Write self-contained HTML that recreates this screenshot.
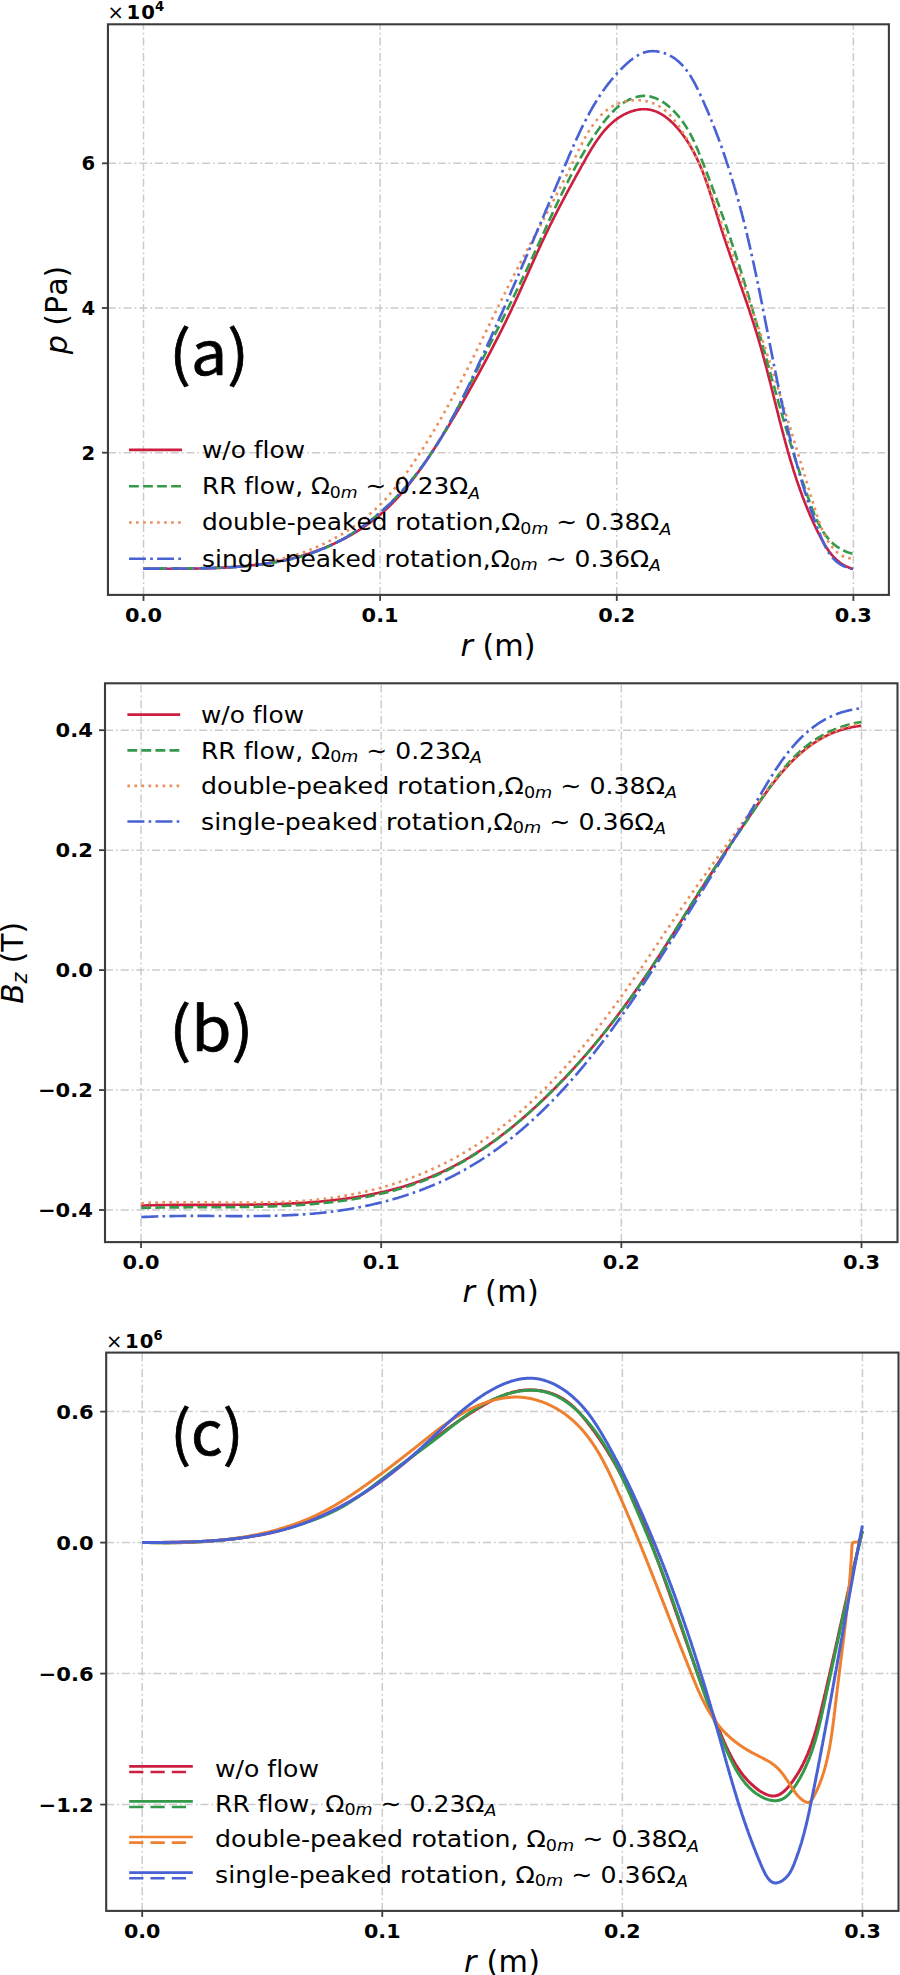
<!DOCTYPE html>
<html><head><meta charset="utf-8"><title>Figure</title>
<style>html,body{margin:0;padding:0;background:#fff;width:900px;height:1975px;overflow:hidden}svg{display:block}</style>
</head><body>
<svg width="900" height="1975" viewBox="0 0 900 1975" font-family="'DejaVu Sans', 'Liberation Sans', sans-serif" fill="#000" style="font-variant-ligatures:none;font-kerning:none">
<rect width="900" height="1975" fill="#fff"/>
<defs>
<clipPath id="clip0"><rect x="107.95" y="24.3" width="780.9499999999999" height="570.6"/></clipPath>
<clipPath id="clip1"><rect x="105.0" y="683.3" width="792.5" height="558.8"/></clipPath>
<clipPath id="clip2"><rect x="106.2" y="1352.6" width="792.3" height="558.3000000000002"/></clipPath>
</defs>
<line x1="143.50" y1="594.90" x2="143.50" y2="24.30" stroke="#cbcbcb" stroke-width="1.5" stroke-dasharray="8 3 1.7 3"/>
<line x1="380.13" y1="594.90" x2="380.13" y2="24.30" stroke="#cbcbcb" stroke-width="1.5" stroke-dasharray="8 3 1.7 3"/>
<line x1="616.76" y1="594.90" x2="616.76" y2="24.30" stroke="#cbcbcb" stroke-width="1.5" stroke-dasharray="8 3 1.7 3"/>
<line x1="853.39" y1="594.90" x2="853.39" y2="24.30" stroke="#cbcbcb" stroke-width="1.5" stroke-dasharray="8 3 1.7 3"/>
<line x1="107.95" y1="163.30" x2="888.90" y2="163.30" stroke="#cbcbcb" stroke-width="1.5" stroke-dasharray="8 3 1.7 3"/>
<line x1="107.95" y1="308.00" x2="888.90" y2="308.00" stroke="#cbcbcb" stroke-width="1.5" stroke-dasharray="8 3 1.7 3"/>
<line x1="107.95" y1="452.70" x2="888.90" y2="452.70" stroke="#cbcbcb" stroke-width="1.5" stroke-dasharray="8 3 1.7 3"/>
<g clip-path="url(#clip0)">
<polyline points="143.1,568.7 144.1,568.7 145.1,568.7 146.1,568.7 147.1,568.7 148.1,568.7 149.1,568.7 150.1,568.7 151.1,568.7 152.1,568.7 153.1,568.7 154.1,568.7 155.1,568.7 156.1,568.7 157.1,568.7 158.1,568.7 159.1,568.7 160.1,568.7 161.1,568.7 162.1,568.7 163.1,568.7 164.1,568.7 165.1,568.7 166.1,568.7 167.1,568.7 168.1,568.7 169.1,568.7 170.1,568.7 171.1,568.7 172.1,568.7 173.1,568.7 174.1,568.7 175.1,568.7 176.1,568.7 177.1,568.7 178.1,568.7 179.1,568.7 180.1,568.7 181.1,568.7 182.1,568.7 183.1,568.7 184.1,568.7 185.1,568.7 186.1,568.7 187.1,568.7 188.1,568.7 189.1,568.6 190.1,568.6 191.1,568.6 192.1,568.6 193.1,568.6 194.1,568.6 195.1,568.6 196.1,568.6 197.1,568.5 198.1,568.5 199.1,568.5 200.1,568.5 201.2,568.5 202.2,568.4 203.2,568.4 204.2,568.4 205.2,568.4 206.2,568.3 207.2,568.3 208.2,568.3 209.2,568.3 210.2,568.2 211.2,568.2 212.2,568.2 213.2,568.1 214.2,568.1 215.2,568.1 216.2,568.0 217.2,568.0 218.2,567.9 219.2,567.9 220.2,567.8 221.2,567.8 222.2,567.7 223.2,567.7 224.2,567.6 225.2,567.6 226.2,567.5 227.2,567.5 228.2,567.4 229.2,567.3 230.2,567.3 231.2,567.2 232.2,567.1 233.2,567.1 234.2,567.0 235.1,566.9 236.1,566.9 237.1,566.8 238.1,566.7 239.1,566.6 240.1,566.5 241.1,566.4 242.1,566.4 243.1,566.3 244.1,566.2 245.1,566.1 246.1,566.0 247.1,565.9 248.1,565.8 249.1,565.7 250.0,565.6 251.0,565.5 252.0,565.3 253.0,565.2 254.0,565.1 255.0,565.0 256.0,564.9 257.0,564.7 257.9,564.6 258.9,564.5 259.9,564.4 260.9,564.2 261.9,564.1 262.9,563.9 263.9,563.8 264.8,563.7 265.8,563.5 266.8,563.3 267.8,563.2 268.8,563.0 269.7,562.9 270.7,562.7 271.7,562.5 272.7,562.4 273.7,562.2 274.6,562.0 275.6,561.8 276.6,561.7 277.6,561.5 278.5,561.3 279.5,561.1 280.5,560.9 281.4,560.7 282.4,560.5 283.4,560.3 284.4,560.1 285.3,559.9 286.3,559.6 287.3,559.4 288.2,559.2 289.2,559.0 290.2,558.7 291.1,558.5 292.1,558.3 293.1,558.0 294.0,557.8 295.0,557.5 295.9,557.3 296.9,557.0 297.9,556.8 298.8,556.5 299.8,556.2 300.7,556.0 301.7,555.7 302.7,555.4 303.6,555.1 304.6,554.8 305.5,554.6 306.5,554.3 307.4,554.0 308.4,553.7 309.3,553.4 310.3,553.0 311.2,552.7 312.2,552.4 313.1,552.1 314.1,551.8 315.0,551.4 315.9,551.1 316.9,550.7 317.8,550.4 318.8,550.1 319.7,549.7 320.6,549.3 321.6,549.0 322.5,548.6 323.5,548.2 324.4,547.9 325.3,547.5 326.3,547.1 327.2,546.7 328.1,546.3 329.0,545.9 330.0,545.5 330.9,545.1 331.8,544.7 332.7,544.3 333.7,543.9 334.6,543.4 335.5,543.0 336.4,542.6 337.3,542.1 338.2,541.7 339.1,541.3 340.1,540.8 341.0,540.4 341.9,539.9 342.8,539.4 343.7,539.0 344.6,538.5 345.5,538.0 346.4,537.5 347.2,537.1 348.1,536.6 349.0,536.1 349.9,535.6 350.8,535.1 351.7,534.6 352.5,534.1 353.4,533.6 354.3,533.0 355.1,532.5 356.0,532.0 356.9,531.5 357.7,530.9 358.6,530.4 359.4,529.9 360.3,529.3 361.1,528.8 362.0,528.2 362.8,527.7 363.7,527.1 364.5,526.5 365.3,526.0 366.2,525.4 367.0,524.8 367.8,524.2 368.6,523.6 369.4,523.0 370.2,522.5 371.0,521.9 371.9,521.3 372.7,520.6 373.4,520.0 374.2,519.4 375.0,518.8 375.8,518.2 376.6,517.6 377.4,516.9 378.1,516.3 378.9,515.7 379.7,515.0 380.4,514.4 381.2,513.7 381.9,513.1 382.7,512.4 383.4,511.8 384.2,511.1 384.9,510.4 385.6,509.8 386.4,509.1 387.1,508.4 387.8,507.7 388.5,507.0 389.2,506.3 389.9,505.6 390.6,505.0 391.3,504.3 392.0,503.6 392.7,502.8 393.4,502.1 394.1,501.4 394.8,500.7 395.5,500.0 396.2,499.3 396.8,498.5 397.5,497.8 398.2,497.1 398.8,496.4 399.5,495.6 400.1,494.9 400.8,494.1 401.5,493.4 402.1,492.6 402.7,491.9 403.4,491.1 404.0,490.4 404.7,489.6 405.3,488.9 405.9,488.1 406.6,487.3 407.2,486.6 407.8,485.8 408.4,485.0 409.0,484.3 409.7,483.5 410.3,482.7 410.9,481.9 411.5,481.1 412.1,480.4 412.7,479.6 413.3,478.8 413.9,478.0 414.5,477.2 415.1,476.4 415.7,475.6 416.3,474.8 416.9,474.0 417.5,473.2 418.0,472.4 418.6,471.6 419.2,470.8 419.8,470.0 420.4,469.2 420.9,468.3 421.5,467.5 422.1,466.7 422.7,465.9 423.2,465.1 423.8,464.3 424.4,463.4 424.9,462.6 425.5,461.8 426.1,461.0 426.6,460.1 427.2,459.3 427.7,458.5 428.3,457.6 428.8,456.8 429.4,456.0 430.0,455.2 430.5,454.3 431.1,453.5 431.6,452.6 432.2,451.8 432.7,451.0 433.3,450.1 433.8,449.3 434.4,448.5 434.9,447.6 435.4,446.8 436.0,445.9 436.5,445.1 437.1,444.3 437.6,443.4 438.2,442.6 438.7,441.7 439.2,440.9 439.8,440.0 440.3,439.2 440.8,438.3 441.4,437.5 441.9,436.6 442.4,435.8 443.0,434.9 443.5,434.1 444.0,433.2 444.6,432.4 445.1,431.5 445.6,430.7 446.2,429.8 446.7,429.0 447.2,428.1 447.7,427.3 448.3,426.4 448.8,425.6 449.3,424.7 449.8,423.8 450.3,423.0 450.9,422.1 451.4,421.3 451.9,420.4 452.4,419.5 452.9,418.7 453.5,417.8 454.0,417.0 454.5,416.1 455.0,415.2 455.5,414.4 456.0,413.5 456.5,412.6 457.0,411.8 457.5,410.9 458.1,410.1 458.6,409.2 459.1,408.3 459.6,407.5 460.1,406.6 460.6,405.7 461.1,404.9 461.6,404.0 462.1,403.1 462.6,402.3 463.1,401.4 463.6,400.5 464.1,399.6 464.6,398.8 465.1,397.9 465.6,397.0 466.1,396.2 466.6,395.3 467.1,394.4 467.6,393.6 468.1,392.7 468.6,391.8 469.0,390.9 469.5,390.1 470.0,389.2 470.5,388.3 471.0,387.5 471.5,386.6 472.0,385.7 472.5,384.8 473.0,384.0 473.4,383.1 473.9,382.2 474.4,381.3 474.9,380.5 475.4,379.6 475.9,378.7 476.3,377.9 476.8,377.0 477.3,376.1 477.8,375.2 478.3,374.4 478.7,373.5 479.2,372.6 479.7,371.7 480.2,370.9 480.6,370.0 481.1,369.1 481.6,368.2 482.1,367.4 482.5,366.5 483.0,365.6 483.5,364.7 483.9,363.9 484.4,363.0 484.9,362.1 485.4,361.3 485.8,360.4 486.3,359.5 486.8,358.6 487.2,357.8 487.7,356.9 488.2,356.0 488.6,355.1 489.1,354.3 489.5,353.4 490.0,352.5 490.5,351.6 490.9,350.7 491.4,349.9 491.8,349.0 492.3,348.1 492.8,347.2 493.2,346.4 493.7,345.5 494.1,344.6 494.6,343.7 495.0,342.8 495.5,342.0 495.9,341.1 496.4,340.2 496.8,339.3 497.3,338.4 497.7,337.6 498.2,336.7 498.6,335.8 499.1,334.9 499.5,334.0 500.0,333.1 500.4,332.2 500.9,331.4 501.3,330.5 501.8,329.6 502.2,328.7 502.7,327.8 503.1,326.9 503.5,326.0 504.0,325.1 504.4,324.2 504.9,323.3 505.3,322.5 505.7,321.6 506.2,320.7 506.6,319.8 507.0,318.9 507.5,318.0 507.9,317.1 508.3,316.2 508.8,315.3 509.2,314.4 509.6,313.5 510.1,312.6 510.5,311.7 510.9,310.8 511.4,309.8 511.8,308.9 512.2,308.0 512.6,307.1 513.1,306.2 513.5,305.3 513.9,304.4 514.3,303.5 514.8,302.6 515.2,301.6 515.6,300.7 516.0,299.8 516.4,298.9 516.9,298.0 517.3,297.1 517.7,296.1 518.1,295.2 518.5,294.3 519.0,293.4 519.4,292.5 519.8,291.5 520.2,290.6 520.6,289.7 521.0,288.8 521.5,287.9 521.9,286.9 522.3,286.0 522.7,285.1 523.1,284.2 523.5,283.2 523.9,282.3 524.4,281.4 524.8,280.5 525.2,279.5 525.6,278.6 526.0,277.7 526.4,276.8 526.8,275.8 527.2,274.9 527.7,274.0 528.1,273.1 528.5,272.1 528.9,271.2 529.3,270.3 529.7,269.4 530.1,268.4 530.5,267.5 531.0,266.6 531.4,265.7 531.8,264.8 532.2,263.8 532.6,262.9 533.0,262.0 533.4,261.1 533.8,260.2 534.3,259.2 534.7,258.3 535.1,257.4 535.5,256.5 535.9,255.6 536.3,254.7 536.7,253.7 537.1,252.8 537.6,251.9 538.0,251.0 538.4,250.1 538.8,249.2 539.2,248.3 539.6,247.4 540.1,246.5 540.5,245.6 540.9,244.7 541.3,243.7 541.7,242.8 542.2,241.9 542.6,241.0 543.0,240.1 543.4,239.3 543.8,238.4 544.3,237.5 544.7,236.6 545.1,235.7 545.5,234.8 546.0,233.9 546.4,233.0 546.8,232.1 547.2,231.2 547.7,230.4 548.1,229.5 548.5,228.6 548.9,227.7 549.4,226.8 549.8,226.0 550.2,225.1 550.7,224.2 551.1,223.3 551.5,222.5 552.0,221.6 552.4,220.7 552.8,219.9 553.3,219.0 553.7,218.1 554.2,217.2 554.6,216.4 555.0,215.5 555.5,214.6 555.9,213.8 556.4,212.9 556.8,212.0 557.3,211.2 557.7,210.3 558.1,209.5 558.6,208.6 559.0,207.7 559.5,206.9 559.9,206.0 560.4,205.1 560.8,204.3 561.3,203.4 561.7,202.6 562.2,201.7 562.7,200.8 563.1,200.0 563.6,199.1 564.0,198.2 564.5,197.4 565.0,196.5 565.4,195.7 565.9,194.8 566.3,193.9 566.8,193.1 567.3,192.2 567.7,191.3 568.2,190.5 568.7,189.6 569.1,188.7 569.6,187.9 570.1,187.0 570.6,186.1 571.0,185.3 571.5,184.4 572.0,183.5 572.5,182.7 572.9,181.8 573.4,180.9 573.9,180.0 574.4,179.2 574.9,178.3 575.3,177.4 575.8,176.5 576.3,175.6 576.8,174.8 577.3,173.9 577.8,173.0 578.3,172.1 578.8,171.2 579.3,170.3 579.8,169.4 580.3,168.6 580.7,167.7 581.2,166.8 581.7,165.9 582.2,165.0 582.8,164.1 583.3,163.2 583.8,162.3 584.3,161.4 584.8,160.5 585.3,159.6 585.8,158.6 586.3,157.7 586.8,156.8 587.3,155.9 587.9,155.0 588.4,154.1 588.9,153.2 589.4,152.3 590.0,151.4 590.5,150.5 591.1,149.6 591.6,148.7 592.1,147.8 592.7,146.9 593.3,146.0 593.8,145.2 594.4,144.3 594.9,143.4 595.5,142.5 596.1,141.7 596.7,140.8 597.3,140.0 597.9,139.1 598.5,138.3 599.1,137.4 599.7,136.6 600.3,135.8 600.9,135.0 601.6,134.1 602.2,133.3 602.8,132.5 603.5,131.8 604.1,131.0 604.8,130.2 605.5,129.4 606.1,128.7 606.8,128.0 607.5,127.2 608.2,126.5 608.9,125.8 609.7,125.1 610.4,124.4 611.1,123.7 611.9,123.0 612.6,122.4 613.4,121.7 614.1,121.1 614.9,120.5 615.7,119.9 616.5,119.3 617.3,118.7 618.1,118.1 618.9,117.6 619.8,117.0 620.6,116.5 621.5,116.0 622.3,115.5 623.2,115.0 624.0,114.5 624.9,114.1 625.8,113.7 626.7,113.3 627.6,112.9 628.5,112.5 629.4,112.1 630.3,111.8 631.2,111.5 632.1,111.2 633.0,110.9 633.9,110.6 634.8,110.4 635.7,110.2 636.6,110.0 637.6,109.8 638.5,109.6 639.4,109.5 640.3,109.4 641.2,109.3 642.1,109.2 643.0,109.2 644.0,109.2 644.9,109.2 645.8,109.2 646.7,109.3 647.6,109.4 648.5,109.5 649.3,109.6 650.2,109.8 651.1,110.0 652.0,110.2 652.9,110.4 653.7,110.7 654.6,111.0 655.4,111.3 656.3,111.6 657.1,112.0 658.0,112.4 658.8,112.8 659.6,113.2 660.5,113.6 661.3,114.1 662.1,114.6 662.9,115.1 663.7,115.6 664.5,116.2 665.3,116.7 666.0,117.3 666.8,117.9 667.6,118.5 668.3,119.1 669.1,119.7 669.8,120.4 670.6,121.0 671.3,121.7 672.1,122.4 672.8,123.1 673.5,123.8 674.2,124.5 674.9,125.3 675.6,126.0 676.3,126.8 677.0,127.5 677.6,128.3 678.3,129.1 679.0,129.8 679.6,130.6 680.2,131.4 680.9,132.2 681.5,133.0 682.1,133.8 682.7,134.6 683.3,135.5 683.9,136.3 684.5,137.1 685.1,137.9 685.7,138.8 686.2,139.6 686.8,140.4 687.4,141.3 687.9,142.1 688.4,143.0 689.0,143.8 689.5,144.7 690.0,145.6 690.5,146.4 691.0,147.3 691.5,148.2 692.0,149.0 692.5,149.9 693.0,150.8 693.5,151.7 694.0,152.6 694.4,153.5 694.9,154.4 695.3,155.3 695.8,156.2 696.2,157.1 696.7,158.0 697.1,158.9 697.5,159.8 698.0,160.7 698.4,161.6 698.8,162.5 699.2,163.5 699.6,164.4 700.0,165.3 700.4,166.2 700.8,167.2 701.2,168.1 701.6,169.0 702.0,170.0 702.3,170.9 702.7,171.8 703.1,172.8 703.4,173.7 703.8,174.7 704.2,175.6 704.5,176.6 704.9,177.5 705.2,178.5 705.6,179.4 705.9,180.4 706.2,181.3 706.6,182.3 706.9,183.3 707.3,184.2 707.6,185.2 707.9,186.1 708.2,187.1 708.6,188.1 708.9,189.0 709.2,190.0 709.5,191.0 709.8,191.9 710.1,192.9 710.4,193.9 710.8,194.9 711.1,195.8 711.4,196.8 711.7,197.8 712.0,198.7 712.3,199.7 712.6,200.7 712.9,201.7 713.2,202.6 713.5,203.6 713.8,204.6 714.1,205.6 714.4,206.5 714.7,207.5 715.0,208.5 715.3,209.4 715.6,210.4 715.9,211.4 716.2,212.4 716.5,213.3 716.8,214.3 717.1,215.3 717.4,216.3 717.7,217.2 718.0,218.2 718.3,219.2 718.6,220.1 718.9,221.1 719.2,222.1 719.5,223.0 719.8,224.0 720.1,225.0 720.4,225.9 720.7,226.9 721.0,227.8 721.3,228.8 721.6,229.8 721.9,230.7 722.3,231.7 722.6,232.6 722.9,233.6 723.2,234.5 723.5,235.5 723.8,236.5 724.1,237.4 724.5,238.4 724.8,239.3 725.1,240.3 725.4,241.2 725.7,242.2 726.0,243.1 726.4,244.1 726.7,245.0 727.0,246.0 727.3,246.9 727.7,247.9 728.0,248.8 728.3,249.8 728.6,250.7 728.9,251.6 729.3,252.6 729.6,253.5 729.9,254.5 730.2,255.4 730.6,256.4 730.9,257.3 731.2,258.2 731.6,259.2 731.9,260.1 732.2,261.1 732.5,262.0 732.9,263.0 733.2,263.9 733.5,264.8 733.8,265.8 734.2,266.7 734.5,267.6 734.8,268.6 735.2,269.5 735.5,270.5 735.8,271.4 736.1,272.3 736.5,273.3 736.8,274.2 737.1,275.1 737.5,276.1 737.8,277.0 738.1,278.0 738.4,278.9 738.8,279.8 739.1,280.8 739.4,281.7 739.8,282.6 740.1,283.6 740.4,284.5 740.7,285.4 741.1,286.4 741.4,287.3 741.7,288.2 742.0,289.2 742.4,290.1 742.7,291.1 743.0,292.0 743.3,292.9 743.7,293.9 744.0,294.8 744.3,295.7 744.6,296.7 745.0,297.6 745.3,298.5 745.6,299.5 745.9,300.4 746.2,301.3 746.6,302.3 746.9,303.2 747.2,304.2 747.5,305.1 747.8,306.0 748.1,307.0 748.5,307.9 748.8,308.8 749.1,309.8 749.4,310.7 749.7,311.7 750.0,312.6 750.3,313.5 750.6,314.5 751.0,315.4 751.3,316.3 751.6,317.3 751.9,318.2 752.2,319.2 752.5,320.1 752.8,321.1 753.1,322.0 753.4,322.9 753.7,323.9 754.0,324.8 754.3,325.8 754.6,326.7 754.9,327.7 755.2,328.6 755.5,329.5 755.8,330.5 756.1,331.4 756.4,332.4 756.7,333.3 757.0,334.3 757.2,335.2 757.5,336.2 757.8,337.1 758.1,338.1 758.4,339.0 758.7,340.0 758.9,340.9 759.2,341.9 759.5,342.8 759.8,343.8 760.1,344.7 760.3,345.7 760.6,346.7 760.9,347.6 761.2,348.6 761.4,349.5 761.7,350.5 762.0,351.4 762.2,352.4 762.5,353.4 762.8,354.3 763.0,355.3 763.3,356.2 763.5,357.2 763.8,358.2 764.1,359.1 764.3,360.1 764.6,361.1 764.8,362.0 765.1,363.0 765.4,363.9 765.6,364.9 765.9,365.9 766.1,366.8 766.4,367.8 766.6,368.8 766.9,369.7 767.1,370.7 767.4,371.7 767.6,372.6 767.9,373.6 768.1,374.6 768.4,375.5 768.6,376.5 768.9,377.5 769.1,378.4 769.4,379.4 769.6,380.4 769.9,381.4 770.1,382.3 770.4,383.3 770.6,384.3 770.9,385.2 771.1,386.2 771.3,387.2 771.6,388.2 771.8,389.1 772.1,390.1 772.3,391.1 772.6,392.0 772.8,393.0 773.0,394.0 773.3,395.0 773.5,395.9 773.8,396.9 774.0,397.9 774.3,398.9 774.5,399.8 774.7,400.8 775.0,401.8 775.2,402.7 775.5,403.7 775.7,404.7 776.0,405.7 776.2,406.6 776.4,407.6 776.7,408.6 776.9,409.6 777.2,410.5 777.4,411.5 777.7,412.5 777.9,413.5 778.2,414.4 778.4,415.4 778.6,416.4 778.9,417.4 779.1,418.3 779.4,419.3 779.6,420.3 779.9,421.2 780.1,422.2 780.4,423.2 780.6,424.2 780.9,425.1 781.1,426.1 781.4,427.1 781.6,428.1 781.9,429.0 782.1,430.0 782.4,431.0 782.7,431.9 782.9,432.9 783.2,433.9 783.4,434.9 783.7,435.8 783.9,436.8 784.2,437.8 784.5,438.7 784.7,439.7 785.0,440.7 785.2,441.6 785.5,442.6 785.8,443.6 786.0,444.5 786.3,445.5 786.6,446.5 786.8,447.4 787.1,448.4 787.4,449.4 787.6,450.3 787.9,451.3 788.2,452.3 788.5,453.2 788.7,454.2 789.0,455.2 789.3,456.1 789.6,457.1 789.9,458.1 790.1,459.0 790.4,460.0 790.7,460.9 791.0,461.9 791.3,462.9 791.6,463.8 791.9,464.8 792.2,465.7 792.5,466.7 792.8,467.7 793.0,468.6 793.3,469.6 793.6,470.5 793.9,471.5 794.2,472.4 794.6,473.4 794.9,474.3 795.2,475.3 795.5,476.3 795.8,477.2 796.1,478.2 796.4,479.1 796.7,480.1 797.0,481.0 797.4,482.0 797.7,482.9 798.0,483.9 798.3,484.8 798.7,485.7 799.0,486.7 799.3,487.6 799.7,488.6 800.0,489.5 800.3,490.5 800.7,491.4 801.0,492.3 801.4,493.3 801.7,494.2 802.0,495.2 802.4,496.1 802.7,497.0 803.1,498.0 803.5,498.9 803.8,499.8 804.2,500.8 804.5,501.7 804.9,502.6 805.3,503.6 805.6,504.5 806.0,505.4 806.4,506.4 806.8,507.3 807.1,508.2 807.5,509.1 807.9,510.1 808.3,511.0 808.7,511.9 809.1,512.8 809.5,513.8 809.8,514.7 810.2,515.6 810.6,516.5 811.0,517.4 811.5,518.4 811.9,519.3 812.3,520.2 812.7,521.1 813.1,522.0 813.5,522.9 813.9,523.8 814.4,524.7 814.8,525.7 815.2,526.6 815.7,527.5 816.1,528.4 816.5,529.3 817.0,530.2 817.4,531.1 817.9,532.0 818.3,532.9 818.8,533.8 819.2,534.7 819.7,535.6 820.2,536.5 820.6,537.4 821.1,538.3 821.6,539.1 822.0,540.0 822.5,540.9 823.0,541.8 823.5,542.6 824.0,543.5 824.5,544.4 825.0,545.2 825.6,546.1 826.1,546.9 826.6,547.7 827.2,548.6 827.7,549.4 828.3,550.2 828.8,551.0 829.4,551.8 830.0,552.5 830.6,553.3 831.2,554.1 831.8,554.8 832.4,555.5 833.1,556.3 833.7,557.0 834.4,557.7 835.0,558.3 835.7,559.0 836.4,559.7 837.1,560.3 837.8,560.9 838.6,561.5 839.3,562.1 840.1,562.7 840.9,563.3 841.6,563.8 842.4,564.3 843.3,564.8 844.1,565.3 844.9,565.8 845.8,566.2 846.7,566.6 847.6,567.0 848.5,567.4 849.4,567.8 850.4,568.1 851.3,568.4 852.3,568.7 853.3,569.0" fill="none" stroke="#cc1f40" stroke-width="2.65" stroke-linejoin="round" stroke-linecap="butt"/>
<polyline points="143.1,568.7 144.1,568.7 145.0,568.7 146.0,568.6 146.9,568.6 147.9,568.6 148.9,568.6 149.8,568.6 150.8,568.6 151.8,568.5 152.7,568.5 153.7,568.5 154.7,568.5 155.6,568.5 156.6,568.5 157.6,568.5 158.6,568.5 159.6,568.5 160.5,568.5 161.5,568.4 162.5,568.4 163.5,568.4 164.5,568.4 165.4,568.4 166.4,568.4 167.4,568.4 168.4,568.4 169.4,568.4 170.4,568.4 171.4,568.4 172.4,568.4 173.4,568.4 174.4,568.4 175.4,568.4 176.4,568.4 177.4,568.4 178.4,568.4 179.4,568.4 180.4,568.3 181.4,568.3 182.4,568.3 183.4,568.3 184.4,568.3 185.4,568.3 186.4,568.3 187.4,568.3 188.4,568.3 189.4,568.3 190.4,568.3 191.4,568.3 192.4,568.3 193.4,568.3 194.4,568.2 195.5,568.2 196.5,568.2 197.5,568.2 198.5,568.2 199.5,568.2 200.5,568.2 201.5,568.1 202.5,568.1 203.6,568.1 204.6,568.1 205.6,568.1 206.6,568.1 207.6,568.0 208.6,568.0 209.7,568.0 210.7,568.0 211.7,567.9 212.7,567.9 213.7,567.9 214.7,567.8 215.8,567.8 216.8,567.8 217.8,567.7 218.8,567.7 219.8,567.7 220.8,567.6 221.9,567.6 222.9,567.5 223.9,567.5 224.9,567.5 225.9,567.4 226.9,567.4 228.0,567.3 229.0,567.3 230.0,567.2 231.0,567.1 232.0,567.1 233.0,567.0 234.1,567.0 235.1,566.9 236.1,566.8 237.1,566.8 238.1,566.7 239.1,566.6 240.2,566.6 241.2,566.5 242.2,566.4 243.2,566.3 244.2,566.2 245.2,566.1 246.2,566.1 247.2,566.0 248.3,565.9 249.3,565.8 250.3,565.7 251.3,565.6 252.3,565.5 253.3,565.4 254.3,565.3 255.3,565.2 256.3,565.0 257.3,564.9 258.3,564.8 259.3,564.7 260.3,564.6 261.3,564.4 262.3,564.3 263.3,564.2 264.3,564.0 265.3,563.9 266.3,563.8 267.3,563.6 268.3,563.5 269.3,563.3 270.3,563.2 271.3,563.0 272.3,562.8 273.3,562.7 274.3,562.5 275.3,562.3 276.3,562.2 277.2,562.0 278.2,561.8 279.2,561.6 280.2,561.4 281.2,561.3 282.2,561.1 283.1,560.9 284.1,560.7 285.1,560.5 286.1,560.2 287.0,560.0 288.0,559.8 289.0,559.6 290.0,559.4 290.9,559.1 291.9,558.9 292.9,558.7 293.8,558.4 294.8,558.2 295.8,557.9 296.7,557.7 297.7,557.4 298.6,557.2 299.6,556.9 300.5,556.6 301.5,556.4 302.4,556.1 303.4,555.8 304.3,555.5 305.3,555.2 306.2,554.9 307.2,554.6 308.1,554.3 309.0,554.0 310.0,553.7 310.9,553.4 311.8,553.1 312.8,552.8 313.7,552.4 314.6,552.1 315.6,551.8 316.5,551.4 317.4,551.1 318.3,550.7 319.2,550.3 320.2,550.0 321.1,549.6 322.0,549.2 322.9,548.9 323.8,548.5 324.7,548.1 325.6,547.7 326.5,547.3 327.4,546.9 328.3,546.5 329.2,546.1 330.1,545.7 331.0,545.2 331.9,544.8 332.7,544.4 333.6,543.9 334.5,543.5 335.4,543.1 336.3,542.6 337.1,542.2 338.0,541.7 338.9,541.2 339.7,540.8 340.6,540.3 341.5,539.8 342.3,539.3 343.2,538.9 344.1,538.4 344.9,537.9 345.8,537.4 346.6,536.9 347.5,536.4 348.3,535.9 349.2,535.3 350.0,534.8 350.8,534.3 351.7,533.8 352.5,533.2 353.3,532.7 354.2,532.2 355.0,531.6 355.8,531.1 356.6,530.5 357.5,530.0 358.3,529.4 359.1,528.9 359.9,528.3 360.7,527.7 361.5,527.2 362.3,526.6 363.2,526.0 364.0,525.4 364.8,524.8 365.6,524.2 366.3,523.6 367.1,523.0 367.9,522.4 368.7,521.8 369.5,521.2 370.3,520.6 371.1,520.0 371.9,519.4 372.6,518.7 373.4,518.1 374.2,517.5 374.9,516.9 375.7,516.2 376.5,515.6 377.2,514.9 378.0,514.3 378.8,513.6 379.5,513.0 380.3,512.3 381.0,511.7 381.8,511.0 382.5,510.3 383.3,509.7 384.0,509.0 384.7,508.3 385.5,507.6 386.2,507.0 386.9,506.3 387.7,505.6 388.4,504.9 389.1,504.2 389.8,503.5 390.6,502.8 391.3,502.1 392.0,501.4 392.7,500.7 393.4,500.0 394.1,499.3 394.8,498.6 395.5,497.9 396.2,497.1 396.9,496.4 397.6,495.7 398.3,495.0 399.0,494.2 399.7,493.5 400.3,492.8 401.0,492.0 401.7,491.3 402.4,490.5 403.0,489.8 403.7,489.1 404.4,488.3 405.0,487.6 405.7,486.8 406.4,486.0 407.0,485.3 407.7,484.5 408.3,483.8 409.0,483.0 409.6,482.2 410.3,481.5 410.9,480.7 411.6,479.9 412.2,479.1 412.8,478.4 413.4,477.6 414.1,476.8 414.7,476.0 415.3,475.2 415.9,474.4 416.6,473.7 417.2,472.9 417.8,472.1 418.4,471.3 419.0,470.5 419.6,469.7 420.2,468.9 420.8,468.1 421.4,467.3 422.0,466.5 422.6,465.7 423.2,464.9 423.7,464.1 424.3,463.2 424.9,462.4 425.5,461.6 426.1,460.8 426.6,460.0 427.2,459.2 427.8,458.3 428.3,457.5 428.9,456.7 429.5,455.9 430.0,455.0 430.6,454.2 431.1,453.4 431.7,452.6 432.2,451.7 432.8,450.9 433.3,450.1 433.9,449.2 434.4,448.4 434.9,447.5 435.5,446.7 436.0,445.9 436.5,445.0 437.1,444.2 437.6,443.3 438.1,442.5 438.6,441.6 439.2,440.8 439.7,439.9 440.2,439.1 440.7,438.2 441.2,437.4 441.7,436.5 442.3,435.7 442.8,434.8 443.3,434.0 443.8,433.1 444.3,432.2 444.8,431.4 445.3,430.5 445.8,429.7 446.3,428.8 446.8,427.9 447.3,427.1 447.8,426.2 448.3,425.3 448.8,424.5 449.2,423.6 449.7,422.7 450.2,421.8 450.7,421.0 451.2,420.1 451.7,419.2 452.1,418.4 452.6,417.5 453.1,416.6 453.6,415.7 454.1,414.8 454.5,414.0 455.0,413.1 455.5,412.2 456.0,411.3 456.4,410.4 456.9,409.6 457.4,408.7 457.8,407.8 458.3,406.9 458.8,406.0 459.2,405.1 459.7,404.3 460.2,403.4 460.6,402.5 461.1,401.6 461.5,400.7 462.0,399.8 462.5,398.9 462.9,398.0 463.4,397.2 463.8,396.3 464.3,395.4 464.7,394.5 465.2,393.6 465.7,392.7 466.1,391.8 466.6,390.9 467.0,390.0 467.5,389.1 467.9,388.2 468.4,387.4 468.8,386.5 469.3,385.6 469.7,384.7 470.2,383.8 470.6,382.9 471.1,382.0 471.5,381.1 472.0,380.2 472.4,379.3 472.9,378.4 473.3,377.5 473.8,376.6 474.2,375.7 474.7,374.8 475.1,373.9 475.6,373.0 476.0,372.1 476.5,371.2 476.9,370.3 477.4,369.4 477.8,368.6 478.3,367.7 478.7,366.8 479.2,365.9 479.6,365.0 480.1,364.1 480.5,363.2 481.0,362.3 481.4,361.4 481.9,360.5 482.3,359.6 482.8,358.7 483.2,357.8 483.7,356.9 484.1,356.0 484.6,355.1 485.0,354.2 485.5,353.3 485.9,352.4 486.4,351.5 486.8,350.6 487.3,349.8 487.7,348.9 488.2,348.0 488.6,347.1 489.1,346.2 489.5,345.3 490.0,344.4 490.4,343.5 490.9,342.6 491.3,341.7 491.8,340.8 492.2,339.9 492.7,339.0 493.1,338.1 493.5,337.2 494.0,336.3 494.4,335.4 494.9,334.5 495.3,333.6 495.8,332.7 496.2,331.8 496.7,331.0 497.1,330.1 497.6,329.2 498.0,328.3 498.5,327.4 498.9,326.5 499.4,325.6 499.8,324.7 500.3,323.8 500.7,322.9 501.2,322.0 501.6,321.1 502.1,320.2 502.5,319.3 502.9,318.4 503.4,317.5 503.8,316.6 504.3,315.7 504.7,314.8 505.2,313.9 505.6,313.0 506.1,312.1 506.5,311.2 506.9,310.4 507.4,309.5 507.8,308.6 508.3,307.7 508.7,306.8 509.2,305.9 509.6,305.0 510.0,304.1 510.5,303.2 510.9,302.3 511.4,301.4 511.8,300.5 512.3,299.6 512.7,298.7 513.1,297.8 513.6,296.9 514.0,296.0 514.4,295.1 514.9,294.2 515.3,293.3 515.8,292.4 516.2,291.5 516.6,290.6 517.1,289.7 517.5,288.8 517.9,287.9 518.4,287.0 518.8,286.1 519.2,285.2 519.7,284.3 520.1,283.4 520.5,282.5 521.0,281.6 521.4,280.7 521.8,279.8 522.3,278.9 522.7,278.0 523.1,277.1 523.6,276.2 524.0,275.4 524.4,274.5 524.8,273.6 525.3,272.7 525.7,271.8 526.1,270.9 526.5,270.0 527.0,269.1 527.4,268.2 527.8,267.3 528.2,266.4 528.7,265.5 529.1,264.6 529.5,263.7 529.9,262.8 530.4,261.9 530.8,260.9 531.2,260.0 531.6,259.1 532.0,258.2 532.5,257.3 532.9,256.4 533.3,255.5 533.7,254.6 534.1,253.7 534.5,252.8 534.9,251.9 535.4,251.0 535.8,250.1 536.2,249.2 536.6,248.3 537.0,247.4 537.4,246.5 537.8,245.6 538.2,244.7 538.7,243.8 539.1,242.9 539.5,242.0 539.9,241.1 540.3,240.2 540.7,239.3 541.1,238.4 541.5,237.5 541.9,236.6 542.3,235.7 542.8,234.8 543.2,233.9 543.6,233.0 544.0,232.1 544.4,231.2 544.8,230.3 545.2,229.4 545.6,228.5 546.0,227.6 546.4,226.6 546.8,225.7 547.3,224.8 547.7,223.9 548.1,223.0 548.5,222.1 548.9,221.2 549.3,220.3 549.7,219.4 550.1,218.5 550.5,217.6 551.0,216.7 551.4,215.8 551.8,214.9 552.2,214.0 552.6,213.1 553.0,212.2 553.4,211.3 553.9,210.4 554.3,209.5 554.7,208.6 555.1,207.7 555.5,206.8 556.0,205.9 556.4,205.0 556.8,204.1 557.2,203.2 557.7,202.3 558.1,201.4 558.5,200.5 558.9,199.6 559.4,198.7 559.8,197.8 560.2,196.9 560.6,196.0 561.1,195.1 561.5,194.3 561.9,193.4 562.4,192.5 562.8,191.6 563.3,190.7 563.7,189.8 564.1,188.9 564.6,188.0 565.0,187.1 565.5,186.2 565.9,185.3 566.4,184.4 566.8,183.5 567.3,182.6 567.7,181.8 568.2,180.9 568.6,180.0 569.1,179.1 569.5,178.2 570.0,177.3 570.4,176.4 570.9,175.5 571.4,174.6 571.8,173.8 572.3,172.9 572.8,172.0 573.2,171.1 573.7,170.2 574.2,169.3 574.7,168.5 575.1,167.6 575.6,166.7 576.1,165.8 576.6,164.9 577.1,164.0 577.6,163.2 578.1,162.3 578.6,161.4 579.0,160.5 579.5,159.7 580.0,158.8 580.5,157.9 581.0,157.0 581.6,156.1 582.1,155.3 582.6,154.4 583.1,153.5 583.6,152.7 584.1,151.8 584.6,150.9 585.2,150.0 585.7,149.2 586.2,148.3 586.7,147.4 587.3,146.6 587.8,145.7 588.3,144.8 588.9,144.0 589.4,143.1 590.0,142.2 590.5,141.4 591.1,140.5 591.6,139.6 592.2,138.8 592.7,137.9 593.3,137.1 593.9,136.2 594.4,135.4 595.0,134.5 595.6,133.6 596.1,132.8 596.7,131.9 597.3,131.1 597.9,130.2 598.5,129.4 599.1,128.5 599.7,127.7 600.3,126.8 600.9,126.0 601.5,125.2 602.1,124.3 602.7,123.5 603.3,122.7 603.9,121.9 604.6,121.0 605.2,120.2 605.8,119.4 606.5,118.6 607.1,117.9 607.8,117.1 608.5,116.3 609.1,115.6 609.8,114.8 610.5,114.1 611.2,113.3 611.9,112.6 612.6,111.9 613.3,111.2 614.0,110.5 614.7,109.8 615.4,109.1 616.1,108.4 616.9,107.8 617.6,107.2 618.4,106.5 619.2,105.9 619.9,105.3 620.7,104.7 621.5,104.2 622.3,103.6 623.1,103.1 623.9,102.5 624.7,102.0 625.6,101.5 626.4,101.1 627.3,100.6 628.1,100.2 629.0,99.7 629.9,99.3 630.8,98.9 631.7,98.6 632.6,98.2 633.5,97.9 634.4,97.6 635.4,97.3 636.3,97.0 637.3,96.8 638.2,96.6 639.2,96.4 640.1,96.2 641.1,96.1 642.0,96.0 643.0,95.9 644.0,95.9 644.9,95.9 645.9,96.0 646.8,96.0 647.7,96.1 648.7,96.3 649.6,96.4 650.5,96.6 651.5,96.9 652.4,97.1 653.3,97.4 654.2,97.7 655.1,98.0 656.0,98.4 656.9,98.8 657.8,99.2 658.7,99.6 659.6,100.1 660.4,100.6 661.3,101.1 662.2,101.6 663.0,102.1 663.9,102.7 664.7,103.2 665.5,103.8 666.3,104.4 667.2,105.1 668.0,105.7 668.8,106.4 669.5,107.0 670.3,107.7 671.1,108.4 671.9,109.1 672.6,109.8 673.3,110.6 674.1,111.3 674.8,112.1 675.5,112.8 676.2,113.6 676.9,114.4 677.6,115.1 678.2,115.9 678.9,116.7 679.5,117.5 680.2,118.3 680.8,119.1 681.4,119.9 682.0,120.7 682.6,121.5 683.2,122.4 683.8,123.2 684.3,124.0 684.9,124.8 685.4,125.7 686.0,126.5 686.5,127.4 687.0,128.2 687.5,129.1 688.0,129.9 688.5,130.8 689.0,131.7 689.5,132.5 690.0,133.4 690.5,134.3 690.9,135.1 691.4,136.0 691.8,136.9 692.3,137.8 692.7,138.7 693.1,139.6 693.6,140.4 694.0,141.3 694.4,142.2 694.8,143.1 695.2,144.0 695.6,144.9 696.0,145.8 696.4,146.8 696.8,147.7 697.2,148.6 697.6,149.5 698.0,150.4 698.4,151.3 698.7,152.2 699.1,153.2 699.5,154.1 699.9,155.0 700.2,155.9 700.6,156.8 701.0,157.8 701.3,158.7 701.7,159.6 702.0,160.5 702.4,161.5 702.8,162.4 703.1,163.3 703.5,164.2 703.9,165.2 704.2,166.1 704.6,167.0 704.9,168.0 705.3,168.9 705.7,169.8 706.0,170.8 706.4,171.7 706.7,172.6 707.1,173.6 707.4,174.5 707.8,175.4 708.1,176.4 708.5,177.3 708.9,178.2 709.2,179.2 709.6,180.1 709.9,181.0 710.3,182.0 710.6,182.9 711.0,183.8 711.3,184.8 711.7,185.7 712.0,186.7 712.4,187.6 712.7,188.5 713.1,189.5 713.4,190.4 713.8,191.3 714.1,192.3 714.5,193.2 714.8,194.2 715.1,195.1 715.5,196.1 715.8,197.0 716.2,197.9 716.5,198.9 716.9,199.8 717.2,200.8 717.5,201.7 717.9,202.7 718.2,203.6 718.6,204.5 718.9,205.5 719.2,206.4 719.6,207.4 719.9,208.3 720.3,209.3 720.6,210.2 720.9,211.2 721.3,212.1 721.6,213.1 721.9,214.0 722.3,215.0 722.6,215.9 722.9,216.9 723.3,217.8 723.6,218.7 723.9,219.7 724.3,220.6 724.6,221.6 724.9,222.5 725.3,223.5 725.6,224.4 725.9,225.4 726.2,226.3 726.6,227.3 726.9,228.2 727.2,229.2 727.5,230.2 727.9,231.1 728.2,232.1 728.5,233.0 728.8,234.0 729.2,234.9 729.5,235.9 729.8,236.8 730.1,237.8 730.5,238.7 730.8,239.7 731.1,240.6 731.4,241.6 731.7,242.5 732.0,243.5 732.4,244.4 732.7,245.4 733.0,246.3 733.3,247.3 733.6,248.3 733.9,249.2 734.2,250.2 734.6,251.1 734.9,252.1 735.2,253.0 735.5,254.0 735.8,254.9 736.1,255.9 736.4,256.8 736.7,257.8 737.0,258.8 737.3,259.7 737.7,260.7 738.0,261.6 738.3,262.6 738.6,263.5 738.9,264.5 739.2,265.4 739.5,266.4 739.8,267.4 740.1,268.3 740.4,269.3 740.7,270.2 741.0,271.2 741.3,272.1 741.6,273.1 741.9,274.0 742.2,275.0 742.5,276.0 742.8,276.9 743.1,277.9 743.4,278.8 743.6,279.8 743.9,280.7 744.2,281.7 744.5,282.6 744.8,283.6 745.1,284.6 745.4,285.5 745.7,286.5 746.0,287.4 746.3,288.4 746.5,289.3 746.8,290.3 747.1,291.2 747.4,292.2 747.7,293.1 748.0,294.1 748.3,295.1 748.5,296.0 748.8,297.0 749.1,297.9 749.4,298.9 749.7,299.8 750.0,300.8 750.2,301.7 750.5,302.7 750.8,303.7 751.1,304.6 751.3,305.6 751.6,306.5 751.9,307.5 752.2,308.4 752.5,309.4 752.7,310.3 753.0,311.3 753.3,312.2 753.6,313.2 753.8,314.2 754.1,315.1 754.4,316.1 754.7,317.0 754.9,318.0 755.2,318.9 755.5,319.9 755.7,320.8 756.0,321.8 756.3,322.7 756.6,323.7 756.8,324.7 757.1,325.6 757.4,326.6 757.6,327.5 757.9,328.5 758.2,329.4 758.4,330.4 758.7,331.3 759.0,332.3 759.3,333.2 759.5,334.2 759.8,335.2 760.1,336.1 760.3,337.1 760.6,338.0 760.9,339.0 761.1,339.9 761.4,340.9 761.7,341.8 761.9,342.8 762.2,343.7 762.5,344.7 762.7,345.7 763.0,346.6 763.3,347.6 763.5,348.5 763.8,349.5 764.1,350.4 764.3,351.4 764.6,352.3 764.8,353.3 765.1,354.2 765.4,355.2 765.6,356.2 765.9,357.1 766.2,358.1 766.4,359.0 766.7,360.0 767.0,360.9 767.2,361.9 767.5,362.8 767.8,363.8 768.0,364.8 768.3,365.7 768.6,366.7 768.8,367.6 769.1,368.6 769.3,369.5 769.6,370.5 769.9,371.4 770.1,372.4 770.4,373.4 770.7,374.3 770.9,375.3 771.2,376.2 771.5,377.2 771.7,378.1 772.0,379.1 772.3,380.0 772.5,381.0 772.8,382.0 773.1,382.9 773.3,383.9 773.6,384.8 773.9,385.8 774.1,386.7 774.4,387.7 774.7,388.7 774.9,389.6 775.2,390.6 775.5,391.5 775.7,392.5 776.0,393.4 776.3,394.4 776.5,395.4 776.8,396.3 777.1,397.3 777.4,398.2 777.6,399.2 777.9,400.1 778.2,401.1 778.4,402.1 778.7,403.0 779.0,404.0 779.2,404.9 779.5,405.9 779.8,406.8 780.1,407.8 780.3,408.8 780.6,409.7 780.9,410.7 781.2,411.6 781.4,412.6 781.7,413.6 782.0,414.5 782.3,415.5 782.5,416.4 782.8,417.4 783.1,418.3 783.4,419.3 783.7,420.3 783.9,421.2 784.2,422.2 784.5,423.1 784.8,424.1 785.1,425.1 785.3,426.0 785.6,427.0 785.9,427.9 786.2,428.9 786.5,429.9 786.7,430.8 787.0,431.8 787.3,432.7 787.6,433.7 787.9,434.7 788.2,435.6 788.5,436.6 788.8,437.6 789.0,438.5 789.3,439.5 789.6,440.4 789.9,441.4 790.2,442.4 790.5,443.3 790.8,444.3 791.1,445.2 791.4,446.2 791.7,447.2 792.0,448.1 792.3,449.1 792.6,450.1 792.8,451.0 793.1,452.0 793.4,452.9 793.7,453.9 794.0,454.9 794.3,455.8 794.6,456.8 794.9,457.8 795.2,458.7 795.6,459.7 795.9,460.7 796.2,461.6 796.5,462.6 796.8,463.5 797.1,464.5 797.4,465.5 797.7,466.4 798.0,467.4 798.3,468.4 798.6,469.3 798.9,470.3 799.3,471.3 799.6,472.2 799.9,473.2 800.2,474.2 800.5,475.1 800.8,476.1 801.2,477.1 801.5,478.0 801.8,479.0 802.1,480.0 802.4,480.9 802.8,481.9 803.1,482.9 803.4,483.8 803.7,484.8 804.1,485.8 804.4,486.7 804.7,487.7 805.1,488.7 805.4,489.6 805.7,490.6 806.1,491.6 806.4,492.5 806.7,493.5 807.1,494.5 807.4,495.4 807.7,496.4 808.1,497.4 808.4,498.4 808.8,499.3 809.1,500.3 809.4,501.3 809.8,502.2 810.1,503.2 810.5,504.2 810.8,505.1 811.2,506.1 811.6,507.1 811.9,508.0 812.3,509.0 812.6,509.9 813.0,510.9 813.4,511.9 813.8,512.8 814.1,513.7 814.5,514.7 814.9,515.6 815.3,516.6 815.7,517.5 816.1,518.4 816.5,519.3 817.0,520.2 817.4,521.1 817.8,522.0 818.2,522.9 818.7,523.8 819.1,524.7 819.6,525.6 820.1,526.4 820.5,527.3 821.0,528.2 821.5,529.0 822.0,529.8 822.5,530.7 823.0,531.5 823.5,532.3 824.1,533.1 824.6,533.9 825.2,534.7 825.7,535.4 826.3,536.2 826.9,536.9 827.5,537.7 828.1,538.4 828.7,539.1 829.3,539.8 829.9,540.5 830.6,541.2 831.2,541.8 831.9,542.5 832.6,543.1 833.3,543.8 834.0,544.4 834.7,545.0 835.5,545.5 836.2,546.1 837.0,546.7 837.8,547.2 838.5,547.7 839.3,548.2 840.2,548.7 841.0,549.2 841.9,549.7 842.7,550.1 843.6,550.5 844.5,551.0 845.4,551.3 846.3,551.7 847.3,552.1 848.2,552.4 849.2,552.7 850.2,553.0 851.2,553.3 852.3,553.6 853.3,553.8" fill="none" stroke="#35994a" stroke-width="2.65" stroke-dasharray="9.80 4.24" stroke-linejoin="round" stroke-linecap="butt"/>
<polyline points="143.1,568.7 144.1,568.7 145.1,568.7 146.1,568.7 147.1,568.7 148.1,568.7 149.1,568.7 150.1,568.6 151.1,568.6 152.1,568.6 153.1,568.6 154.1,568.6 155.1,568.6 156.1,568.6 157.1,568.6 158.1,568.6 159.1,568.6 160.1,568.6 161.1,568.6 162.1,568.6 163.1,568.6 164.1,568.6 165.1,568.6 166.1,568.6 167.1,568.6 168.1,568.6 169.1,568.6 170.1,568.6 171.1,568.6 172.2,568.6 173.2,568.6 174.2,568.6 175.2,568.6 176.2,568.6 177.2,568.5 178.2,568.5 179.2,568.5 180.2,568.5 181.2,568.5 182.2,568.5 183.2,568.5 184.2,568.5 185.2,568.5 186.2,568.5 187.2,568.5 188.2,568.4 189.2,568.4 190.2,568.4 191.2,568.4 192.2,568.4 193.2,568.4 194.2,568.4 195.2,568.3 196.2,568.3 197.2,568.3 198.2,568.3 199.2,568.2 200.2,568.2 201.2,568.2 202.2,568.2 203.2,568.1 204.2,568.1 205.2,568.1 206.2,568.1 207.2,568.0 208.2,568.0 209.2,567.9 210.2,567.9 211.2,567.9 212.2,567.8 213.2,567.8 214.2,567.7 215.2,567.7 216.2,567.6 217.2,567.6 218.2,567.5 219.2,567.5 220.2,567.4 221.2,567.4 222.2,567.3 223.1,567.3 224.1,567.2 225.1,567.1 226.1,567.1 227.1,567.0 228.1,566.9 229.1,566.8 230.1,566.8 231.1,566.7 232.1,566.6 233.1,566.5 234.1,566.4 235.1,566.4 236.0,566.3 237.0,566.2 238.0,566.1 239.0,566.0 240.0,565.9 241.0,565.8 242.0,565.7 243.0,565.6 243.9,565.5 244.9,565.3 245.9,565.2 246.9,565.1 247.9,565.0 248.9,564.9 249.8,564.7 250.8,564.6 251.8,564.5 252.8,564.3 253.8,564.2 254.8,564.1 255.7,563.9 256.7,563.8 257.7,563.6 258.7,563.5 259.7,563.3 260.6,563.2 261.6,563.0 262.6,562.8 263.6,562.7 264.5,562.5 265.5,562.3 266.5,562.1 267.4,562.0 268.4,561.8 269.4,561.6 270.4,561.4 271.3,561.2 272.3,561.0 273.3,560.8 274.2,560.6 275.2,560.4 276.2,560.1 277.1,559.9 278.1,559.7 279.1,559.5 280.0,559.2 281.0,559.0 282.0,558.8 282.9,558.5 283.9,558.3 284.8,558.0 285.8,557.8 286.8,557.5 287.7,557.3 288.7,557.0 289.6,556.7 290.6,556.4 291.5,556.2 292.5,555.9 293.5,555.6 294.4,555.3 295.4,555.0 296.3,554.7 297.3,554.4 298.2,554.1 299.2,553.8 300.1,553.4 301.0,553.1 302.0,552.8 302.9,552.5 303.9,552.1 304.8,551.8 305.8,551.4 306.7,551.1 307.6,550.7 308.6,550.4 309.5,550.0 310.5,549.6 311.4,549.3 312.3,548.9 313.3,548.5 314.2,548.1 315.1,547.7 316.0,547.3 317.0,546.9 317.9,546.5 318.8,546.1 319.7,545.7 320.7,545.3 321.6,544.9 322.5,544.4 323.4,544.0 324.3,543.6 325.2,543.1 326.1,542.7 327.1,542.2 328.0,541.8 328.9,541.3 329.8,540.9 330.7,540.4 331.6,539.9 332.5,539.5 333.3,539.0 334.2,538.5 335.1,538.0 336.0,537.5 336.9,537.0 337.8,536.5 338.7,536.0 339.5,535.5 340.4,535.0 341.3,534.5 342.2,534.0 343.0,533.5 343.9,532.9 344.7,532.4 345.6,531.9 346.5,531.3 347.3,530.8 348.2,530.2 349.0,529.7 349.9,529.1 350.7,528.6 351.5,528.0 352.4,527.4 353.2,526.9 354.0,526.3 354.9,525.7 355.7,525.1 356.5,524.6 357.3,524.0 358.1,523.4 359.0,522.8 359.8,522.2 360.6,521.6 361.4,521.0 362.2,520.4 363.0,519.7 363.7,519.1 364.5,518.5 365.3,517.9 366.1,517.2 366.9,516.6 367.6,516.0 368.4,515.3 369.2,514.7 369.9,514.0 370.7,513.4 371.4,512.7 372.2,512.1 372.9,511.4 373.7,510.7 374.4,510.1 375.2,509.4 375.9,508.7 376.6,508.0 377.3,507.3 378.0,506.6 378.8,506.0 379.5,505.3 380.2,504.6 380.9,503.9 381.6,503.2 382.3,502.4 382.9,501.7 383.6,501.0 384.3,500.3 385.0,499.6 385.7,498.8 386.3,498.1 387.0,497.4 387.6,496.7 388.3,495.9 388.9,495.2 389.6,494.4 390.2,493.7 390.9,492.9 391.5,492.2 392.2,491.4 392.8,490.7 393.4,489.9 394.0,489.2 394.7,488.4 395.3,487.6 395.9,486.9 396.5,486.1 397.1,485.3 397.7,484.5 398.3,483.8 398.9,483.0 399.5,482.2 400.1,481.4 400.7,480.6 401.3,479.8 401.9,479.0 402.5,478.3 403.1,477.5 403.7,476.7 404.3,475.9 404.9,475.1 405.4,474.3 406.0,473.5 406.6,472.7 407.2,471.9 407.7,471.1 408.3,470.2 408.9,469.4 409.4,468.6 410.0,467.8 410.6,467.0 411.1,466.2 411.7,465.4 412.3,464.6 412.8,463.7 413.4,462.9 413.9,462.1 414.5,461.3 415.0,460.5 415.6,459.6 416.2,458.8 416.7,458.0 417.3,457.2 417.8,456.3 418.3,455.5 418.9,454.7 419.4,453.8 420.0,453.0 420.5,452.2 421.1,451.3 421.6,450.5 422.1,449.7 422.7,448.8 423.2,448.0 423.7,447.2 424.3,446.3 424.8,445.5 425.3,444.6 425.9,443.8 426.4,442.9 426.9,442.1 427.4,441.3 428.0,440.4 428.5,439.6 429.0,438.7 429.5,437.9 430.0,437.0 430.6,436.1 431.1,435.3 431.6,434.4 432.1,433.6 432.6,432.7 433.1,431.9 433.6,431.0 434.2,430.2 434.7,429.3 435.2,428.4 435.7,427.6 436.2,426.7 436.7,425.8 437.2,425.0 437.7,424.1 438.2,423.3 438.7,422.4 439.2,421.5 439.7,420.7 440.2,419.8 440.7,418.9 441.2,418.0 441.7,417.2 442.2,416.3 442.7,415.4 443.2,414.6 443.6,413.7 444.1,412.8 444.6,411.9 445.1,411.1 445.6,410.2 446.1,409.3 446.6,408.4 447.1,407.5 447.5,406.7 448.0,405.8 448.5,404.9 449.0,404.0 449.5,403.1 450.0,402.3 450.4,401.4 450.9,400.5 451.4,399.6 451.9,398.7 452.3,397.8 452.8,397.0 453.3,396.1 453.8,395.2 454.2,394.3 454.7,393.4 455.2,392.5 455.7,391.6 456.1,390.7 456.6,389.9 457.1,389.0 457.5,388.1 458.0,387.2 458.5,386.3 458.9,385.4 459.4,384.5 459.9,383.6 460.3,382.7 460.8,381.8 461.3,380.9 461.7,380.0 462.2,379.1 462.6,378.2 463.1,377.4 463.6,376.5 464.0,375.6 464.5,374.7 464.9,373.8 465.4,372.9 465.9,372.0 466.3,371.1 466.8,370.2 467.2,369.3 467.7,368.4 468.1,367.5 468.6,366.6 469.0,365.7 469.5,364.8 469.9,363.9 470.4,363.0 470.9,362.1 471.3,361.2 471.8,360.3 472.2,359.4 472.7,358.5 473.1,357.6 473.6,356.7 474.0,355.8 474.5,354.9 474.9,354.0 475.4,353.1 475.8,352.2 476.2,351.3 476.7,350.4 477.1,349.5 477.6,348.6 478.0,347.7 478.5,346.8 478.9,345.9 479.4,345.0 479.8,344.1 480.3,343.2 480.7,342.3 481.2,341.4 481.6,340.4 482.0,339.5 482.5,338.6 482.9,337.7 483.4,336.8 483.8,335.9 484.3,335.0 484.7,334.1 485.1,333.2 485.6,332.3 486.0,331.4 486.5,330.5 486.9,329.6 487.4,328.7 487.8,327.8 488.2,326.9 488.7,326.0 489.1,325.1 489.6,324.2 490.0,323.3 490.4,322.4 490.9,321.5 491.3,320.6 491.8,319.7 492.2,318.8 492.6,317.9 493.1,317.0 493.5,316.1 494.0,315.2 494.4,314.3 494.9,313.4 495.3,312.5 495.7,311.6 496.2,310.7 496.6,309.8 497.1,308.9 497.5,308.0 497.9,307.2 498.4,306.3 498.8,305.4 499.3,304.5 499.7,303.6 500.1,302.7 500.6,301.8 501.0,300.9 501.5,300.0 501.9,299.1 502.4,298.2 502.8,297.3 503.2,296.4 503.7,295.5 504.1,294.7 504.6,293.8 505.0,292.9 505.5,292.0 505.9,291.1 506.3,290.2 506.8,289.3 507.2,288.4 507.7,287.5 508.1,286.7 508.6,285.8 509.0,284.9 509.5,284.0 509.9,283.1 510.4,282.2 510.8,281.4 511.3,280.5 511.7,279.6 512.1,278.7 512.6,277.8 513.0,277.0 513.5,276.1 513.9,275.2 514.4,274.3 514.8,273.4 515.3,272.6 515.7,271.7 516.2,270.8 516.6,269.9 517.1,269.1 517.6,268.2 518.0,267.3 518.5,266.5 518.9,265.6 519.4,264.7 519.8,263.8 520.3,263.0 520.7,262.1 521.2,261.2 521.6,260.4 522.1,259.5 522.6,258.6 523.0,257.8 523.5,256.9 523.9,256.0 524.4,255.2 524.8,254.3 525.3,253.4 525.8,252.6 526.2,251.7 526.7,250.9 527.1,250.0 527.6,249.1 528.1,248.3 528.5,247.4 529.0,246.5 529.4,245.7 529.9,244.8 530.4,243.9 530.8,243.1 531.3,242.2 531.8,241.4 532.2,240.5 532.7,239.6 533.1,238.8 533.6,237.9 534.1,237.0 534.5,236.2 535.0,235.3 535.5,234.5 535.9,233.6 536.4,232.7 536.9,231.9 537.3,231.0 537.8,230.1 538.3,229.3 538.7,228.4 539.2,227.5 539.6,226.7 540.1,225.8 540.6,224.9 541.0,224.1 541.5,223.2 542.0,222.3 542.4,221.5 542.9,220.6 543.4,219.7 543.8,218.9 544.3,218.0 544.8,217.1 545.2,216.2 545.7,215.4 546.2,214.5 546.6,213.6 547.1,212.7 547.6,211.9 548.0,211.0 548.5,210.1 549.0,209.2 549.4,208.4 549.9,207.5 550.4,206.6 550.8,205.7 551.3,204.8 551.8,203.9 552.2,203.1 552.7,202.2 553.2,201.3 553.6,200.4 554.1,199.5 554.6,198.6 555.0,197.7 555.5,196.8 556.0,195.9 556.4,195.1 556.9,194.2 557.3,193.3 557.8,192.4 558.3,191.5 558.7,190.6 559.2,189.7 559.7,188.8 560.1,187.9 560.6,186.9 561.1,186.0 561.5,185.1 562.0,184.2 562.4,183.3 562.9,182.4 563.4,181.5 563.8,180.6 564.3,179.6 564.8,178.7 565.2,177.8 565.7,176.9 566.1,176.0 566.6,175.0 567.1,174.1 567.5,173.2 568.0,172.2 568.4,171.3 568.9,170.4 569.4,169.4 569.8,168.5 570.3,167.6 570.7,166.6 571.2,165.7 571.7,164.7 572.1,163.8 572.6,162.8 573.0,161.9 573.5,160.9 573.9,160.0 574.4,159.0 574.9,158.1 575.3,157.1 575.8,156.1 576.2,155.2 576.7,154.2 577.1,153.3 577.6,152.3 578.1,151.4 578.5,150.4 579.0,149.4 579.5,148.5 579.9,147.5 580.4,146.6 580.9,145.7 581.4,144.7 581.8,143.8 582.3,142.8 582.8,141.9 583.3,141.0 583.8,140.0 584.3,139.1 584.8,138.2 585.3,137.3 585.8,136.4 586.3,135.5 586.8,134.6 587.4,133.7 587.9,132.8 588.4,131.9 588.9,131.1 589.5,130.2 590.0,129.3 590.6,128.5 591.1,127.7 591.7,126.8 592.2,126.0 592.8,125.2 593.4,124.4 594.0,123.6 594.6,122.8 595.2,122.0 595.8,121.2 596.4,120.5 597.0,119.7 597.6,119.0 598.3,118.2 598.9,117.5 599.5,116.8 600.2,116.1 600.9,115.4 601.5,114.7 602.2,114.1 602.9,113.4 603.6,112.8 604.3,112.1 605.0,111.5 605.7,110.9 606.5,110.3 607.2,109.8 608.0,109.2 608.7,108.7 609.5,108.1 610.3,107.6 611.1,107.1 611.9,106.7 612.7,106.2 613.5,105.7 614.3,105.3 615.2,104.9 616.0,104.5 616.9,104.1 617.8,103.7 618.7,103.4 619.6,103.0 620.5,102.7 621.4,102.4 622.3,102.1 623.2,101.9 624.2,101.6 625.1,101.4 626.1,101.2 627.0,101.0 628.0,100.8 629.0,100.7 629.9,100.6 630.9,100.4 631.9,100.3 632.9,100.3 633.9,100.2 634.9,100.2 635.8,100.1 636.8,100.1 637.8,100.2 638.8,100.2 639.8,100.3 640.8,100.3 641.8,100.4 642.8,100.6 643.7,100.7 644.7,100.9 645.7,101.0 646.6,101.2 647.6,101.5 648.6,101.7 649.5,102.0 650.4,102.3 651.4,102.6 652.3,102.9 653.2,103.2 654.1,103.6 655.0,104.0 655.9,104.4 656.8,104.9 657.7,105.3 658.5,105.8 659.4,106.3 660.2,106.8 661.0,107.4 661.8,107.9 662.6,108.5 663.4,109.1 664.2,109.7 665.0,110.3 665.7,111.0 666.5,111.7 667.2,112.3 668.0,113.0 668.7,113.7 669.4,114.5 670.1,115.2 670.8,116.0 671.5,116.7 672.2,117.5 672.8,118.3 673.5,119.1 674.1,119.9 674.8,120.7 675.4,121.5 676.1,122.4 676.7,123.2 677.3,124.0 677.9,124.9 678.5,125.8 679.1,126.6 679.7,127.5 680.3,128.4 680.9,129.3 681.4,130.1 682.0,131.0 682.6,131.9 683.1,132.8 683.7,133.7 684.2,134.6 684.8,135.5 685.3,136.4 685.8,137.2 686.3,138.1 686.9,139.0 687.4,139.9 687.9,140.8 688.4,141.7 688.9,142.6 689.4,143.5 689.9,144.4 690.3,145.3 690.8,146.2 691.3,147.1 691.8,148.0 692.2,148.9 692.7,149.8 693.1,150.7 693.6,151.6 694.1,152.5 694.5,153.4 694.9,154.3 695.4,155.2 695.8,156.1 696.2,157.0 696.7,157.9 697.1,158.8 697.5,159.7 697.9,160.6 698.3,161.5 698.7,162.4 699.2,163.3 699.6,164.2 700.0,165.2 700.4,166.1 700.7,167.0 701.1,167.9 701.5,168.8 701.9,169.7 702.3,170.6 702.7,171.5 703.0,172.4 703.4,173.4 703.8,174.3 704.2,175.2 704.5,176.1 704.9,177.0 705.2,177.9 705.6,178.8 706.0,179.8 706.3,180.7 706.7,181.6 707.0,182.5 707.4,183.4 707.7,184.3 708.1,185.3 708.4,186.2 708.8,187.1 709.1,188.0 709.4,189.0 709.8,189.9 710.1,190.8 710.4,191.7 710.8,192.6 711.1,193.6 711.4,194.5 711.8,195.4 712.1,196.3 712.4,197.3 712.8,198.2 713.1,199.1 713.4,200.0 713.7,201.0 714.1,201.9 714.4,202.8 714.7,203.8 715.0,204.7 715.4,205.6 715.7,206.5 716.0,207.5 716.3,208.4 716.6,209.3 717.0,210.3 717.3,211.2 717.6,212.1 717.9,213.1 718.3,214.0 718.6,214.9 718.9,215.9 719.2,216.8 719.5,217.7 719.9,218.7 720.2,219.6 720.5,220.5 720.8,221.5 721.2,222.4 721.5,223.3 721.8,224.3 722.2,225.2 722.5,226.2 722.8,227.1 723.1,228.0 723.5,229.0 723.8,229.9 724.1,230.9 724.5,231.8 724.8,232.7 725.1,233.7 725.5,234.6 725.8,235.6 726.1,236.5 726.5,237.4 726.8,238.4 727.2,239.3 727.5,240.3 727.8,241.2 728.2,242.2 728.5,243.1 728.8,244.0 729.2,245.0 729.5,245.9 729.9,246.9 730.2,247.8 730.5,248.8 730.9,249.7 731.2,250.7 731.6,251.6 731.9,252.6 732.2,253.5 732.6,254.4 732.9,255.4 733.3,256.3 733.6,257.3 733.9,258.2 734.3,259.2 734.6,260.1 735.0,261.1 735.3,262.0 735.6,263.0 736.0,263.9 736.3,264.9 736.7,265.8 737.0,266.8 737.4,267.7 737.7,268.7 738.0,269.6 738.4,270.6 738.7,271.5 739.1,272.5 739.4,273.4 739.7,274.4 740.1,275.3 740.4,276.3 740.8,277.2 741.1,278.2 741.5,279.1 741.8,280.1 742.1,281.0 742.5,282.0 742.8,282.9 743.2,283.9 743.5,284.8 743.8,285.8 744.2,286.7 744.5,287.7 744.8,288.6 745.2,289.6 745.5,290.5 745.9,291.5 746.2,292.4 746.5,293.4 746.9,294.3 747.2,295.3 747.5,296.2 747.9,297.2 748.2,298.1 748.5,299.0 748.9,300.0 749.2,300.9 749.5,301.9 749.9,302.8 750.2,303.8 750.5,304.7 750.9,305.7 751.2,306.6 751.5,307.6 751.9,308.5 752.2,309.5 752.5,310.4 752.8,311.4 753.2,312.3 753.5,313.3 753.8,314.2 754.2,315.2 754.5,316.1 754.8,317.1 755.1,318.0 755.4,319.0 755.8,319.9 756.1,320.9 756.4,321.8 756.7,322.7 757.1,323.7 757.4,324.6 757.7,325.6 758.0,326.5 758.3,327.5 758.7,328.4 759.0,329.4 759.3,330.3 759.6,331.3 759.9,332.2 760.2,333.2 760.5,334.1 760.9,335.0 761.2,336.0 761.5,336.9 761.8,337.9 762.1,338.8 762.4,339.8 762.7,340.7 763.1,341.7 763.4,342.6 763.7,343.6 764.0,344.5 764.3,345.4 764.6,346.4 764.9,347.3 765.2,348.3 765.5,349.2 765.8,350.2 766.1,351.1 766.5,352.1 766.8,353.0 767.1,353.9 767.4,354.9 767.7,355.8 768.0,356.8 768.3,357.7 768.6,358.7 768.9,359.6 769.2,360.6 769.5,361.5 769.8,362.5 770.1,363.4 770.4,364.3 770.7,365.3 771.0,366.2 771.3,367.2 771.6,368.1 771.9,369.1 772.2,370.0 772.5,371.0 772.8,371.9 773.1,372.8 773.4,373.8 773.7,374.7 774.0,375.7 774.3,376.6 774.6,377.6 774.9,378.5 775.2,379.5 775.5,380.4 775.8,381.4 776.1,382.3 776.4,383.2 776.7,384.2 777.0,385.1 777.3,386.1 777.6,387.0 777.9,388.0 778.2,388.9 778.5,389.9 778.8,390.8 779.1,391.8 779.4,392.7 779.6,393.7 779.9,394.6 780.2,395.6 780.5,396.5 780.8,397.4 781.1,398.4 781.4,399.3 781.7,400.3 782.0,401.2 782.3,402.2 782.6,403.1 782.9,404.1 783.2,405.0 783.5,406.0 783.8,406.9 784.0,407.9 784.3,408.8 784.6,409.8 784.9,410.7 785.2,411.7 785.5,412.6 785.8,413.6 786.1,414.5 786.4,415.5 786.7,416.4 787.0,417.4 787.3,418.3 787.5,419.3 787.8,420.2 788.1,421.2 788.4,422.1 788.7,423.1 789.0,424.0 789.3,425.0 789.6,425.9 789.9,426.9 790.2,427.8 790.5,428.8 790.7,429.7 791.0,430.7 791.3,431.6 791.6,432.6 791.9,433.5 792.2,434.5 792.5,435.5 792.8,436.4 793.1,437.4 793.4,438.3 793.7,439.3 793.9,440.2 794.2,441.2 794.5,442.1 794.8,443.1 795.1,444.0 795.4,445.0 795.7,446.0 796.0,446.9 796.3,447.9 796.6,448.8 796.9,449.8 797.1,450.7 797.4,451.7 797.7,452.7 798.0,453.6 798.3,454.6 798.6,455.5 798.9,456.5 799.2,457.4 799.5,458.4 799.8,459.4 800.1,460.3 800.4,461.3 800.7,462.2 800.9,463.2 801.2,464.2 801.5,465.1 801.8,466.1 802.1,467.1 802.4,468.0 802.7,469.0 803.0,469.9 803.3,470.9 803.6,471.9 803.9,472.8 804.2,473.8 804.5,474.8 804.8,475.7 805.1,476.7 805.4,477.7 805.7,478.6 805.9,479.6 806.2,480.6 806.5,481.5 806.8,482.5 807.1,483.5 807.4,484.4 807.7,485.4 808.0,486.4 808.3,487.3 808.6,488.3 808.9,489.3 809.2,490.2 809.5,491.2 809.8,492.2 810.1,493.1 810.4,494.1 810.7,495.1 811.0,496.1 811.3,497.0 811.6,498.0 811.9,499.0 812.2,499.9 812.5,500.9 812.8,501.9 813.1,502.9 813.4,503.8 813.7,504.8 814.0,505.8 814.3,506.8 814.6,507.7 814.9,508.7 815.2,509.7 815.6,510.7 815.9,511.7 816.2,512.6 816.5,513.6 816.8,514.6 817.1,515.6 817.4,516.5 817.7,517.5 818.1,518.5 818.4,519.4 818.7,520.4 819.1,521.3 819.4,522.3 819.7,523.3 820.1,524.2 820.4,525.1 820.8,526.1 821.2,527.0 821.5,527.9 821.9,528.9 822.3,529.8 822.7,530.7 823.1,531.6 823.5,532.5 823.9,533.4 824.3,534.3 824.8,535.2 825.2,536.0 825.7,536.9 826.1,537.8 826.6,538.6 827.1,539.5 827.5,540.3 828.0,541.1 828.6,541.9 829.1,542.7 829.6,543.5 830.2,544.3 830.7,545.1 831.3,545.9 831.9,546.6 832.5,547.3 833.1,548.1 833.7,548.8 834.3,549.5 835.0,550.2 835.6,550.9 836.3,551.5 837.0,552.2 837.7,552.8 838.5,553.4 839.2,554.0 840.0,554.6 840.8,555.1 841.6,555.6 842.4,556.0 843.3,556.5 844.2,556.9 845.1,557.2 846.0,557.5 847.0,557.8 848.0,558.0 849.0,558.2 850.0,558.3 851.1,558.4 852.2,558.4 853.3,558.4" fill="none" stroke="#e8905e" stroke-width="2.65" stroke-dasharray="2.65 4.37" stroke-linejoin="round" stroke-linecap="butt"/>
<polyline points="143.1,568.7 144.1,568.7 145.0,568.7 146.0,568.7 146.9,568.7 147.9,568.6 148.9,568.6 149.8,568.6 150.8,568.6 151.8,568.6 152.8,568.6 153.7,568.6 154.7,568.6 155.7,568.6 156.6,568.6 157.6,568.6 158.6,568.6 159.6,568.6 160.6,568.6 161.5,568.6 162.5,568.6 163.5,568.6 164.5,568.6 165.5,568.6 166.5,568.6 167.5,568.6 168.5,568.6 169.4,568.6 170.4,568.6 171.4,568.6 172.4,568.6 173.4,568.5 174.4,568.5 175.4,568.5 176.4,568.5 177.4,568.5 178.4,568.5 179.4,568.5 180.4,568.5 181.4,568.5 182.4,568.5 183.4,568.5 184.4,568.5 185.4,568.5 186.4,568.5 187.4,568.5 188.4,568.5 189.4,568.5 190.5,568.5 191.5,568.4 192.5,568.4 193.5,568.4 194.5,568.4 195.5,568.4 196.5,568.4 197.5,568.4 198.5,568.3 199.6,568.3 200.6,568.3 201.6,568.3 202.6,568.3 203.6,568.2 204.6,568.2 205.6,568.2 206.6,568.2 207.7,568.2 208.7,568.1 209.7,568.1 210.7,568.1 211.7,568.0 212.7,568.0 213.8,568.0 214.8,567.9 215.8,567.9 216.8,567.9 217.8,567.8 218.8,567.8 219.9,567.7 220.9,567.7 221.9,567.7 222.9,567.6 223.9,567.6 224.9,567.5 226.0,567.5 227.0,567.4 228.0,567.3 229.0,567.3 230.0,567.2 231.0,567.2 232.1,567.1 233.1,567.0 234.1,567.0 235.1,566.9 236.1,566.8 237.1,566.8 238.1,566.7 239.2,566.6 240.2,566.5 241.2,566.4 242.2,566.4 243.2,566.3 244.2,566.2 245.2,566.1 246.2,566.0 247.3,565.9 248.3,565.8 249.3,565.7 250.3,565.6 251.3,565.5 252.3,565.4 253.3,565.3 254.3,565.2 255.3,565.1 256.3,564.9 257.3,564.8 258.3,564.7 259.3,564.6 260.3,564.4 261.3,564.3 262.3,564.2 263.3,564.0 264.3,563.9 265.3,563.8 266.3,563.6 267.3,563.5 268.3,563.3 269.3,563.2 270.3,563.0 271.3,562.8 272.3,562.7 273.3,562.5 274.3,562.3 275.3,562.2 276.2,562.0 277.2,561.8 278.2,561.6 279.2,561.4 280.2,561.3 281.2,561.1 282.1,560.9 283.1,560.7 284.1,560.5 285.1,560.3 286.1,560.0 287.0,559.8 288.0,559.6 289.0,559.4 289.9,559.2 290.9,558.9 291.9,558.7 292.9,558.5 293.8,558.2 294.8,558.0 295.7,557.7 296.7,557.5 297.7,557.2 298.6,557.0 299.6,556.7 300.5,556.4 301.5,556.2 302.4,555.9 303.4,555.6 304.3,555.3 305.3,555.0 306.2,554.8 307.2,554.5 308.1,554.2 309.0,553.9 310.0,553.5 310.9,553.2 311.9,552.9 312.8,552.6 313.7,552.3 314.6,551.9 315.6,551.6 316.5,551.3 317.4,550.9 318.3,550.6 319.3,550.2 320.2,549.9 321.1,549.5 322.0,549.1 322.9,548.8 323.8,548.4 324.7,548.0 325.6,547.6 326.5,547.2 327.4,546.8 328.3,546.4 329.2,546.0 330.1,545.6 331.0,545.2 331.9,544.8 332.8,544.4 333.7,543.9 334.6,543.5 335.5,543.1 336.3,542.6 337.2,542.2 338.1,541.7 339.0,541.3 339.8,540.8 340.7,540.3 341.6,539.9 342.4,539.4 343.3,538.9 344.2,538.4 345.0,537.9 345.9,537.4 346.7,536.9 347.6,536.4 348.4,535.9 349.3,535.4 350.1,534.9 350.9,534.4 351.8,533.9 352.6,533.3 353.5,532.8 354.3,532.3 355.1,531.7 355.9,531.2 356.8,530.6 357.6,530.1 358.4,529.5 359.2,529.0 360.1,528.4 360.9,527.9 361.7,527.3 362.5,526.7 363.3,526.1 364.1,525.5 364.9,525.0 365.7,524.4 366.5,523.8 367.3,523.2 368.1,522.6 368.9,522.0 369.7,521.4 370.5,520.8 371.2,520.1 372.0,519.5 372.8,518.9 373.6,518.3 374.3,517.6 375.1,517.0 375.9,516.4 376.7,515.7 377.4,515.1 378.2,514.5 378.9,513.8 379.7,513.2 380.4,512.5 381.2,511.8 381.9,511.2 382.7,510.5 383.4,509.8 384.2,509.2 384.9,508.5 385.7,507.8 386.4,507.1 387.1,506.4 387.9,505.8 388.6,505.1 389.3,504.4 390.0,503.7 390.7,503.0 391.5,502.3 392.2,501.6 392.9,500.9 393.6,500.2 394.3,499.4 395.0,498.7 395.7,498.0 396.4,497.3 397.1,496.6 397.8,495.8 398.5,495.1 399.2,494.4 399.9,493.6 400.6,492.9 401.2,492.2 401.9,491.4 402.6,490.7 403.3,489.9 403.9,489.2 404.6,488.4 405.3,487.7 405.9,486.9 406.6,486.2 407.3,485.4 407.9,484.6 408.6,483.9 409.2,483.1 409.9,482.3 410.5,481.6 411.1,480.8 411.8,480.0 412.4,479.2 413.1,478.4 413.7,477.7 414.3,476.9 414.9,476.1 415.6,475.3 416.2,474.5 416.8,473.7 417.4,472.9 418.0,472.1 418.6,471.3 419.2,470.5 419.8,469.7 420.5,468.9 421.0,468.1 421.6,467.3 422.2,466.5 422.8,465.7 423.4,464.9 424.0,464.1 424.6,463.3 425.2,462.4 425.7,461.6 426.3,460.8 426.9,460.0 427.5,459.1 428.0,458.3 428.6,457.5 429.2,456.7 429.7,455.8 430.3,455.0 430.8,454.2 431.4,453.3 431.9,452.5 432.5,451.7 433.0,450.8 433.6,450.0 434.1,449.1 434.7,448.3 435.2,447.5 435.7,446.6 436.3,445.8 436.8,444.9 437.3,444.1 437.8,443.2 438.4,442.4 438.9,441.5 439.4,440.6 439.9,439.8 440.5,438.9 441.0,438.1 441.5,437.2 442.0,436.4 442.5,435.5 443.0,434.6 443.5,433.8 444.0,432.9 444.5,432.0 445.0,431.2 445.5,430.3 446.0,429.4 446.5,428.5 447.0,427.7 447.5,426.8 448.0,425.9 448.5,425.1 448.9,424.2 449.4,423.3 449.9,422.4 450.4,421.5 450.9,420.7 451.3,419.8 451.8,418.9 452.3,418.0 452.8,417.1 453.2,416.2 453.7,415.4 454.2,414.5 454.6,413.6 455.1,412.7 455.6,411.8 456.0,410.9 456.5,410.0 457.0,409.1 457.4,408.3 457.9,407.4 458.3,406.5 458.8,405.6 459.2,404.7 459.7,403.8 460.2,402.9 460.6,402.0 461.1,401.1 461.5,400.2 461.9,399.3 462.4,398.4 462.8,397.5 463.3,396.6 463.7,395.7 464.2,394.8 464.6,393.9 465.0,393.0 465.5,392.1 465.9,391.2 466.4,390.3 466.8,389.4 467.2,388.5 467.7,387.6 468.1,386.7 468.5,385.8 469.0,384.9 469.4,384.0 469.8,383.1 470.3,382.2 470.7,381.3 471.1,380.4 471.6,379.4 472.0,378.5 472.4,377.6 472.8,376.7 473.3,375.8 473.7,374.9 474.1,374.0 474.5,373.1 475.0,372.2 475.4,371.3 475.8,370.4 476.2,369.5 476.7,368.6 477.1,367.7 477.5,366.7 477.9,365.8 478.3,364.9 478.8,364.0 479.2,363.1 479.6,362.2 480.0,361.3 480.4,360.4 480.9,359.5 481.3,358.6 481.7,357.7 482.1,356.8 482.5,355.8 482.9,354.9 483.4,354.0 483.8,353.1 484.2,352.2 484.6,351.3 485.0,350.4 485.4,349.5 485.8,348.6 486.3,347.7 486.7,346.8 487.1,345.9 487.5,344.9 487.9,344.0 488.3,343.1 488.7,342.2 489.1,341.3 489.6,340.4 490.0,339.5 490.4,338.6 490.8,337.7 491.2,336.8 491.6,335.9 492.0,334.9 492.4,334.0 492.8,333.1 493.2,332.2 493.7,331.3 494.1,330.4 494.5,329.5 494.9,328.6 495.3,327.7 495.7,326.8 496.1,325.8 496.5,324.9 496.9,324.0 497.3,323.1 497.7,322.2 498.1,321.3 498.5,320.4 498.9,319.5 499.3,318.6 499.7,317.6 500.1,316.7 500.5,315.8 501.0,314.9 501.4,314.0 501.8,313.1 502.2,312.2 502.6,311.3 503.0,310.4 503.4,309.5 503.8,308.5 504.2,307.6 504.6,306.7 505.0,305.8 505.4,304.9 505.8,304.0 506.2,303.1 506.6,302.2 507.0,301.2 507.4,300.3 507.8,299.4 508.2,298.5 508.6,297.6 509.0,296.7 509.4,295.8 509.8,294.9 510.2,294.0 510.6,293.0 511.0,292.1 511.3,291.2 511.7,290.3 512.1,289.4 512.5,288.5 512.9,287.6 513.3,286.7 513.7,285.7 514.1,284.8 514.5,283.9 514.9,283.0 515.3,282.1 515.7,281.2 516.1,280.3 516.5,279.3 516.9,278.4 517.3,277.5 517.7,276.6 518.1,275.7 518.5,274.8 518.9,273.9 519.3,273.0 519.7,272.0 520.0,271.1 520.4,270.2 520.8,269.3 521.2,268.4 521.6,267.5 522.0,266.6 522.4,265.6 522.8,264.7 523.2,263.8 523.6,262.9 524.0,262.0 524.4,261.1 524.8,260.2 525.2,259.2 525.5,258.3 525.9,257.4 526.3,256.5 526.7,255.6 527.1,254.7 527.5,253.7 527.9,252.8 528.3,251.9 528.7,251.0 529.1,250.1 529.5,249.2 529.8,248.3 530.2,247.3 530.6,246.4 531.0,245.5 531.4,244.6 531.8,243.7 532.2,242.8 532.6,241.8 533.0,240.9 533.4,240.0 533.8,239.1 534.1,238.2 534.5,237.3 534.9,236.3 535.3,235.4 535.7,234.5 536.1,233.6 536.5,232.7 536.9,231.8 537.3,230.8 537.6,229.9 538.0,229.0 538.4,228.1 538.8,227.2 539.2,226.3 539.6,225.3 540.0,224.4 540.4,223.5 540.8,222.6 541.2,221.7 541.5,220.7 541.9,219.8 542.3,218.9 542.7,218.0 543.1,217.1 543.5,216.2 543.9,215.2 544.3,214.3 544.7,213.4 545.1,212.5 545.4,211.6 545.8,210.6 546.2,209.7 546.6,208.8 547.0,207.9 547.4,207.0 547.8,206.0 548.2,205.1 548.6,204.2 548.9,203.3 549.3,202.4 549.7,201.4 550.1,200.5 550.5,199.6 550.9,198.7 551.3,197.8 551.7,196.8 552.1,195.9 552.5,195.0 552.8,194.1 553.2,193.2 553.6,192.2 554.0,191.3 554.4,190.4 554.8,189.5 555.2,188.6 555.6,187.6 556.0,186.7 556.4,185.8 556.8,184.9 557.1,184.0 557.5,183.0 557.9,182.1 558.3,181.2 558.7,180.3 559.1,179.3 559.5,178.4 559.9,177.5 560.3,176.6 560.7,175.7 561.1,174.7 561.5,173.8 561.8,172.9 562.2,172.0 562.6,171.0 563.0,170.1 563.4,169.2 563.8,168.3 564.2,167.4 564.6,166.4 565.0,165.5 565.4,164.6 565.8,163.7 566.2,162.7 566.6,161.8 567.0,160.9 567.4,160.0 567.8,159.0 568.1,158.1 568.5,157.2 568.9,156.3 569.3,155.3 569.7,154.4 570.1,153.5 570.5,152.6 570.9,151.7 571.3,150.7 571.7,149.8 572.1,148.9 572.5,148.0 572.9,147.1 573.3,146.1 573.7,145.2 574.2,144.3 574.6,143.4 575.0,142.5 575.4,141.5 575.8,140.6 576.2,139.7 576.6,138.8 577.0,137.9 577.5,137.0 577.9,136.1 578.3,135.2 578.7,134.3 579.1,133.3 579.6,132.4 580.0,131.5 580.4,130.6 580.9,129.7 581.3,128.8 581.7,127.9 582.2,127.0 582.6,126.1 583.1,125.2 583.5,124.3 583.9,123.4 584.4,122.5 584.8,121.6 585.3,120.8 585.8,119.9 586.2,119.0 586.7,118.1 587.1,117.2 587.6,116.3 588.1,115.5 588.6,114.6 589.0,113.7 589.5,112.8 590.0,111.9 590.5,111.1 591.0,110.2 591.5,109.3 591.9,108.5 592.4,107.6 592.9,106.8 593.4,105.9 593.9,105.0 594.5,104.2 595.0,103.3 595.5,102.5 596.0,101.6 596.5,100.8 597.1,99.9 597.6,99.1 598.1,98.3 598.7,97.4 599.2,96.6 599.8,95.8 600.3,94.9 600.9,94.1 601.4,93.3 602.0,92.5 602.5,91.6 603.1,90.8 603.7,90.0 604.3,89.2 604.9,88.4 605.4,87.6 606.0,86.8 606.6,86.0 607.2,85.2 607.8,84.4 608.4,83.6 609.1,82.8 609.7,82.1 610.3,81.3 610.9,80.5 611.6,79.7 612.2,79.0 612.9,78.2 613.5,77.4 614.2,76.7 614.8,75.9 615.5,75.2 616.1,74.4 616.8,73.7 617.5,72.9 618.2,72.2 618.9,71.5 619.6,70.7 620.3,70.0 621.0,69.3 621.7,68.6 622.4,67.8 623.1,67.1 623.9,66.4 624.6,65.7 625.3,65.0 626.1,64.3 626.8,63.6 627.6,62.9 628.4,62.3 629.1,61.6 629.9,60.9 630.7,60.3 631.5,59.7 632.3,59.0 633.1,58.4 633.9,57.9 634.8,57.3 635.6,56.7 636.4,56.2 637.3,55.7 638.1,55.2 639.0,54.7 639.8,54.3 640.7,53.9 641.6,53.5 642.5,53.1 643.4,52.8 644.3,52.4 645.2,52.2 646.2,51.9 647.1,51.7 648.0,51.5 649.0,51.4 650.0,51.3 650.9,51.2 651.9,51.1 652.9,51.1 653.9,51.2 654.9,51.2 655.9,51.3 656.9,51.4 657.9,51.6 658.9,51.7 659.9,51.9 660.9,52.2 661.8,52.4 662.8,52.7 663.8,53.0 664.7,53.3 665.7,53.7 666.6,54.0 667.5,54.4 668.4,54.8 669.3,55.3 670.1,55.7 671.0,56.2 671.8,56.6 672.7,57.1 673.5,57.7 674.3,58.2 675.1,58.7 675.8,59.3 676.6,59.9 677.3,60.5 678.1,61.1 678.8,61.7 679.5,62.4 680.2,63.0 680.9,63.7 681.5,64.4 682.2,65.1 682.9,65.8 683.5,66.5 684.1,67.2 684.8,68.0 685.4,68.7 686.0,69.5 686.6,70.3 687.1,71.0 687.7,71.8 688.3,72.6 688.8,73.5 689.4,74.3 689.9,75.1 690.5,76.0 691.0,76.8 691.5,77.7 692.0,78.5 692.5,79.4 693.0,80.3 693.5,81.2 694.0,82.0 694.5,82.9 695.0,83.8 695.5,84.7 695.9,85.7 696.4,86.6 696.8,87.5 697.3,88.4 697.8,89.3 698.2,90.3 698.6,91.2 699.1,92.1 699.5,93.0 700.0,94.0 700.4,94.9 700.8,95.8 701.3,96.8 701.7,97.7 702.1,98.6 702.5,99.6 702.9,100.5 703.4,101.5 703.8,102.4 704.2,103.3 704.6,104.3 705.0,105.2 705.4,106.1 705.8,107.1 706.2,108.0 706.7,108.9 707.1,109.9 707.5,110.8 707.9,111.8 708.3,112.7 708.6,113.6 709.0,114.6 709.4,115.5 709.8,116.5 710.2,117.4 710.6,118.3 711.0,119.3 711.4,120.2 711.7,121.2 712.1,122.1 712.5,123.0 712.9,124.0 713.3,124.9 713.6,125.9 714.0,126.8 714.4,127.8 714.7,128.7 715.1,129.6 715.5,130.6 715.8,131.5 716.2,132.5 716.5,133.4 716.9,134.4 717.3,135.3 717.6,136.2 718.0,137.2 718.3,138.1 718.7,139.1 719.0,140.0 719.4,141.0 719.7,141.9 720.1,142.9 720.4,143.8 720.7,144.8 721.1,145.7 721.4,146.6 721.8,147.6 722.1,148.5 722.4,149.5 722.8,150.4 723.1,151.4 723.4,152.3 723.7,153.3 724.1,154.2 724.4,155.2 724.7,156.1 725.0,157.1 725.4,158.0 725.7,159.0 726.0,159.9 726.3,160.9 726.6,161.8 726.9,162.8 727.2,163.7 727.6,164.7 727.9,165.6 728.2,166.6 728.5,167.5 728.8,168.5 729.1,169.4 729.4,170.4 729.7,171.3 730.0,172.3 730.3,173.3 730.6,174.2 730.9,175.2 731.2,176.1 731.5,177.1 731.8,178.0 732.1,179.0 732.3,179.9 732.6,180.9 732.9,181.8 733.2,182.8 733.5,183.8 733.8,184.7 734.1,185.7 734.3,186.6 734.6,187.6 734.9,188.5 735.2,189.5 735.4,190.4 735.7,191.4 736.0,192.4 736.3,193.3 736.5,194.3 736.8,195.2 737.1,196.2 737.4,197.2 737.6,198.1 737.9,199.1 738.2,200.0 738.4,201.0 738.7,202.0 738.9,202.9 739.2,203.9 739.5,204.8 739.7,205.8 740.0,206.8 740.2,207.7 740.5,208.7 740.7,209.6 741.0,210.6 741.3,211.6 741.5,212.5 741.8,213.5 742.0,214.4 742.3,215.4 742.5,216.4 742.8,217.3 743.0,218.3 743.2,219.3 743.5,220.2 743.7,221.2 744.0,222.2 744.2,223.1 744.5,224.1 744.7,225.0 744.9,226.0 745.2,227.0 745.4,227.9 745.6,228.9 745.9,229.9 746.1,230.8 746.4,231.8 746.6,232.8 746.8,233.7 747.1,234.7 747.3,235.7 747.5,236.6 747.7,237.6 748.0,238.6 748.2,239.5 748.4,240.5 748.7,241.5 748.9,242.4 749.1,243.4 749.3,244.4 749.6,245.3 749.8,246.3 750.0,247.3 750.2,248.3 750.4,249.2 750.7,250.2 750.9,251.2 751.1,252.1 751.3,253.1 751.5,254.1 751.7,255.0 752.0,256.0 752.2,257.0 752.4,258.0 752.6,258.9 752.8,259.9 753.0,260.9 753.2,261.8 753.5,262.8 753.7,263.8 753.9,264.8 754.1,265.7 754.3,266.7 754.5,267.7 754.7,268.7 754.9,269.6 755.1,270.6 755.3,271.6 755.6,272.6 755.8,273.5 756.0,274.5 756.2,275.5 756.4,276.5 756.6,277.4 756.8,278.4 757.0,279.4 757.2,280.4 757.4,281.3 757.6,282.3 757.8,283.3 758.0,284.3 758.2,285.2 758.4,286.2 758.6,287.2 758.8,288.2 759.0,289.1 759.2,290.1 759.4,291.1 759.6,292.1 759.8,293.1 760.0,294.0 760.2,295.0 760.4,296.0 760.6,297.0 760.8,298.0 761.0,298.9 761.2,299.9 761.4,300.9 761.6,301.9 761.8,302.8 762.0,303.8 762.1,304.8 762.3,305.8 762.5,306.8 762.7,307.7 762.9,308.7 763.1,309.7 763.3,310.7 763.5,311.7 763.7,312.6 763.9,313.6 764.1,314.6 764.3,315.6 764.5,316.6 764.7,317.6 764.9,318.5 765.0,319.5 765.2,320.5 765.4,321.5 765.6,322.5 765.8,323.4 766.0,324.4 766.2,325.4 766.4,326.4 766.6,327.4 766.8,328.4 767.0,329.3 767.2,330.3 767.3,331.3 767.5,332.3 767.7,333.3 767.9,334.2 768.1,335.2 768.3,336.2 768.5,337.2 768.7,338.2 768.9,339.2 769.1,340.1 769.3,341.1 769.5,342.1 769.7,343.1 769.8,344.1 770.0,345.0 770.2,346.0 770.4,347.0 770.6,348.0 770.8,349.0 771.0,350.0 771.2,350.9 771.4,351.9 771.6,352.9 771.8,353.9 772.0,354.9 772.2,355.9 772.4,356.8 772.6,357.8 772.7,358.8 772.9,359.8 773.1,360.8 773.3,361.7 773.5,362.7 773.7,363.7 773.9,364.7 774.1,365.7 774.3,366.7 774.5,367.6 774.7,368.6 774.9,369.6 775.1,370.6 775.3,371.6 775.5,372.6 775.7,373.5 775.9,374.5 776.1,375.5 776.3,376.5 776.5,377.5 776.7,378.4 776.9,379.4 777.1,380.4 777.3,381.4 777.5,382.4 777.7,383.3 777.9,384.3 778.1,385.3 778.3,386.3 778.5,387.3 778.7,388.2 778.9,389.2 779.1,390.2 779.3,391.2 779.6,392.2 779.8,393.1 780.0,394.1 780.2,395.1 780.4,396.1 780.6,397.1 780.8,398.0 781.0,399.0 781.2,400.0 781.4,401.0 781.6,402.0 781.9,402.9 782.1,403.9 782.3,404.9 782.5,405.9 782.7,406.8 782.9,407.8 783.1,408.8 783.4,409.8 783.6,410.8 783.8,411.7 784.0,412.7 784.2,413.7 784.5,414.7 784.7,415.6 784.9,416.6 785.1,417.6 785.4,418.6 785.6,419.5 785.8,420.5 786.0,421.5 786.2,422.5 786.5,423.4 786.7,424.4 786.9,425.4 787.2,426.4 787.4,427.3 787.6,428.3 787.9,429.3 788.1,430.3 788.3,431.2 788.6,432.2 788.8,433.2 789.0,434.2 789.3,435.1 789.5,436.1 789.7,437.1 790.0,438.0 790.2,439.0 790.5,440.0 790.7,441.0 790.9,441.9 791.2,442.9 791.4,443.9 791.7,444.8 791.9,445.8 792.2,446.8 792.4,447.7 792.7,448.7 792.9,449.7 793.2,450.6 793.4,451.6 793.7,452.6 793.9,453.5 794.2,454.5 794.4,455.5 794.7,456.4 794.9,457.4 795.2,458.4 795.5,459.3 795.7,460.3 796.0,461.3 796.3,462.2 796.5,463.2 796.8,464.2 797.1,465.1 797.3,466.1 797.6,467.1 797.9,468.0 798.1,469.0 798.4,469.9 798.7,470.9 799.0,471.9 799.2,472.8 799.5,473.8 799.8,474.7 800.1,475.7 800.3,476.7 800.6,477.6 800.9,478.6 801.2,479.5 801.5,480.5 801.8,481.5 802.0,482.4 802.3,483.4 802.6,484.3 802.9,485.3 803.2,486.2 803.5,487.2 803.8,488.1 804.1,489.1 804.4,490.1 804.7,491.0 805.0,492.0 805.3,492.9 805.6,493.9 805.9,494.8 806.2,495.8 806.5,496.7 806.8,497.7 807.1,498.6 807.5,499.6 807.8,500.5 808.1,501.5 808.4,502.4 808.7,503.4 809.0,504.3 809.3,505.3 809.7,506.2 810.0,507.2 810.3,508.1 810.6,509.1 811.0,510.0 811.3,510.9 811.6,511.9 812.0,512.8 812.3,513.8 812.6,514.7 813.0,515.7 813.3,516.6 813.6,517.5 814.0,518.5 814.3,519.4 814.7,520.4 815.0,521.3 815.4,522.2 815.7,523.2 816.1,524.1 816.4,525.1 816.8,526.0 817.1,526.9 817.5,527.9 817.8,528.8 818.2,529.7 818.6,530.7 818.9,531.6 819.3,532.5 819.7,533.5 820.0,534.4 820.4,535.3 820.8,536.3 821.1,537.2 821.5,538.1 821.9,539.1 822.3,540.0 822.7,540.9 823.1,541.8 823.5,542.7 823.9,543.6 824.3,544.5 824.8,545.4 825.2,546.3 825.6,547.2 826.1,548.0 826.5,548.9 827.0,549.7 827.5,550.6 828.0,551.4 828.5,552.2 829.0,553.0 829.6,553.8 830.1,554.6 830.7,555.3 831.3,556.1 831.9,556.8 832.5,557.6 833.1,558.3 833.7,558.9 834.4,559.6 835.1,560.3 835.8,560.9 836.5,561.5 837.2,562.1 838.0,562.7 838.8,563.3 839.6,563.8 840.4,564.4 841.2,564.9 842.1,565.3 843.0,565.8 843.9,566.2 844.8,566.6 845.8,567.0 846.8,567.4 847.8,567.7 848.9,568.0 849.9,568.3 851.0,568.6 852.2,568.8 853.3,569.0" fill="none" stroke="#4862d4" stroke-width="2.65" stroke-dasharray="16.96 4.24 2.65 4.24" stroke-linejoin="round" stroke-linecap="butt"/>
</g>
<rect x="107.95" y="24.30" width="780.95" height="570.60" fill="none" stroke="#3c3c3c" stroke-width="2.1"/>
<line x1="143.50" y1="594.90" x2="143.50" y2="600.90" stroke="#3c3c3c" stroke-width="1.8"/>
<line x1="380.13" y1="594.90" x2="380.13" y2="600.90" stroke="#3c3c3c" stroke-width="1.8"/>
<line x1="616.76" y1="594.90" x2="616.76" y2="600.90" stroke="#3c3c3c" stroke-width="1.8"/>
<line x1="853.39" y1="594.90" x2="853.39" y2="600.90" stroke="#3c3c3c" stroke-width="1.8"/>
<line x1="101.95" y1="163.30" x2="107.95" y2="163.30" stroke="#3c3c3c" stroke-width="1.8"/>
<line x1="101.95" y1="308.00" x2="107.95" y2="308.00" stroke="#3c3c3c" stroke-width="1.8"/>
<line x1="101.95" y1="452.70" x2="107.95" y2="452.70" stroke="#3c3c3c" stroke-width="1.8"/>
<line x1="141.05" y1="1242.10" x2="141.05" y2="683.30" stroke="#cbcbcb" stroke-width="1.5" stroke-dasharray="8 3 1.7 3"/>
<line x1="381.20" y1="1242.10" x2="381.20" y2="683.30" stroke="#cbcbcb" stroke-width="1.5" stroke-dasharray="8 3 1.7 3"/>
<line x1="621.35" y1="1242.10" x2="621.35" y2="683.30" stroke="#cbcbcb" stroke-width="1.5" stroke-dasharray="8 3 1.7 3"/>
<line x1="861.50" y1="1242.10" x2="861.50" y2="683.30" stroke="#cbcbcb" stroke-width="1.5" stroke-dasharray="8 3 1.7 3"/>
<line x1="105.00" y1="730.20" x2="897.50" y2="730.20" stroke="#cbcbcb" stroke-width="1.5" stroke-dasharray="8 3 1.7 3"/>
<line x1="105.00" y1="850.15" x2="897.50" y2="850.15" stroke="#cbcbcb" stroke-width="1.5" stroke-dasharray="8 3 1.7 3"/>
<line x1="105.00" y1="970.10" x2="897.50" y2="970.10" stroke="#cbcbcb" stroke-width="1.5" stroke-dasharray="8 3 1.7 3"/>
<line x1="105.00" y1="1090.05" x2="897.50" y2="1090.05" stroke="#cbcbcb" stroke-width="1.5" stroke-dasharray="8 3 1.7 3"/>
<line x1="105.00" y1="1210.00" x2="897.50" y2="1210.00" stroke="#cbcbcb" stroke-width="1.5" stroke-dasharray="8 3 1.7 3"/>
<g clip-path="url(#clip1)">
<polyline points="141.3,1205.6 142.3,1205.6 143.2,1205.5 144.2,1205.5 145.2,1205.5 146.1,1205.4 147.1,1205.4 148.1,1205.4 149.0,1205.3 150.0,1205.3 151.0,1205.3 152.0,1205.3 152.9,1205.2 153.9,1205.2 154.9,1205.2 155.9,1205.2 156.8,1205.2 157.8,1205.1 158.8,1205.1 159.8,1205.1 160.8,1205.1 161.7,1205.1 162.7,1205.0 163.7,1205.0 164.7,1205.0 165.7,1205.0 166.6,1205.0 167.6,1205.0 168.6,1205.0 169.6,1204.9 170.6,1204.9 171.6,1204.9 172.6,1204.9 173.5,1204.9 174.5,1204.9 175.5,1204.9 176.5,1204.9 177.5,1204.9 178.5,1204.9 179.5,1204.9 180.5,1204.8 181.5,1204.8 182.5,1204.8 183.5,1204.8 184.5,1204.8 185.5,1204.8 186.4,1204.8 187.4,1204.8 188.4,1204.8 189.4,1204.8 190.4,1204.8 191.4,1204.8 192.4,1204.8 193.4,1204.8 194.4,1204.8 195.4,1204.8 196.4,1204.8 197.4,1204.8 198.4,1204.8 199.4,1204.8 200.4,1204.8 201.4,1204.8 202.4,1204.8 203.4,1204.8 204.4,1204.8 205.5,1204.8 206.5,1204.8 207.5,1204.8 208.5,1204.8 209.5,1204.8 210.5,1204.8 211.5,1204.8 212.5,1204.8 213.5,1204.8 214.5,1204.8 215.5,1204.8 216.5,1204.8 217.5,1204.8 218.5,1204.8 219.5,1204.8 220.6,1204.8 221.6,1204.8 222.6,1204.8 223.6,1204.8 224.6,1204.8 225.6,1204.8 226.6,1204.8 227.6,1204.8 228.6,1204.8 229.7,1204.8 230.7,1204.8 231.7,1204.8 232.7,1204.8 233.7,1204.7 234.7,1204.7 235.7,1204.7 236.7,1204.7 237.8,1204.7 238.8,1204.7 239.8,1204.7 240.8,1204.7 241.8,1204.7 242.8,1204.7 243.8,1204.7 244.8,1204.7 245.9,1204.7 246.9,1204.7 247.9,1204.6 248.9,1204.6 249.9,1204.6 250.9,1204.6 251.9,1204.6 253.0,1204.6 254.0,1204.6 255.0,1204.6 256.0,1204.5 257.0,1204.5 258.0,1204.5 259.1,1204.5 260.1,1204.5 261.1,1204.5 262.1,1204.4 263.1,1204.4 264.1,1204.4 265.1,1204.4 266.2,1204.3 267.2,1204.3 268.2,1204.3 269.2,1204.3 270.2,1204.2 271.2,1204.2 272.2,1204.2 273.3,1204.2 274.3,1204.1 275.3,1204.1 276.3,1204.1 277.3,1204.0 278.3,1204.0 279.3,1204.0 280.4,1203.9 281.4,1203.9 282.4,1203.9 283.4,1203.8 284.4,1203.8 285.4,1203.7 286.4,1203.7 287.5,1203.6 288.5,1203.6 289.5,1203.6 290.5,1203.5 291.5,1203.5 292.5,1203.4 293.5,1203.4 294.5,1203.3 295.5,1203.3 296.6,1203.2 297.6,1203.1 298.6,1203.1 299.6,1203.0 300.6,1203.0 301.6,1202.9 302.6,1202.9 303.6,1202.8 304.6,1202.7 305.6,1202.7 306.7,1202.6 307.7,1202.5 308.7,1202.4 309.7,1202.4 310.7,1202.3 311.7,1202.2 312.7,1202.1 313.7,1202.1 314.7,1202.0 315.7,1201.9 316.7,1201.8 317.7,1201.7 318.7,1201.7 319.7,1201.6 320.7,1201.5 321.7,1201.4 322.7,1201.3 323.7,1201.2 324.7,1201.1 325.7,1201.0 326.7,1200.9 327.7,1200.8 328.7,1200.7 329.7,1200.6 330.7,1200.5 331.7,1200.4 332.7,1200.3 333.7,1200.2 334.7,1200.1 335.7,1199.9 336.7,1199.8 337.7,1199.7 338.7,1199.6 339.7,1199.5 340.7,1199.3 341.7,1199.2 342.7,1199.1 343.7,1198.9 344.7,1198.8 345.7,1198.7 346.6,1198.5 347.6,1198.4 348.6,1198.3 349.6,1198.1 350.6,1198.0 351.6,1197.8 352.6,1197.7 353.6,1197.5 354.5,1197.4 355.5,1197.2 356.5,1197.1 357.5,1196.9 358.5,1196.7 359.5,1196.6 360.4,1196.4 361.4,1196.2 362.4,1196.1 363.4,1195.9 364.4,1195.7 365.3,1195.5 366.3,1195.4 367.3,1195.2 368.3,1195.0 369.2,1194.8 370.2,1194.6 371.2,1194.4 372.2,1194.2 373.1,1194.0 374.1,1193.8 375.1,1193.6 376.0,1193.4 377.0,1193.2 378.0,1193.0 378.9,1192.8 379.9,1192.6 380.9,1192.4 381.8,1192.2 382.8,1191.9 383.8,1191.7 384.7,1191.5 385.7,1191.3 386.6,1191.0 387.6,1190.8 388.6,1190.6 389.5,1190.3 390.5,1190.1 391.4,1189.8 392.4,1189.6 393.3,1189.3 394.3,1189.1 395.2,1188.8 396.2,1188.6 397.1,1188.3 398.1,1188.0 399.0,1187.8 400.0,1187.5 400.9,1187.2 401.9,1187.0 402.8,1186.7 403.8,1186.4 404.7,1186.1 405.7,1185.8 406.6,1185.5 407.5,1185.2 408.5,1184.9 409.4,1184.6 410.3,1184.3 411.3,1184.0 412.2,1183.7 413.1,1183.4 414.1,1183.1 415.0,1182.8 415.9,1182.5 416.9,1182.1 417.8,1181.8 418.7,1181.5 419.6,1181.2 420.6,1180.8 421.5,1180.5 422.4,1180.1 423.3,1179.8 424.2,1179.4 425.2,1179.1 426.1,1178.7 427.0,1178.4 427.9,1178.0 428.8,1177.6 429.7,1177.3 430.7,1176.9 431.6,1176.5 432.5,1176.2 433.4,1175.8 434.3,1175.4 435.2,1175.0 436.1,1174.6 437.0,1174.2 437.9,1173.8 438.8,1173.4 439.7,1173.0 440.6,1172.6 441.5,1172.2 442.4,1171.8 443.3,1171.4 444.2,1170.9 445.1,1170.5 445.9,1170.1 446.8,1169.6 447.7,1169.2 448.6,1168.8 449.5,1168.3 450.4,1167.9 451.3,1167.4 452.1,1167.0 453.0,1166.5 453.9,1166.1 454.8,1165.6 455.6,1165.1 456.5,1164.7 457.4,1164.2 458.3,1163.7 459.1,1163.2 460.0,1162.8 460.9,1162.3 461.7,1161.8 462.6,1161.3 463.5,1160.8 464.3,1160.3 465.2,1159.8 466.1,1159.3 466.9,1158.8 467.8,1158.3 468.6,1157.8 469.5,1157.3 470.3,1156.8 471.2,1156.2 472.0,1155.7 472.9,1155.2 473.7,1154.7 474.6,1154.1 475.4,1153.6 476.3,1153.1 477.1,1152.5 478.0,1152.0 478.8,1151.4 479.6,1150.9 480.5,1150.3 481.3,1149.8 482.1,1149.2 483.0,1148.7 483.8,1148.1 484.6,1147.6 485.5,1147.0 486.3,1146.4 487.1,1145.9 488.0,1145.3 488.8,1144.7 489.6,1144.1 490.4,1143.6 491.2,1143.0 492.1,1142.4 492.9,1141.8 493.7,1141.2 494.5,1140.6 495.3,1140.0 496.1,1139.5 497.0,1138.9 497.8,1138.3 498.6,1137.7 499.4,1137.1 500.2,1136.4 501.0,1135.8 501.8,1135.2 502.6,1134.6 503.4,1134.0 504.2,1133.4 505.0,1132.8 505.8,1132.2 506.6,1131.5 507.4,1130.9 508.2,1130.3 509.0,1129.7 509.8,1129.0 510.5,1128.4 511.3,1127.8 512.1,1127.1 512.9,1126.5 513.7,1125.8 514.5,1125.2 515.2,1124.6 516.0,1123.9 516.8,1123.3 517.6,1122.6 518.4,1122.0 519.1,1121.3 519.9,1120.7 520.7,1120.0 521.4,1119.4 522.2,1118.7 523.0,1118.0 523.7,1117.4 524.5,1116.7 525.3,1116.0 526.0,1115.4 526.8,1114.7 527.6,1114.0 528.3,1113.4 529.1,1112.7 529.8,1112.0 530.6,1111.4 531.3,1110.7 532.1,1110.0 532.8,1109.3 533.6,1108.6 534.3,1108.0 535.1,1107.3 535.8,1106.6 536.6,1105.9 537.3,1105.2 538.0,1104.5 538.8,1103.8 539.5,1103.2 540.2,1102.5 541.0,1101.8 541.7,1101.1 542.4,1100.4 543.2,1099.7 543.9,1099.0 544.6,1098.3 545.4,1097.6 546.1,1096.9 546.8,1096.2 547.5,1095.5 548.3,1094.8 549.0,1094.1 549.7,1093.4 550.4,1092.7 551.1,1092.0 551.8,1091.3 552.5,1090.6 553.3,1089.8 554.0,1089.1 554.7,1088.4 555.4,1087.7 556.1,1087.0 556.8,1086.3 557.5,1085.6 558.2,1084.8 558.9,1084.1 559.6,1083.4 560.3,1082.7 561.0,1082.0 561.7,1081.3 562.4,1080.5 563.1,1079.8 563.8,1079.1 564.5,1078.4 565.2,1077.6 565.8,1076.9 566.5,1076.2 567.2,1075.5 567.9,1074.7 568.6,1074.0 569.3,1073.3 569.9,1072.5 570.6,1071.8 571.3,1071.1 572.0,1070.3 572.6,1069.6 573.3,1068.9 574.0,1068.1 574.7,1067.4 575.3,1066.7 576.0,1065.9 576.7,1065.2 577.3,1064.4 578.0,1063.7 578.7,1062.9 579.3,1062.2 580.0,1061.5 580.7,1060.7 581.3,1060.0 582.0,1059.2 582.6,1058.5 583.3,1057.7 583.9,1057.0 584.6,1056.2 585.3,1055.5 585.9,1054.7 586.6,1054.0 587.2,1053.2 587.9,1052.5 588.5,1051.7 589.1,1050.9 589.8,1050.2 590.4,1049.4 591.1,1048.7 591.7,1047.9 592.4,1047.1 593.0,1046.4 593.6,1045.6 594.3,1044.9 594.9,1044.1 595.5,1043.3 596.2,1042.6 596.8,1041.8 597.4,1041.0 598.1,1040.3 598.7,1039.5 599.3,1038.7 600.0,1038.0 600.6,1037.2 601.2,1036.4 601.8,1035.6 602.5,1034.9 603.1,1034.1 603.7,1033.3 604.3,1032.5 604.9,1031.8 605.6,1031.0 606.2,1030.2 606.8,1029.4 607.4,1028.7 608.0,1027.9 608.6,1027.1 609.2,1026.3 609.9,1025.5 610.5,1024.8 611.1,1024.0 611.7,1023.2 612.3,1022.4 612.9,1021.6 613.5,1020.8 614.1,1020.0 614.7,1019.3 615.3,1018.5 615.9,1017.7 616.5,1016.9 617.1,1016.1 617.7,1015.3 618.3,1014.5 618.9,1013.7 619.5,1012.9 620.1,1012.1 620.7,1011.3 621.3,1010.5 621.9,1009.7 622.5,1008.9 623.1,1008.1 623.6,1007.3 624.2,1006.5 624.8,1005.7 625.4,1004.9 626.0,1004.1 626.6,1003.3 627.2,1002.5 627.8,1001.7 628.3,1000.9 628.9,1000.1 629.5,999.3 630.1,998.5 630.7,997.7 631.2,996.9 631.8,996.1 632.4,995.3 633.0,994.5 633.5,993.7 634.1,992.8 634.7,992.0 635.3,991.2 635.8,990.4 636.4,989.6 637.0,988.8 637.5,988.0 638.1,987.2 638.7,986.3 639.2,985.5 639.8,984.7 640.4,983.9 640.9,983.1 641.5,982.2 642.1,981.4 642.6,980.6 643.2,979.8 643.7,979.0 644.3,978.1 644.9,977.3 645.4,976.5 646.0,975.7 646.5,974.8 647.1,974.0 647.7,973.2 648.2,972.4 648.8,971.5 649.3,970.7 649.9,969.9 650.4,969.1 651.0,968.2 651.5,967.4 652.1,966.6 652.6,965.7 653.2,964.9 653.7,964.1 654.3,963.2 654.8,962.4 655.4,961.6 655.9,960.7 656.4,959.9 657.0,959.1 657.5,958.2 658.1,957.4 658.6,956.6 659.2,955.7 659.7,954.9 660.2,954.1 660.8,953.2 661.3,952.4 661.9,951.5 662.4,950.7 662.9,949.9 663.5,949.0 664.0,948.2 664.6,947.3 665.1,946.5 665.6,945.7 666.2,944.8 666.7,944.0 667.2,943.1 667.8,942.3 668.3,941.4 668.8,940.6 669.4,939.8 669.9,938.9 670.4,938.1 671.0,937.2 671.5,936.4 672.0,935.5 672.6,934.7 673.1,933.9 673.6,933.0 674.2,932.2 674.7,931.3 675.2,930.5 675.8,929.6 676.3,928.8 676.8,927.9 677.4,927.1 677.9,926.2 678.4,925.4 679.0,924.6 679.5,923.7 680.0,922.9 680.5,922.0 681.1,921.2 681.6,920.3 682.1,919.5 682.7,918.6 683.2,917.8 683.7,916.9 684.2,916.1 684.8,915.2 685.3,914.4 685.8,913.6 686.4,912.7 686.9,911.9 687.4,911.0 688.0,910.2 688.5,909.3 689.0,908.5 689.5,907.6 690.1,906.8 690.6,905.9 691.1,905.1 691.7,904.3 692.2,903.4 692.7,902.6 693.2,901.7 693.8,900.9 694.3,900.0 694.8,899.2 695.4,898.3 695.9,897.5 696.4,896.7 697.0,895.8 697.5,895.0 698.0,894.1 698.6,893.3 699.1,892.4 699.6,891.6 700.2,890.8 700.7,889.9 701.2,889.1 701.8,888.2 702.3,887.4 702.8,886.6 703.4,885.7 703.9,884.9 704.4,884.0 705.0,883.2 705.5,882.4 706.0,881.5 706.6,880.7 707.1,879.9 707.7,879.0 708.2,878.2 708.7,877.4 709.3,876.5 709.8,875.7 710.4,874.8 710.9,874.0 711.4,873.2 712.0,872.3 712.5,871.5 713.1,870.7 713.6,869.9 714.1,869.0 714.7,868.2 715.2,867.4 715.8,866.5 716.3,865.7 716.9,864.9 717.4,864.0 718.0,863.2 718.5,862.4 719.0,861.6 719.6,860.7 720.1,859.9 720.7,859.1 721.2,858.2 721.8,857.4 722.3,856.6 722.9,855.8 723.4,854.9 724.0,854.1 724.5,853.3 725.1,852.4 725.6,851.6 726.2,850.8 726.7,850.0 727.3,849.1 727.9,848.3 728.4,847.5 729.0,846.7 729.5,845.8 730.1,845.0 730.6,844.2 731.2,843.3 731.7,842.5 732.3,841.7 732.9,840.9 733.4,840.0 734.0,839.2 734.5,838.4 735.1,837.6 735.6,836.7 736.2,835.9 736.8,835.1 737.3,834.3 737.9,833.4 738.5,832.6 739.0,831.8 739.6,830.9 740.1,830.1 740.7,829.3 741.3,828.5 741.8,827.6 742.4,826.8 743.0,826.0 743.5,825.1 744.1,824.3 744.7,823.5 745.2,822.6 745.8,821.8 746.4,821.0 746.9,820.2 747.5,819.3 748.1,818.5 748.6,817.7 749.2,816.8 749.8,816.0 750.3,815.2 750.9,814.3 751.5,813.5 752.1,812.7 752.6,811.8 753.2,811.0 753.8,810.2 754.3,809.3 754.9,808.5 755.5,807.6 756.1,806.8 756.7,806.0 757.2,805.1 757.8,804.3 758.4,803.5 759.0,802.6 759.5,801.8 760.1,801.0 760.7,800.2 761.3,799.3 761.9,798.5 762.5,797.7 763.1,796.8 763.7,796.0 764.2,795.2 764.8,794.4 765.4,793.5 766.0,792.7 766.6,791.9 767.2,791.1 767.8,790.3 768.4,789.5 769.0,788.6 769.6,787.8 770.2,787.0 770.8,786.2 771.5,785.4 772.1,784.6 772.7,783.8 773.3,783.0 773.9,782.2 774.5,781.4 775.2,780.6 775.8,779.9 776.4,779.1 777.0,778.3 777.7,777.5 778.3,776.7 778.9,776.0 779.6,775.2 780.2,774.4 780.8,773.7 781.5,772.9 782.1,772.1 782.8,771.4 783.4,770.6 784.1,769.9 784.8,769.1 785.4,768.4 786.1,767.7 786.7,766.9 787.4,766.2 788.1,765.5 788.8,764.8 789.4,764.0 790.1,763.3 790.8,762.6 791.5,761.9 792.2,761.2 792.9,760.5 793.6,759.8 794.3,759.1 795.0,758.5 795.7,757.8 796.4,757.1 797.1,756.4 797.8,755.8 798.5,755.1 799.3,754.5 800.0,753.8 800.7,753.2 801.5,752.5 802.2,751.9 802.9,751.3 803.7,750.7 804.4,750.1 805.2,749.4 806.0,748.8 806.7,748.2 807.5,747.7 808.3,747.1 809.0,746.5 809.8,745.9 810.6,745.3 811.4,744.8 812.2,744.2 813.0,743.7 813.8,743.1 814.6,742.6 815.4,742.1 816.2,741.6 817.0,741.0 817.8,740.5 818.7,740.0 819.5,739.5 820.3,739.1 821.2,738.6 822.0,738.1 822.9,737.6 823.7,737.2 824.6,736.7 825.4,736.3 826.3,735.8 827.2,735.4 828.1,735.0 829.0,734.6 829.8,734.2 830.7,733.8 831.6,733.4 832.5,733.0 833.5,732.6 834.4,732.3 835.3,731.9 836.2,731.6 837.2,731.2 838.1,730.9 839.0,730.6 840.0,730.3 840.9,730.0 841.9,729.7 842.9,729.4 843.8,729.1 844.8,728.8 845.8,728.6 846.8,728.3 847.8,728.1 848.8,727.8 849.8,727.6 850.8,727.4 851.8,727.2 852.9,727.0 853.9,726.8 854.9,726.6 856.0,726.5 857.0,726.3 858.1,726.2 859.2,726.0 860.2,725.9 861.3,725.8" fill="none" stroke="#cc1f40" stroke-width="2.65" stroke-linejoin="round" stroke-linecap="butt"/>
<polyline points="141.3,1208.0 142.3,1208.0 143.2,1207.9 144.2,1207.9 145.2,1207.9 146.1,1207.8 147.1,1207.8 148.1,1207.8 149.0,1207.8 150.0,1207.7 151.0,1207.7 152.0,1207.7 152.9,1207.7 153.9,1207.6 154.9,1207.6 155.9,1207.6 156.8,1207.6 157.8,1207.6 158.8,1207.5 159.8,1207.5 160.7,1207.5 161.7,1207.5 162.7,1207.5 163.7,1207.5 164.7,1207.5 165.7,1207.4 166.6,1207.4 167.6,1207.4 168.6,1207.4 169.6,1207.4 170.6,1207.4 171.6,1207.4 172.6,1207.4 173.5,1207.3 174.5,1207.3 175.5,1207.3 176.5,1207.3 177.5,1207.3 178.5,1207.3 179.5,1207.3 180.5,1207.3 181.5,1207.3 182.5,1207.3 183.5,1207.3 184.4,1207.3 185.4,1207.3 186.4,1207.3 187.4,1207.2 188.4,1207.2 189.4,1207.2 190.4,1207.2 191.4,1207.2 192.4,1207.2 193.4,1207.2 194.4,1207.2 195.4,1207.2 196.4,1207.2 197.4,1207.2 198.4,1207.2 199.4,1207.2 200.4,1207.2 201.4,1207.2 202.4,1207.2 203.4,1207.2 204.4,1207.2 205.4,1207.2 206.4,1207.2 207.5,1207.2 208.5,1207.2 209.5,1207.2 210.5,1207.2 211.5,1207.2 212.5,1207.2 213.5,1207.2 214.5,1207.2 215.5,1207.2 216.5,1207.2 217.5,1207.2 218.5,1207.2 219.5,1207.2 220.5,1207.2 221.6,1207.1 222.6,1207.1 223.6,1207.1 224.6,1207.1 225.6,1207.1 226.6,1207.1 227.6,1207.1 228.6,1207.1 229.6,1207.1 230.7,1207.1 231.7,1207.1 232.7,1207.1 233.7,1207.1 234.7,1207.1 235.7,1207.1 236.7,1207.0 237.7,1207.0 238.8,1207.0 239.8,1207.0 240.8,1207.0 241.8,1207.0 242.8,1207.0 243.8,1207.0 244.8,1207.0 245.9,1206.9 246.9,1206.9 247.9,1206.9 248.9,1206.9 249.9,1206.9 250.9,1206.9 251.9,1206.9 253.0,1206.8 254.0,1206.8 255.0,1206.8 256.0,1206.8 257.0,1206.8 258.0,1206.7 259.0,1206.7 260.1,1206.7 261.1,1206.7 262.1,1206.6 263.1,1206.6 264.1,1206.6 265.1,1206.6 266.2,1206.5 267.2,1206.5 268.2,1206.5 269.2,1206.4 270.2,1206.4 271.2,1206.4 272.2,1206.3 273.3,1206.3 274.3,1206.3 275.3,1206.2 276.3,1206.2 277.3,1206.2 278.3,1206.1 279.3,1206.1 280.4,1206.0 281.4,1206.0 282.4,1206.0 283.4,1205.9 284.4,1205.9 285.4,1205.8 286.4,1205.8 287.4,1205.7 288.5,1205.7 289.5,1205.6 290.5,1205.6 291.5,1205.5 292.5,1205.5 293.5,1205.4 294.5,1205.3 295.5,1205.3 296.5,1205.2 297.6,1205.2 298.6,1205.1 299.6,1205.0 300.6,1205.0 301.6,1204.9 302.6,1204.8 303.6,1204.8 304.6,1204.7 305.6,1204.6 306.6,1204.5 307.6,1204.5 308.7,1204.4 309.7,1204.3 310.7,1204.2 311.7,1204.1 312.7,1204.1 313.7,1204.0 314.7,1203.9 315.7,1203.8 316.7,1203.7 317.7,1203.6 318.7,1203.5 319.7,1203.4 320.7,1203.3 321.7,1203.2 322.7,1203.1 323.7,1203.0 324.7,1202.9 325.7,1202.8 326.7,1202.7 327.7,1202.6 328.7,1202.5 329.7,1202.4 330.7,1202.3 331.7,1202.2 332.7,1202.1 333.7,1201.9 334.7,1201.8 335.7,1201.7 336.7,1201.6 337.7,1201.4 338.7,1201.3 339.7,1201.2 340.7,1201.0 341.7,1200.9 342.7,1200.8 343.6,1200.6 344.6,1200.5 345.6,1200.4 346.6,1200.2 347.6,1200.1 348.6,1199.9 349.6,1199.8 350.6,1199.6 351.5,1199.5 352.5,1199.3 353.5,1199.2 354.5,1199.0 355.5,1198.8 356.5,1198.7 357.5,1198.5 358.4,1198.3 359.4,1198.2 360.4,1198.0 361.4,1197.8 362.4,1197.6 363.3,1197.4 364.3,1197.3 365.3,1197.1 366.3,1196.9 367.2,1196.7 368.2,1196.5 369.2,1196.3 370.2,1196.1 371.1,1195.9 372.1,1195.7 373.1,1195.5 374.0,1195.3 375.0,1195.1 376.0,1194.9 376.9,1194.7 377.9,1194.5 378.9,1194.2 379.8,1194.0 380.8,1193.8 381.8,1193.6 382.7,1193.3 383.7,1193.1 384.6,1192.9 385.6,1192.6 386.6,1192.4 387.5,1192.2 388.5,1191.9 389.4,1191.7 390.4,1191.4 391.3,1191.2 392.3,1190.9 393.2,1190.7 394.2,1190.4 395.1,1190.1 396.1,1189.9 397.0,1189.6 398.0,1189.3 398.9,1189.1 399.9,1188.8 400.8,1188.5 401.8,1188.2 402.7,1187.9 403.7,1187.6 404.6,1187.3 405.5,1187.1 406.5,1186.8 407.4,1186.5 408.3,1186.2 409.3,1185.8 410.2,1185.5 411.1,1185.2 412.1,1184.9 413.0,1184.6 413.9,1184.3 414.9,1183.9 415.8,1183.6 416.7,1183.3 417.6,1183.0 418.6,1182.6 419.5,1182.3 420.4,1181.9 421.3,1181.6 422.2,1181.2 423.2,1180.9 424.1,1180.5 425.0,1180.2 425.9,1179.8 426.8,1179.4 427.7,1179.1 428.7,1178.7 429.6,1178.3 430.5,1178.0 431.4,1177.6 432.3,1177.2 433.2,1176.8 434.1,1176.4 435.0,1176.0 435.9,1175.6 436.8,1175.2 437.7,1174.8 438.6,1174.4 439.5,1174.0 440.4,1173.6 441.3,1173.1 442.2,1172.7 443.1,1172.3 443.9,1171.9 444.8,1171.4 445.7,1171.0 446.6,1170.6 447.5,1170.1 448.4,1169.7 449.2,1169.2 450.1,1168.8 451.0,1168.3 451.9,1167.9 452.8,1167.4 453.6,1166.9 454.5,1166.5 455.4,1166.0 456.2,1165.5 457.1,1165.0 458.0,1164.6 458.9,1164.1 459.7,1163.6 460.6,1163.1 461.4,1162.6 462.3,1162.1 463.2,1161.6 464.0,1161.1 464.9,1160.6 465.7,1160.1 466.6,1159.6 467.4,1159.1 468.3,1158.6 469.2,1158.0 470.0,1157.5 470.8,1157.0 471.7,1156.5 472.5,1155.9 473.4,1155.4 474.2,1154.9 475.1,1154.3 475.9,1153.8 476.8,1153.2 477.6,1152.7 478.4,1152.2 479.3,1151.6 480.1,1151.0 480.9,1150.5 481.8,1149.9 482.6,1149.4 483.4,1148.8 484.2,1148.2 485.1,1147.7 485.9,1147.1 486.7,1146.5 487.5,1145.9 488.4,1145.4 489.2,1144.8 490.0,1144.2 490.8,1143.6 491.6,1143.0 492.4,1142.4 493.3,1141.9 494.1,1141.3 494.9,1140.7 495.7,1140.1 496.5,1139.5 497.3,1138.9 498.1,1138.3 498.9,1137.6 499.7,1137.0 500.5,1136.4 501.3,1135.8 502.1,1135.2 502.9,1134.6 503.7,1134.0 504.5,1133.3 505.3,1132.7 506.1,1132.1 506.9,1131.5 507.7,1130.8 508.5,1130.2 509.3,1129.6 510.0,1128.9 510.8,1128.3 511.6,1127.7 512.4,1127.0 513.2,1126.4 513.9,1125.7 514.7,1125.1 515.5,1124.4 516.3,1123.8 517.1,1123.1 517.8,1122.5 518.6,1121.8 519.4,1121.2 520.1,1120.5 520.9,1119.9 521.7,1119.2 522.4,1118.5 523.2,1117.9 524.0,1117.2 524.7,1116.5 525.5,1115.9 526.2,1115.2 527.0,1114.5 527.8,1113.9 528.5,1113.2 529.3,1112.5 530.0,1111.8 530.8,1111.1 531.5,1110.5 532.3,1109.8 533.0,1109.1 533.8,1108.4 534.5,1107.7 535.2,1107.1 536.0,1106.4 536.7,1105.7 537.5,1105.0 538.2,1104.3 538.9,1103.6 539.7,1102.9 540.4,1102.2 541.1,1101.5 541.9,1100.8 542.6,1100.1 543.3,1099.4 544.1,1098.7 544.8,1098.0 545.5,1097.3 546.2,1096.6 547.0,1095.9 547.7,1095.2 548.4,1094.5 549.1,1093.8 549.8,1093.1 550.5,1092.4 551.3,1091.7 552.0,1091.0 552.7,1090.3 553.4,1089.6 554.1,1088.9 554.8,1088.2 555.5,1087.5 556.2,1086.7 556.9,1086.0 557.6,1085.3 558.3,1084.6 559.0,1083.9 559.7,1083.2 560.4,1082.4 561.1,1081.7 561.8,1081.0 562.5,1080.3 563.2,1079.6 563.9,1078.8 564.6,1078.1 565.3,1077.4 566.0,1076.7 566.7,1075.9 567.3,1075.2 568.0,1074.5 568.7,1073.8 569.4,1073.0 570.1,1072.3 570.8,1071.6 571.4,1070.8 572.1,1070.1 572.8,1069.4 573.5,1068.6 574.1,1067.9 574.8,1067.2 575.5,1066.4 576.2,1065.7 576.8,1065.0 577.5,1064.2 578.2,1063.5 578.8,1062.7 579.5,1062.0 580.2,1061.3 580.8,1060.5 581.5,1059.8 582.1,1059.0 582.8,1058.3 583.5,1057.5 584.1,1056.8 584.8,1056.0 585.4,1055.3 586.1,1054.5 586.7,1053.8 587.4,1053.0 588.0,1052.3 588.7,1051.5 589.3,1050.8 590.0,1050.0 590.6,1049.3 591.3,1048.5 591.9,1047.8 592.5,1047.0 593.2,1046.2 593.8,1045.5 594.5,1044.7 595.1,1044.0 595.7,1043.2 596.4,1042.4 597.0,1041.7 597.6,1040.9 598.3,1040.1 598.9,1039.4 599.5,1038.6 600.2,1037.8 600.8,1037.1 601.4,1036.3 602.0,1035.5 602.7,1034.8 603.3,1034.0 603.9,1033.2 604.5,1032.5 605.2,1031.7 605.8,1030.9 606.4,1030.1 607.0,1029.4 607.6,1028.6 608.2,1027.8 608.9,1027.0 609.5,1026.2 610.1,1025.5 610.7,1024.7 611.3,1023.9 611.9,1023.1 612.5,1022.3 613.1,1021.6 613.7,1020.8 614.3,1020.0 614.9,1019.2 615.5,1018.4 616.2,1017.6 616.8,1016.8 617.4,1016.0 618.0,1015.3 618.6,1014.5 619.2,1013.7 619.7,1012.9 620.3,1012.1 620.9,1011.3 621.5,1010.5 622.1,1009.7 622.7,1008.9 623.3,1008.1 623.9,1007.3 624.5,1006.5 625.1,1005.7 625.7,1004.9 626.2,1004.1 626.8,1003.3 627.4,1002.5 628.0,1001.7 628.6,1000.9 629.2,1000.1 629.7,999.3 630.3,998.5 630.9,997.7 631.5,996.9 632.1,996.1 632.6,995.2 633.2,994.4 633.8,993.6 634.4,992.8 634.9,992.0 635.5,991.2 636.1,990.4 636.6,989.6 637.2,988.7 637.8,987.9 638.3,987.1 638.9,986.3 639.5,985.5 640.0,984.7 640.6,983.8 641.2,983.0 641.7,982.2 642.3,981.4 642.9,980.6 643.4,979.7 644.0,978.9 644.5,978.1 645.1,977.3 645.6,976.4 646.2,975.6 646.8,974.8 647.3,973.9 647.9,973.1 648.4,972.3 649.0,971.5 649.5,970.6 650.1,969.8 650.6,969.0 651.2,968.1 651.7,967.3 652.3,966.5 652.8,965.6 653.4,964.8 653.9,963.9 654.4,963.1 655.0,962.3 655.5,961.4 656.1,960.6 656.6,959.8 657.1,958.9 657.7,958.1 658.2,957.2 658.8,956.4 659.3,955.5 659.8,954.7 660.4,953.9 660.9,953.0 661.5,952.2 662.0,951.3 662.5,950.5 663.1,949.6 663.6,948.8 664.1,947.9 664.7,947.1 665.2,946.3 665.7,945.4 666.3,944.6 666.8,943.7 667.3,942.9 667.8,942.0 668.4,941.2 668.9,940.3 669.4,939.5 670.0,938.6 670.5,937.8 671.0,936.9 671.6,936.1 672.1,935.2 672.6,934.4 673.1,933.5 673.7,932.7 674.2,931.8 674.7,931.0 675.3,930.1 675.8,929.3 676.3,928.4 676.8,927.6 677.4,926.7 677.9,925.9 678.4,925.0 678.9,924.2 679.5,923.3 680.0,922.4 680.5,921.6 681.0,920.7 681.6,919.9 682.1,919.0 682.6,918.2 683.2,917.3 683.7,916.5 684.2,915.6 684.7,914.8 685.3,913.9 685.8,913.1 686.3,912.2 686.8,911.4 687.4,910.5 687.9,909.7 688.4,908.8 689.0,908.0 689.5,907.1 690.0,906.3 690.5,905.4 691.1,904.6 691.6,903.8 692.1,902.9 692.7,902.1 693.2,901.2 693.7,900.4 694.2,899.5 694.8,898.7 695.3,897.8 695.8,897.0 696.4,896.1 696.9,895.3 697.4,894.5 698.0,893.6 698.5,892.8 699.0,891.9 699.6,891.1 700.1,890.2 700.6,889.4 701.2,888.6 701.7,887.7 702.3,886.9 702.8,886.1 703.3,885.2 703.9,884.4 704.4,883.5 704.9,882.7 705.5,881.9 706.0,881.0 706.6,880.2 707.1,879.4 707.7,878.5 708.2,877.7 708.7,876.9 709.3,876.1 709.8,875.2 710.4,874.4 710.9,873.6 711.5,872.7 712.0,871.9 712.6,871.1 713.1,870.3 713.7,869.4 714.2,868.6 714.8,867.8 715.3,867.0 715.9,866.1 716.4,865.3 717.0,864.5 717.5,863.7 718.1,862.9 718.6,862.0 719.2,861.2 719.8,860.4 720.3,859.6 720.9,858.8 721.4,857.9 722.0,857.1 722.5,856.3 723.1,855.5 723.7,854.7 724.2,853.8 724.8,853.0 725.3,852.2 725.9,851.4 726.5,850.6 727.0,849.7 727.6,848.9 728.1,848.1 728.7,847.3 729.3,846.5 729.8,845.7 730.4,844.8 730.9,844.0 731.5,843.2 732.1,842.4 732.6,841.6 733.2,840.7 733.7,839.9 734.3,839.1 734.9,838.3 735.4,837.5 736.0,836.6 736.6,835.8 737.1,835.0 737.7,834.2 738.2,833.3 738.8,832.5 739.4,831.7 739.9,830.9 740.5,830.1 741.1,829.2 741.6,828.4 742.2,827.6 742.7,826.8 743.3,825.9 743.9,825.1 744.4,824.3 745.0,823.4 745.5,822.6 746.1,821.8 746.7,821.0 747.2,820.1 747.8,819.3 748.4,818.5 748.9,817.6 749.5,816.8 750.0,816.0 750.6,815.1 751.2,814.3 751.7,813.5 752.3,812.6 752.8,811.8 753.4,810.9 754.0,810.1 754.5,809.3 755.1,808.4 755.6,807.6 756.2,806.7 756.8,805.9 757.3,805.1 757.9,804.2 758.4,803.4 759.0,802.5 759.6,801.7 760.1,800.8 760.7,800.0 761.2,799.2 761.8,798.3 762.4,797.5 762.9,796.7 763.5,795.8 764.1,795.0 764.7,794.2 765.2,793.3 765.8,792.5 766.4,791.7 766.9,790.8 767.5,790.0 768.1,789.2 768.7,788.3 769.3,787.5 769.8,786.7 770.4,785.9 771.0,785.1 771.6,784.2 772.2,783.4 772.8,782.6 773.4,781.8 774.0,781.0 774.6,780.2 775.2,779.4 775.8,778.6 776.4,777.8 777.0,777.0 777.6,776.2 778.2,775.4 778.8,774.6 779.4,773.8 780.0,773.0 780.7,772.3 781.3,771.5 781.9,770.7 782.6,769.9 783.2,769.2 783.8,768.4 784.5,767.7 785.1,766.9 785.7,766.1 786.4,765.4 787.0,764.7 787.7,763.9 788.4,763.2 789.0,762.4 789.7,761.7 790.3,761.0 791.0,760.3 791.7,759.6 792.4,758.8 793.1,758.1 793.7,757.4 794.4,756.7 795.1,756.0 795.8,755.4 796.5,754.7 797.2,754.0 797.9,753.3 798.7,752.7 799.4,752.0 800.1,751.3 800.8,750.7 801.6,750.0 802.3,749.4 803.0,748.8 803.8,748.1 804.5,747.5 805.3,746.9 806.1,746.3 806.8,745.7 807.6,745.1 808.4,744.5 809.1,743.9 809.9,743.3 810.7,742.7 811.5,742.2 812.3,741.6 813.1,741.0 813.9,740.5 814.7,739.9 815.5,739.4 816.4,738.9 817.2,738.4 818.0,737.8 818.9,737.3 819.7,736.8 820.6,736.3 821.4,735.8 822.3,735.4 823.1,734.9 824.0,734.4 824.9,733.9 825.7,733.5 826.6,733.0 827.5,732.6 828.4,732.2 829.3,731.7 830.2,731.3 831.1,730.9 832.0,730.5 832.9,730.1 833.8,729.7 834.7,729.3 835.7,729.0 836.6,728.6 837.5,728.2 838.5,727.9 839.4,727.5 840.4,727.2 841.3,726.9 842.3,726.5 843.2,726.2 844.2,725.9 845.2,725.6 846.1,725.3 847.1,725.1 848.1,724.8 849.1,724.5 850.1,724.3 851.1,724.0 852.1,723.8 853.1,723.5 854.1,723.3 855.1,723.1 856.1,722.9 857.2,722.7 858.2,722.5 859.2,722.3 860.3,722.2 861.3,722.0" fill="none" stroke="#35994a" stroke-width="2.65" stroke-dasharray="9.80 4.24" stroke-linejoin="round" stroke-linecap="butt"/>
<polyline points="141.3,1203.2 142.3,1203.2 143.3,1203.1 144.3,1203.1 145.3,1203.0 146.3,1203.0 147.3,1202.9 148.3,1202.9 149.3,1202.8 150.3,1202.8 151.3,1202.8 152.2,1202.7 153.2,1202.7 154.2,1202.7 155.2,1202.6 156.2,1202.6 157.2,1202.6 158.2,1202.5 159.2,1202.5 160.2,1202.5 161.2,1202.5 162.2,1202.4 163.2,1202.4 164.2,1202.4 165.2,1202.4 166.2,1202.4 167.2,1202.3 168.2,1202.3 169.2,1202.3 170.2,1202.3 171.2,1202.3 172.2,1202.3 173.2,1202.3 174.2,1202.2 175.2,1202.2 176.2,1202.2 177.2,1202.2 178.2,1202.2 179.2,1202.2 180.2,1202.2 181.2,1202.2 182.2,1202.2 183.2,1202.2 184.2,1202.2 185.2,1202.2 186.2,1202.2 187.2,1202.2 188.2,1202.2 189.2,1202.2 190.2,1202.2 191.2,1202.2 192.2,1202.2 193.2,1202.2 194.2,1202.2 195.2,1202.2 196.2,1202.2 197.2,1202.2 198.2,1202.2 199.2,1202.2 200.2,1202.2 201.2,1202.3 202.2,1202.3 203.2,1202.3 204.2,1202.3 205.2,1202.3 206.2,1202.3 207.2,1202.3 208.2,1202.3 209.2,1202.3 210.2,1202.3 211.2,1202.3 212.2,1202.3 213.2,1202.4 214.2,1202.4 215.2,1202.4 216.2,1202.4 217.2,1202.4 218.2,1202.4 219.2,1202.4 220.2,1202.4 221.2,1202.4 222.2,1202.4 223.2,1202.5 224.2,1202.5 225.2,1202.5 226.2,1202.5 227.2,1202.5 228.2,1202.5 229.2,1202.5 230.2,1202.5 231.2,1202.5 232.2,1202.5 233.2,1202.5 234.2,1202.5 235.2,1202.5 236.2,1202.6 237.2,1202.6 238.2,1202.6 239.2,1202.6 240.2,1202.6 241.2,1202.6 242.2,1202.6 243.2,1202.6 244.2,1202.6 245.2,1202.6 246.2,1202.6 247.2,1202.6 248.2,1202.6 249.2,1202.6 250.2,1202.6 251.2,1202.6 252.2,1202.6 253.2,1202.6 254.2,1202.6 255.2,1202.6 256.2,1202.5 257.2,1202.5 258.2,1202.5 259.2,1202.5 260.2,1202.5 261.2,1202.5 262.2,1202.5 263.2,1202.5 264.2,1202.5 265.2,1202.4 266.2,1202.4 267.2,1202.4 268.2,1202.4 269.2,1202.4 270.2,1202.3 271.2,1202.3 272.2,1202.3 273.2,1202.3 274.2,1202.2 275.2,1202.2 276.2,1202.2 277.2,1202.2 278.2,1202.1 279.2,1202.1 280.2,1202.1 281.2,1202.0 282.2,1202.0 283.2,1201.9 284.2,1201.9 285.2,1201.9 286.2,1201.8 287.2,1201.8 288.2,1201.7 289.2,1201.7 290.2,1201.6 291.2,1201.6 292.2,1201.5 293.2,1201.5 294.2,1201.4 295.2,1201.4 296.2,1201.3 297.2,1201.2 298.2,1201.2 299.2,1201.1 300.2,1201.0 301.2,1201.0 302.2,1200.9 303.2,1200.8 304.2,1200.8 305.1,1200.7 306.1,1200.6 307.1,1200.5 308.1,1200.4 309.1,1200.4 310.1,1200.3 311.1,1200.2 312.1,1200.1 313.1,1200.0 314.1,1199.9 315.1,1199.8 316.1,1199.7 317.1,1199.6 318.1,1199.5 319.1,1199.4 320.1,1199.3 321.1,1199.2 322.1,1199.1 323.0,1198.9 324.0,1198.8 325.0,1198.7 326.0,1198.6 327.0,1198.5 328.0,1198.3 329.0,1198.2 330.0,1198.1 331.0,1197.9 332.0,1197.8 333.0,1197.7 334.0,1197.5 334.9,1197.4 335.9,1197.2 336.9,1197.1 337.9,1196.9 338.9,1196.8 339.9,1196.6 340.9,1196.5 341.9,1196.3 342.9,1196.1 343.9,1196.0 344.8,1195.8 345.8,1195.6 346.8,1195.4 347.8,1195.3 348.8,1195.1 349.8,1194.9 350.8,1194.7 351.7,1194.5 352.7,1194.3 353.7,1194.1 354.7,1193.9 355.7,1193.7 356.7,1193.5 357.7,1193.3 358.6,1193.1 359.6,1192.9 360.6,1192.7 361.6,1192.5 362.6,1192.3 363.5,1192.0 364.5,1191.8 365.5,1191.6 366.5,1191.4 367.5,1191.1 368.4,1190.9 369.4,1190.7 370.4,1190.4 371.4,1190.2 372.3,1189.9 373.3,1189.7 374.3,1189.4 375.3,1189.2 376.2,1188.9 377.2,1188.7 378.2,1188.4 379.1,1188.2 380.1,1187.9 381.1,1187.6 382.0,1187.4 383.0,1187.1 384.0,1186.8 384.9,1186.5 385.9,1186.2 386.9,1186.0 387.8,1185.7 388.8,1185.4 389.8,1185.1 390.7,1184.8 391.7,1184.5 392.6,1184.2 393.6,1183.9 394.6,1183.6 395.5,1183.3 396.5,1183.0 397.4,1182.7 398.4,1182.4 399.3,1182.0 400.3,1181.7 401.2,1181.4 402.2,1181.1 403.1,1180.8 404.1,1180.4 405.0,1180.1 406.0,1179.8 406.9,1179.4 407.8,1179.1 408.8,1178.7 409.7,1178.4 410.7,1178.0 411.6,1177.7 412.5,1177.3 413.5,1177.0 414.4,1176.6 415.3,1176.3 416.3,1175.9 417.2,1175.5 418.1,1175.2 419.1,1174.8 420.0,1174.4 420.9,1174.0 421.8,1173.7 422.8,1173.3 423.7,1172.9 424.6,1172.5 425.5,1172.1 426.5,1171.7 427.4,1171.3 428.3,1170.9 429.2,1170.5 430.1,1170.1 431.0,1169.7 431.9,1169.3 432.8,1168.9 433.7,1168.5 434.7,1168.1 435.6,1167.6 436.5,1167.2 437.4,1166.8 438.3,1166.4 439.2,1165.9 440.1,1165.5 441.0,1165.1 441.8,1164.6 442.7,1164.2 443.6,1163.8 444.5,1163.3 445.4,1162.9 446.3,1162.4 447.2,1162.0 448.1,1161.5 448.9,1161.1 449.8,1160.6 450.7,1160.1 451.6,1159.7 452.5,1159.2 453.3,1158.7 454.2,1158.2 455.1,1157.8 455.9,1157.3 456.8,1156.8 457.7,1156.3 458.5,1155.8 459.4,1155.4 460.3,1154.9 461.1,1154.4 462.0,1153.9 462.8,1153.4 463.7,1152.9 464.5,1152.4 465.4,1151.9 466.2,1151.4 467.1,1150.8 467.9,1150.3 468.8,1149.8 469.6,1149.3 470.4,1148.8 471.3,1148.3 472.1,1147.7 473.0,1147.2 473.8,1146.7 474.6,1146.1 475.5,1145.6 476.3,1145.1 477.1,1144.5 477.9,1144.0 478.8,1143.4 479.6,1142.9 480.4,1142.3 481.2,1141.8 482.1,1141.2 482.9,1140.7 483.7,1140.1 484.5,1139.6 485.3,1139.0 486.1,1138.4 486.9,1137.9 487.8,1137.3 488.6,1136.7 489.4,1136.2 490.2,1135.6 491.0,1135.0 491.8,1134.4 492.6,1133.8 493.4,1133.3 494.2,1132.7 495.0,1132.1 495.8,1131.5 496.6,1130.9 497.3,1130.3 498.1,1129.7 498.9,1129.1 499.7,1128.5 500.5,1127.9 501.3,1127.3 502.1,1126.7 502.8,1126.1 503.6,1125.5 504.4,1124.9 505.2,1124.3 506.0,1123.6 506.7,1123.0 507.5,1122.4 508.3,1121.8 509.0,1121.2 509.8,1120.5 510.6,1119.9 511.4,1119.3 512.1,1118.6 512.9,1118.0 513.6,1117.4 514.4,1116.7 515.2,1116.1 515.9,1115.4 516.7,1114.8 517.4,1114.2 518.2,1113.5 518.9,1112.9 519.7,1112.2 520.4,1111.6 521.2,1110.9 521.9,1110.3 522.7,1109.6 523.4,1108.9 524.2,1108.3 524.9,1107.6 525.6,1106.9 526.4,1106.3 527.1,1105.6 527.9,1104.9 528.6,1104.3 529.3,1103.6 530.1,1102.9 530.8,1102.2 531.5,1101.6 532.3,1100.9 533.0,1100.2 533.7,1099.5 534.4,1098.8 535.2,1098.1 535.9,1097.5 536.6,1096.8 537.3,1096.1 538.0,1095.4 538.8,1094.7 539.5,1094.0 540.2,1093.3 540.9,1092.6 541.6,1091.9 542.3,1091.2 543.0,1090.5 543.7,1089.8 544.4,1089.1 545.2,1088.4 545.9,1087.7 546.6,1087.0 547.3,1086.2 548.0,1085.5 548.7,1084.8 549.4,1084.1 550.1,1083.4 550.8,1082.7 551.5,1081.9 552.1,1081.2 552.8,1080.5 553.5,1079.8 554.2,1079.0 554.9,1078.3 555.6,1077.6 556.3,1076.9 557.0,1076.1 557.7,1075.4 558.3,1074.7 559.0,1073.9 559.7,1073.2 560.4,1072.4 561.1,1071.7 561.7,1071.0 562.4,1070.2 563.1,1069.5 563.8,1068.7 564.4,1068.0 565.1,1067.2 565.8,1066.5 566.5,1065.7 567.1,1065.0 567.8,1064.2 568.5,1063.5 569.1,1062.7 569.8,1062.0 570.5,1061.2 571.1,1060.5 571.8,1059.7 572.4,1058.9 573.1,1058.2 573.8,1057.4 574.4,1056.7 575.1,1055.9 575.7,1055.1 576.4,1054.4 577.0,1053.6 577.7,1052.8 578.3,1052.1 579.0,1051.3 579.6,1050.5 580.3,1049.8 580.9,1049.0 581.6,1048.2 582.2,1047.4 582.9,1046.7 583.5,1045.9 584.1,1045.1 584.8,1044.3 585.4,1043.5 586.1,1042.8 586.7,1042.0 587.3,1041.2 588.0,1040.4 588.6,1039.6 589.2,1038.8 589.9,1038.1 590.5,1037.3 591.1,1036.5 591.8,1035.7 592.4,1034.9 593.0,1034.1 593.6,1033.3 594.3,1032.5 594.9,1031.7 595.5,1030.9 596.1,1030.2 596.8,1029.4 597.4,1028.6 598.0,1027.8 598.6,1027.0 599.2,1026.2 599.9,1025.4 600.5,1024.6 601.1,1023.8 601.7,1023.0 602.3,1022.2 602.9,1021.4 603.5,1020.6 604.2,1019.8 604.8,1019.0 605.4,1018.2 606.0,1017.4 606.6,1016.6 607.2,1015.7 607.8,1014.9 608.4,1014.1 609.0,1013.3 609.6,1012.5 610.2,1011.7 610.8,1010.9 611.4,1010.1 612.0,1009.3 612.6,1008.5 613.2,1007.7 613.8,1006.8 614.4,1006.0 615.0,1005.2 615.6,1004.4 616.2,1003.6 616.8,1002.8 617.4,1002.0 618.0,1001.2 618.6,1000.3 619.1,999.5 619.7,998.7 620.3,997.9 620.9,997.1 621.5,996.3 622.1,995.4 622.7,994.6 623.3,993.8 623.8,993.0 624.4,992.2 625.0,991.4 625.6,990.5 626.2,989.7 626.7,988.9 627.3,988.1 627.9,987.3 628.5,986.4 629.1,985.6 629.6,984.8 630.2,984.0 630.8,983.1 631.3,982.3 631.9,981.5 632.5,980.7 633.1,979.9 633.6,979.0 634.2,978.2 634.8,977.4 635.3,976.6 635.9,975.7 636.5,974.9 637.0,974.1 637.6,973.3 638.2,972.5 638.7,971.6 639.3,970.8 639.9,970.0 640.4,969.2 641.0,968.3 641.6,967.5 642.1,966.7 642.7,965.9 643.2,965.0 643.8,964.2 644.3,963.4 644.9,962.6 645.5,961.7 646.0,960.9 646.6,960.1 647.1,959.3 647.7,958.4 648.2,957.6 648.8,956.8 649.3,956.0 649.9,955.2 650.5,954.3 651.0,953.5 651.6,952.7 652.1,951.9 652.7,951.0 653.2,950.2 653.8,949.4 654.3,948.6 654.9,947.7 655.4,946.9 656.0,946.1 656.5,945.3 657.1,944.4 657.6,943.6 658.2,942.8 658.7,942.0 659.3,941.2 659.8,940.3 660.4,939.5 660.9,938.7 661.5,937.9 662.0,937.0 662.6,936.2 663.1,935.4 663.6,934.6 664.2,933.8 664.7,932.9 665.3,932.1 665.8,931.3 666.4,930.5 666.9,929.6 667.5,928.8 668.0,928.0 668.6,927.2 669.1,926.4 669.7,925.5 670.2,924.7 670.8,923.9 671.3,923.1 671.9,922.3 672.5,921.4 673.0,920.6 673.6,919.8 674.1,919.0 674.7,918.2 675.2,917.3 675.8,916.5 676.3,915.7 676.9,914.9 677.4,914.1 678.0,913.3 678.5,912.4 679.1,911.6 679.7,910.8 680.2,910.0 680.8,909.2 681.3,908.4 681.9,907.5 682.5,906.7 683.0,905.9 683.6,905.1 684.1,904.3 684.7,903.5 685.3,902.7 685.8,901.8 686.4,901.0 687.0,900.2 687.5,899.4 688.1,898.6 688.7,897.8 689.2,897.0 689.8,896.2 690.4,895.3 690.9,894.5 691.5,893.7 692.1,892.9 692.7,892.1 693.2,891.3 693.8,890.5 694.4,889.7 694.9,888.8 695.5,888.0 696.1,887.2 696.7,886.4 697.2,885.6 697.8,884.8 698.4,884.0 699.0,883.2 699.6,882.4 700.1,881.6 700.7,880.7 701.3,879.9 701.9,879.1 702.5,878.3 703.0,877.5 703.6,876.7 704.2,875.9 704.8,875.1 705.4,874.3 705.9,873.5 706.5,872.6 707.1,871.8 707.7,871.0 708.3,870.2 708.9,869.4 709.5,868.6 710.0,867.8 710.6,867.0 711.2,866.2 711.8,865.4 712.4,864.5 713.0,863.7 713.6,862.9 714.2,862.1 714.7,861.3 715.3,860.5 715.9,859.7 716.5,858.9 717.1,858.1 717.7,857.2 718.3,856.4 718.9,855.6 719.5,854.8 720.0,854.0 720.6,853.2 721.2,852.4 721.8,851.6 722.4,850.7 723.0,849.9 723.6,849.1 724.2,848.3 724.8,847.5 725.4,846.7 726.0,845.9 726.6,845.1 727.1,844.2 727.7,843.4 728.3,842.6 728.9,841.8 729.5,841.0 730.1,840.2 730.7,839.3 731.3,838.5 731.9,837.7 732.5,836.9 733.1,836.1 733.7,835.2 734.3,834.4 734.9,833.6 735.5,832.8 736.0,832.0 736.6,831.1 737.2,830.3 737.8,829.5 738.4,828.7 739.0,827.9 739.6,827.0 740.2,826.2 740.8,825.4 741.4,824.6 742.0,823.7 742.6,822.9 743.2,822.1 743.8,821.3 744.4,820.4 745.0,819.6 745.6,818.8 746.1,818.0 746.7,817.1 747.3,816.3 747.9,815.5 748.5,814.7 749.1,813.8 749.7,813.0 750.3,812.2 750.9,811.4 751.5,810.5 752.1,809.7 752.7,808.9 753.3,808.1 753.9,807.2 754.5,806.4 755.1,805.6 755.7,804.8 756.3,804.0 756.9,803.2 757.5,802.3 758.1,801.5 758.8,800.7 759.4,799.9 760.0,799.1 760.6,798.3 761.2,797.5 761.8,796.7 762.4,795.8 763.0,795.0 763.7,794.2 764.3,793.4 764.9,792.6 765.5,791.8 766.1,791.0 766.8,790.2 767.4,789.5 768.0,788.7 768.6,787.9 769.3,787.1 769.9,786.3 770.5,785.5 771.2,784.7 771.8,784.0 772.4,783.2 773.1,782.4 773.7,781.6 774.4,780.9 775.0,780.1 775.6,779.3 776.3,778.6 776.9,777.8 777.6,777.0 778.2,776.3 778.9,775.5 779.6,774.8 780.2,774.0 780.9,773.3 781.5,772.6 782.2,771.8 782.9,771.1 783.5,770.4 784.2,769.6 784.9,768.9 785.6,768.2 786.2,767.5 786.9,766.7 787.6,766.0 788.3,765.3 789.0,764.6 789.7,763.9 790.4,763.2 791.1,762.5 791.8,761.8 792.5,761.1 793.2,760.5 793.9,759.8 794.6,759.1 795.3,758.4 796.0,757.8 796.7,757.1 797.4,756.4 798.2,755.8 798.9,755.1 799.6,754.5 800.4,753.9 801.1,753.2 801.8,752.6 802.6,751.9 803.3,751.3 804.1,750.7 804.8,750.1 805.6,749.5 806.3,748.9 807.1,748.3 807.8,747.7 808.6,747.1 809.4,746.5 810.2,745.9 810.9,745.3 811.7,744.8 812.5,744.2 813.3,743.6 814.1,743.1 814.9,742.5 815.7,742.0 816.5,741.4 817.3,740.9 818.1,740.4 818.9,739.9 819.7,739.3 820.5,738.8 821.4,738.3 822.2,737.8 823.0,737.3 823.9,736.9 824.7,736.4 825.6,735.9 826.4,735.4 827.3,735.0 828.1,734.5 829.0,734.1 829.9,733.6 830.7,733.2 831.6,732.8 832.5,732.4 833.4,732.0 834.3,731.6 835.2,731.2 836.1,730.8 837.0,730.4 837.9,730.0 838.8,729.7 839.7,729.3 840.6,728.9 841.6,728.6 842.5,728.3 843.5,727.9 844.4,727.6 845.4,727.3 846.3,727.0 847.3,726.7 848.2,726.4 849.2,726.1 850.2,725.9 851.2,725.6 852.2,725.4 853.1,725.1 854.1,724.9 855.2,724.7 856.2,724.4 857.2,724.2 858.2,724.0 859.2,723.8 860.3,723.7 861.3,723.5" fill="none" stroke="#e8905e" stroke-width="2.65" stroke-dasharray="2.65 4.37" stroke-linejoin="round" stroke-linecap="butt"/>
<polyline points="141.3,1217.1 142.3,1217.0 143.3,1217.0 144.3,1216.9 145.3,1216.9 146.3,1216.8 147.3,1216.8 148.3,1216.8 149.3,1216.7 150.4,1216.7 151.4,1216.6 152.4,1216.6 153.4,1216.6 154.4,1216.5 155.4,1216.5 156.4,1216.5 157.4,1216.4 158.4,1216.4 159.4,1216.4 160.4,1216.3 161.4,1216.3 162.4,1216.3 163.4,1216.2 164.4,1216.2 165.4,1216.2 166.4,1216.2 167.4,1216.2 168.4,1216.1 169.4,1216.1 170.4,1216.1 171.4,1216.1 172.4,1216.1 173.4,1216.1 174.4,1216.0 175.4,1216.0 176.4,1216.0 177.4,1216.0 178.4,1216.0 179.4,1216.0 180.4,1216.0 181.4,1216.0 182.4,1216.0 183.4,1215.9 184.4,1215.9 185.4,1215.9 186.4,1215.9 187.4,1215.9 188.4,1215.9 189.4,1215.9 190.4,1215.9 191.4,1215.9 192.4,1215.9 193.4,1215.9 194.4,1215.9 195.4,1215.9 196.4,1215.9 197.4,1215.9 198.4,1215.9 199.4,1215.9 200.4,1215.9 201.4,1215.9 202.4,1215.9 203.4,1215.9 204.4,1215.9 205.4,1215.9 206.4,1215.9 207.4,1215.9 208.4,1215.9 209.4,1215.9 210.4,1216.0 211.4,1216.0 212.4,1216.0 213.4,1216.0 214.4,1216.0 215.4,1216.0 216.4,1216.0 217.4,1216.0 218.4,1216.0 219.4,1216.0 220.4,1216.0 221.3,1216.0 222.3,1216.0 223.3,1216.0 224.3,1216.0 225.3,1216.0 226.3,1216.0 227.3,1216.0 228.3,1216.0 229.3,1216.1 230.3,1216.1 231.3,1216.1 232.3,1216.1 233.3,1216.1 234.3,1216.1 235.3,1216.1 236.3,1216.1 237.3,1216.1 238.3,1216.1 239.3,1216.1 240.2,1216.1 241.2,1216.1 242.2,1216.1 243.2,1216.1 244.2,1216.1 245.2,1216.1 246.2,1216.1 247.2,1216.1 248.2,1216.1 249.2,1216.1 250.2,1216.1 251.2,1216.1 252.2,1216.1 253.2,1216.0 254.2,1216.0 255.2,1216.0 256.1,1216.0 257.1,1216.0 258.1,1216.0 259.1,1216.0 260.1,1216.0 261.1,1216.0 262.1,1216.0 263.1,1215.9 264.1,1215.9 265.1,1215.9 266.1,1215.9 267.1,1215.9 268.1,1215.9 269.1,1215.8 270.1,1215.8 271.0,1215.8 272.0,1215.8 273.0,1215.7 274.0,1215.7 275.0,1215.7 276.0,1215.7 277.0,1215.6 278.0,1215.6 279.0,1215.6 280.0,1215.5 281.0,1215.5 282.0,1215.5 283.0,1215.4 284.0,1215.4 284.9,1215.4 285.9,1215.3 286.9,1215.3 287.9,1215.2 288.9,1215.2 289.9,1215.1 290.9,1215.1 291.9,1215.1 292.9,1215.0 293.9,1214.9 294.9,1214.9 295.9,1214.8 296.9,1214.8 297.9,1214.7 298.8,1214.7 299.8,1214.6 300.8,1214.5 301.8,1214.5 302.8,1214.4 303.8,1214.3 304.8,1214.3 305.8,1214.2 306.8,1214.1 307.8,1214.1 308.8,1214.0 309.8,1213.9 310.8,1213.8 311.8,1213.7 312.7,1213.7 313.7,1213.6 314.7,1213.5 315.7,1213.4 316.7,1213.3 317.7,1213.2 318.7,1213.1 319.7,1213.0 320.7,1212.9 321.7,1212.8 322.7,1212.7 323.7,1212.6 324.7,1212.5 325.7,1212.4 326.7,1212.3 327.7,1212.1 328.6,1212.0 329.6,1211.9 330.6,1211.8 331.6,1211.7 332.6,1211.5 333.6,1211.4 334.6,1211.3 335.6,1211.1 336.6,1211.0 337.6,1210.9 338.6,1210.7 339.6,1210.6 340.6,1210.4 341.6,1210.3 342.6,1210.1 343.6,1210.0 344.6,1209.8 345.6,1209.7 346.5,1209.5 347.5,1209.4 348.5,1209.2 349.5,1209.0 350.5,1208.9 351.5,1208.7 352.5,1208.5 353.5,1208.3 354.5,1208.2 355.5,1208.0 356.5,1207.8 357.5,1207.6 358.5,1207.4 359.5,1207.2 360.4,1207.0 361.4,1206.8 362.4,1206.6 363.4,1206.4 364.4,1206.2 365.4,1206.0 366.4,1205.8 367.4,1205.6 368.4,1205.4 369.3,1205.2 370.3,1205.0 371.3,1204.8 372.3,1204.5 373.3,1204.3 374.3,1204.1 375.3,1203.8 376.2,1203.6 377.2,1203.4 378.2,1203.1 379.2,1202.9 380.2,1202.7 381.2,1202.4 382.1,1202.2 383.1,1201.9 384.1,1201.7 385.1,1201.4 386.0,1201.2 387.0,1200.9 388.0,1200.6 389.0,1200.4 389.9,1200.1 390.9,1199.8 391.9,1199.6 392.9,1199.3 393.8,1199.0 394.8,1198.7 395.8,1198.4 396.7,1198.2 397.7,1197.9 398.7,1197.6 399.6,1197.3 400.6,1197.0 401.6,1196.7 402.5,1196.4 403.5,1196.1 404.5,1195.8 405.4,1195.5 406.4,1195.2 407.3,1194.8 408.3,1194.5 409.2,1194.2 410.2,1193.9 411.1,1193.6 412.1,1193.2 413.0,1192.9 414.0,1192.6 414.9,1192.2 415.9,1191.9 416.8,1191.6 417.8,1191.2 418.7,1190.9 419.7,1190.5 420.6,1190.2 421.5,1189.8 422.5,1189.5 423.4,1189.1 424.4,1188.7 425.3,1188.4 426.2,1188.0 427.2,1187.6 428.1,1187.3 429.0,1186.9 429.9,1186.5 430.9,1186.1 431.8,1185.8 432.7,1185.4 433.6,1185.0 434.5,1184.6 435.5,1184.2 436.4,1183.8 437.3,1183.4 438.2,1183.0 439.1,1182.6 440.0,1182.2 440.9,1181.8 441.8,1181.4 442.8,1180.9 443.7,1180.5 444.6,1180.1 445.5,1179.7 446.4,1179.3 447.3,1178.8 448.1,1178.4 449.0,1178.0 449.9,1177.5 450.8,1177.1 451.7,1176.6 452.6,1176.2 453.5,1175.8 454.4,1175.3 455.2,1174.8 456.1,1174.4 457.0,1173.9 457.9,1173.5 458.7,1173.0 459.6,1172.5 460.5,1172.1 461.4,1171.6 462.2,1171.1 463.1,1170.6 464.0,1170.2 464.8,1169.7 465.7,1169.2 466.5,1168.7 467.4,1168.2 468.2,1167.7 469.1,1167.2 470.0,1166.7 470.8,1166.2 471.7,1165.7 472.5,1165.2 473.3,1164.7 474.2,1164.2 475.0,1163.7 475.9,1163.2 476.7,1162.7 477.5,1162.1 478.4,1161.6 479.2,1161.1 480.0,1160.6 480.9,1160.0 481.7,1159.5 482.5,1159.0 483.4,1158.4 484.2,1157.9 485.0,1157.4 485.8,1156.8 486.7,1156.3 487.5,1155.7 488.3,1155.2 489.1,1154.6 489.9,1154.1 490.7,1153.5 491.5,1152.9 492.3,1152.4 493.2,1151.8 494.0,1151.2 494.8,1150.7 495.6,1150.1 496.4,1149.5 497.2,1149.0 498.0,1148.4 498.8,1147.8 499.6,1147.2 500.3,1146.6 501.1,1146.0 501.9,1145.5 502.7,1144.9 503.5,1144.3 504.3,1143.7 505.1,1143.1 505.9,1142.5 506.6,1141.9 507.4,1141.3 508.2,1140.7 509.0,1140.1 509.7,1139.5 510.5,1138.8 511.3,1138.2 512.1,1137.6 512.8,1137.0 513.6,1136.4 514.4,1135.7 515.1,1135.1 515.9,1134.5 516.7,1133.9 517.4,1133.2 518.2,1132.6 518.9,1132.0 519.7,1131.3 520.4,1130.7 521.2,1130.1 522.0,1129.4 522.7,1128.8 523.5,1128.1 524.2,1127.5 524.9,1126.8 525.7,1126.2 526.4,1125.5 527.2,1124.9 527.9,1124.2 528.7,1123.6 529.4,1122.9 530.1,1122.2 530.9,1121.6 531.6,1120.9 532.3,1120.2 533.1,1119.6 533.8,1118.9 534.5,1118.2 535.3,1117.5 536.0,1116.9 536.7,1116.2 537.4,1115.5 538.2,1114.8 538.9,1114.1 539.6,1113.5 540.3,1112.8 541.0,1112.1 541.7,1111.4 542.5,1110.7 543.2,1110.0 543.9,1109.3 544.6,1108.6 545.3,1107.9 546.0,1107.2 546.7,1106.5 547.4,1105.8 548.1,1105.1 548.8,1104.4 549.5,1103.7 550.2,1103.0 550.9,1102.3 551.6,1101.6 552.3,1100.9 553.0,1100.1 553.7,1099.4 554.4,1098.7 555.1,1098.0 555.8,1097.3 556.5,1096.5 557.2,1095.8 557.9,1095.1 558.5,1094.4 559.2,1093.6 559.9,1092.9 560.6,1092.2 561.3,1091.4 561.9,1090.7 562.6,1090.0 563.3,1089.2 564.0,1088.5 564.7,1087.8 565.3,1087.0 566.0,1086.3 566.7,1085.5 567.3,1084.8 568.0,1084.0 568.7,1083.3 569.3,1082.5 570.0,1081.8 570.7,1081.0 571.3,1080.3 572.0,1079.5 572.7,1078.8 573.3,1078.0 574.0,1077.3 574.6,1076.5 575.3,1075.7 575.9,1075.0 576.6,1074.2 577.3,1073.5 577.9,1072.7 578.6,1071.9 579.2,1071.2 579.9,1070.4 580.5,1069.6 581.1,1068.8 581.8,1068.1 582.4,1067.3 583.1,1066.5 583.7,1065.8 584.4,1065.0 585.0,1064.2 585.6,1063.4 586.3,1062.6 586.9,1061.9 587.6,1061.1 588.2,1060.3 588.8,1059.5 589.5,1058.7 590.1,1057.9 590.7,1057.2 591.3,1056.4 592.0,1055.6 592.6,1054.8 593.2,1054.0 593.9,1053.2 594.5,1052.4 595.1,1051.6 595.7,1050.8 596.3,1050.0 597.0,1049.2 597.6,1048.4 598.2,1047.6 598.8,1046.8 599.4,1046.0 600.1,1045.2 600.7,1044.4 601.3,1043.6 601.9,1042.8 602.5,1042.0 603.1,1041.2 603.7,1040.4 604.3,1039.6 604.9,1038.8 605.5,1038.0 606.2,1037.2 606.8,1036.4 607.4,1035.6 608.0,1034.8 608.6,1034.0 609.2,1033.1 609.8,1032.3 610.4,1031.5 611.0,1030.7 611.6,1029.9 612.2,1029.1 612.8,1028.3 613.4,1027.4 614.0,1026.6 614.5,1025.8 615.1,1025.0 615.7,1024.2 616.3,1023.4 616.9,1022.5 617.5,1021.7 618.1,1020.9 618.7,1020.1 619.3,1019.2 619.9,1018.4 620.4,1017.6 621.0,1016.8 621.6,1016.0 622.2,1015.1 622.8,1014.3 623.3,1013.5 623.9,1012.6 624.5,1011.8 625.1,1011.0 625.7,1010.2 626.2,1009.3 626.8,1008.5 627.4,1007.7 628.0,1006.9 628.5,1006.0 629.1,1005.2 629.7,1004.4 630.3,1003.5 630.8,1002.7 631.4,1001.9 632.0,1001.0 632.5,1000.2 633.1,999.4 633.7,998.5 634.2,997.7 634.8,996.9 635.4,996.0 635.9,995.2 636.5,994.4 637.1,993.5 637.6,992.7 638.2,991.9 638.7,991.0 639.3,990.2 639.9,989.4 640.4,988.5 641.0,987.7 641.5,986.8 642.1,986.0 642.6,985.2 643.2,984.3 643.8,983.5 644.3,982.7 644.9,981.8 645.4,981.0 646.0,980.1 646.5,979.3 647.1,978.5 647.6,977.6 648.2,976.8 648.7,976.0 649.3,975.1 649.8,974.3 650.3,973.4 650.9,972.6 651.4,971.8 652.0,970.9 652.5,970.1 653.1,969.3 653.6,968.4 654.2,967.6 654.7,966.7 655.2,965.9 655.8,965.1 656.3,964.2 656.9,963.4 657.4,962.5 657.9,961.7 658.5,960.9 659.0,960.0 659.5,959.2 660.1,958.4 660.6,957.5 661.1,956.7 661.7,955.8 662.2,955.0 662.8,954.2 663.3,953.3 663.8,952.5 664.3,951.7 664.9,950.8 665.4,950.0 665.9,949.1 666.5,948.3 667.0,947.5 667.5,946.6 668.1,945.8 668.6,944.9 669.1,944.1 669.6,943.3 670.2,942.4 670.7,941.6 671.2,940.8 671.8,939.9 672.3,939.1 672.8,938.2 673.3,937.4 673.9,936.6 674.4,935.7 674.9,934.9 675.4,934.0 676.0,933.2 676.5,932.4 677.0,931.5 677.5,930.7 678.0,929.9 678.6,929.0 679.1,928.2 679.6,927.3 680.1,926.5 680.7,925.7 681.2,924.8 681.7,924.0 682.2,923.1 682.7,922.3 683.3,921.5 683.8,920.6 684.3,919.8 684.8,918.9 685.3,918.1 685.9,917.3 686.4,916.4 686.9,915.6 687.4,914.7 687.9,913.9 688.5,913.1 689.0,912.2 689.5,911.4 690.0,910.5 690.5,909.7 691.0,908.9 691.6,908.0 692.1,907.2 692.6,906.4 693.1,905.5 693.6,904.7 694.2,903.8 694.7,903.0 695.2,902.2 695.7,901.3 696.2,900.5 696.8,899.6 697.3,898.8 697.8,897.9 698.3,897.1 698.8,896.3 699.3,895.4 699.9,894.6 700.4,893.7 700.9,892.9 701.4,892.1 701.9,891.2 702.5,890.4 703.0,889.5 703.5,888.7 704.0,887.9 704.5,887.0 705.0,886.2 705.6,885.3 706.1,884.5 706.6,883.7 707.1,882.8 707.6,882.0 708.2,881.1 708.7,880.3 709.2,879.4 709.7,878.6 710.2,877.8 710.8,876.9 711.3,876.1 711.8,875.2 712.3,874.4 712.9,873.5 713.4,872.7 713.9,871.9 714.4,871.0 714.9,870.2 715.5,869.3 716.0,868.5 716.5,867.6 717.0,866.8 717.6,866.0 718.1,865.1 718.6,864.3 719.1,863.4 719.6,862.6 720.2,861.7 720.7,860.9 721.2,860.0 721.7,859.2 722.3,858.3 722.8,857.5 723.3,856.6 723.8,855.8 724.4,855.0 724.9,854.1 725.4,853.3 725.9,852.4 726.5,851.6 727.0,850.7 727.5,849.9 728.0,849.0 728.5,848.2 729.1,847.3 729.6,846.5 730.1,845.6 730.6,844.7 731.2,843.9 731.7,843.0 732.2,842.2 732.7,841.3 733.3,840.5 733.8,839.6 734.3,838.8 734.8,837.9 735.3,837.1 735.9,836.2 736.4,835.3 736.9,834.5 737.4,833.6 738.0,832.8 738.5,831.9 739.0,831.0 739.5,830.2 740.0,829.3 740.6,828.4 741.1,827.6 741.6,826.7 742.1,825.9 742.6,825.0 743.2,824.1 743.7,823.3 744.2,822.4 744.7,821.5 745.2,820.6 745.7,819.8 746.3,818.9 746.8,818.0 747.3,817.2 747.8,816.3 748.3,815.4 748.9,814.5 749.4,813.7 749.9,812.8 750.4,811.9 750.9,811.0 751.4,810.2 751.9,809.3 752.5,808.4 753.0,807.5 753.5,806.6 754.0,805.8 754.5,804.9 755.0,804.0 755.5,803.1 756.1,802.2 756.6,801.3 757.1,800.5 757.6,799.6 758.1,798.7 758.6,797.8 759.1,796.9 759.6,796.0 760.2,795.1 760.7,794.3 761.2,793.4 761.7,792.5 762.2,791.6 762.8,790.7 763.3,789.8 763.8,789.0 764.3,788.1 764.8,787.2 765.4,786.3 765.9,785.5 766.4,784.6 766.9,783.7 767.5,782.8 768.0,782.0 768.5,781.1 769.0,780.2 769.6,779.4 770.1,778.5 770.6,777.6 771.2,776.8 771.7,775.9 772.3,775.0 772.8,774.2 773.3,773.3 773.9,772.5 774.4,771.6 775.0,770.8 775.5,769.9 776.1,769.1 776.6,768.3 777.2,767.4 777.8,766.6 778.3,765.8 778.9,764.9 779.5,764.1 780.0,763.3 780.6,762.5 781.2,761.6 781.7,760.8 782.3,760.0 782.9,759.2 783.5,758.4 784.1,757.6 784.7,756.8 785.3,756.0 785.9,755.2 786.5,754.4 787.1,753.7 787.7,752.9 788.3,752.1 788.9,751.3 789.5,750.6 790.1,749.8 790.7,749.1 791.4,748.3 792.0,747.6 792.6,746.8 793.3,746.1 793.9,745.3 794.5,744.6 795.2,743.9 795.8,743.2 796.5,742.5 797.1,741.7 797.8,741.0 798.5,740.3 799.1,739.6 799.8,739.0 800.5,738.3 801.2,737.6 801.9,736.9 802.5,736.3 803.2,735.6 803.9,734.9 804.6,734.3 805.3,733.6 806.1,733.0 806.8,732.4 807.5,731.8 808.2,731.1 809.0,730.5 809.7,729.9 810.4,729.3 811.2,728.7 811.9,728.1 812.7,727.6 813.4,727.0 814.2,726.4 815.0,725.9 815.8,725.3 816.5,724.8 817.3,724.2 818.1,723.7 818.9,723.2 819.7,722.6 820.5,722.1 821.3,721.6 822.2,721.1 823.0,720.7 823.8,720.2 824.7,719.7 825.5,719.2 826.3,718.8 827.2,718.3 828.1,717.9 828.9,717.5 829.8,717.0 830.7,716.6 831.6,716.2 832.5,715.8 833.4,715.4 834.3,715.1 835.2,714.7 836.1,714.3 837.0,714.0 838.0,713.6 838.9,713.3 839.8,713.0 840.8,712.6 841.7,712.3 842.7,712.0 843.7,711.7 844.7,711.5 845.6,711.2 846.6,710.9 847.6,710.7 848.6,710.4 849.7,710.2 850.7,710.0 851.7,709.8 852.7,709.5 853.8,709.4 854.8,709.2 855.9,709.0 857.0,708.8 858.0,708.7 859.1,708.5 860.2,708.4 861.3,708.3" fill="none" stroke="#4862d4" stroke-width="2.65" stroke-dasharray="16.96 4.24 2.65 4.24" stroke-linejoin="round" stroke-linecap="butt"/>
</g>
<rect x="105.00" y="683.30" width="792.50" height="558.80" fill="none" stroke="#3c3c3c" stroke-width="2.1"/>
<line x1="141.05" y1="1242.10" x2="141.05" y2="1248.10" stroke="#3c3c3c" stroke-width="1.8"/>
<line x1="381.20" y1="1242.10" x2="381.20" y2="1248.10" stroke="#3c3c3c" stroke-width="1.8"/>
<line x1="621.35" y1="1242.10" x2="621.35" y2="1248.10" stroke="#3c3c3c" stroke-width="1.8"/>
<line x1="861.50" y1="1242.10" x2="861.50" y2="1248.10" stroke="#3c3c3c" stroke-width="1.8"/>
<line x1="99.00" y1="730.20" x2="105.00" y2="730.20" stroke="#3c3c3c" stroke-width="1.8"/>
<line x1="99.00" y1="850.15" x2="105.00" y2="850.15" stroke="#3c3c3c" stroke-width="1.8"/>
<line x1="99.00" y1="970.10" x2="105.00" y2="970.10" stroke="#3c3c3c" stroke-width="1.8"/>
<line x1="99.00" y1="1090.05" x2="105.00" y2="1090.05" stroke="#3c3c3c" stroke-width="1.8"/>
<line x1="99.00" y1="1210.00" x2="105.00" y2="1210.00" stroke="#3c3c3c" stroke-width="1.8"/>
<line x1="142.20" y1="1910.90" x2="142.20" y2="1352.60" stroke="#cbcbcb" stroke-width="1.5" stroke-dasharray="8 3 1.7 3"/>
<line x1="382.29" y1="1910.90" x2="382.29" y2="1352.60" stroke="#cbcbcb" stroke-width="1.5" stroke-dasharray="8 3 1.7 3"/>
<line x1="622.38" y1="1910.90" x2="622.38" y2="1352.60" stroke="#cbcbcb" stroke-width="1.5" stroke-dasharray="8 3 1.7 3"/>
<line x1="862.47" y1="1910.90" x2="862.47" y2="1352.60" stroke="#cbcbcb" stroke-width="1.5" stroke-dasharray="8 3 1.7 3"/>
<line x1="106.20" y1="1411.62" x2="898.50" y2="1411.62" stroke="#cbcbcb" stroke-width="1.5" stroke-dasharray="8 3 1.7 3"/>
<line x1="106.20" y1="1542.60" x2="898.50" y2="1542.60" stroke="#cbcbcb" stroke-width="1.5" stroke-dasharray="8 3 1.7 3"/>
<line x1="106.20" y1="1673.58" x2="898.50" y2="1673.58" stroke="#cbcbcb" stroke-width="1.5" stroke-dasharray="8 3 1.7 3"/>
<line x1="106.20" y1="1804.56" x2="898.50" y2="1804.56" stroke="#cbcbcb" stroke-width="1.5" stroke-dasharray="8 3 1.7 3"/>
<g clip-path="url(#clip2)">
<polyline points="142.2,1542.4 143.2,1542.4 144.2,1542.4 145.1,1542.4 146.1,1542.4 147.1,1542.4 148.1,1542.4 149.1,1542.4 150.1,1542.4 151.0,1542.4 152.0,1542.4 153.0,1542.4 154.0,1542.4 155.0,1542.4 156.0,1542.4 157.0,1542.4 158.0,1542.4 159.0,1542.4 159.9,1542.4 160.9,1542.4 161.9,1542.4 162.9,1542.4 163.9,1542.3 164.9,1542.3 165.9,1542.3 166.9,1542.3 167.9,1542.3 168.9,1542.3 169.9,1542.3 170.9,1542.3 171.9,1542.3 172.9,1542.3 173.9,1542.2 174.9,1542.2 175.9,1542.2 176.9,1542.2 177.9,1542.2 178.9,1542.2 179.9,1542.1 180.9,1542.1 181.9,1542.1 182.9,1542.1 183.9,1542.0 184.9,1542.0 185.9,1542.0 186.9,1542.0 187.9,1541.9 188.9,1541.9 189.9,1541.9 190.9,1541.8 191.9,1541.8 193.0,1541.8 194.0,1541.7 195.0,1541.7 196.0,1541.7 197.0,1541.6 198.0,1541.6 199.0,1541.5 200.0,1541.5 201.0,1541.4 202.0,1541.4 203.0,1541.3 204.0,1541.3 205.0,1541.2 206.0,1541.2 207.0,1541.1 208.0,1541.1 209.0,1541.0 210.1,1541.0 211.1,1540.9 212.1,1540.8 213.1,1540.8 214.1,1540.7 215.1,1540.6 216.1,1540.5 217.1,1540.5 218.1,1540.4 219.1,1540.3 220.1,1540.2 221.1,1540.1 222.1,1540.1 223.1,1540.0 224.1,1539.9 225.1,1539.8 226.1,1539.7 227.1,1539.6 228.1,1539.5 229.1,1539.4 230.1,1539.3 231.1,1539.2 232.1,1539.1 233.1,1539.0 234.1,1538.9 235.1,1538.8 236.1,1538.6 237.1,1538.5 238.1,1538.4 239.1,1538.3 240.1,1538.1 241.1,1538.0 242.1,1537.9 243.1,1537.7 244.1,1537.6 245.1,1537.5 246.1,1537.3 247.1,1537.2 248.1,1537.0 249.1,1536.9 250.1,1536.7 251.0,1536.6 252.0,1536.4 253.0,1536.2 254.0,1536.1 255.0,1535.9 256.0,1535.7 257.0,1535.6 258.0,1535.4 258.9,1535.2 259.9,1535.0 260.9,1534.8 261.9,1534.7 262.9,1534.5 263.9,1534.3 264.8,1534.1 265.8,1533.9 266.8,1533.7 267.8,1533.4 268.7,1533.2 269.7,1533.0 270.7,1532.8 271.7,1532.6 272.6,1532.4 273.6,1532.1 274.6,1531.9 275.5,1531.7 276.5,1531.4 277.5,1531.2 278.4,1530.9 279.4,1530.7 280.4,1530.4 281.3,1530.2 282.3,1529.9 283.3,1529.6 284.2,1529.4 285.2,1529.1 286.1,1528.8 287.1,1528.6 288.0,1528.3 289.0,1528.0 289.9,1527.7 290.9,1527.4 291.8,1527.1 292.8,1526.8 293.7,1526.5 294.7,1526.2 295.6,1525.9 296.6,1525.6 297.5,1525.3 298.5,1524.9 299.4,1524.6 300.3,1524.3 301.3,1524.0 302.2,1523.6 303.1,1523.3 304.1,1523.0 305.0,1522.6 305.9,1522.3 306.9,1521.9 307.8,1521.6 308.7,1521.2 309.7,1520.8 310.6,1520.5 311.5,1520.1 312.4,1519.7 313.4,1519.4 314.3,1519.0 315.2,1518.6 316.1,1518.2 317.0,1517.8 317.9,1517.5 318.9,1517.1 319.8,1516.7 320.7,1516.3 321.6,1515.9 322.5,1515.5 323.4,1515.1 324.3,1514.6 325.2,1514.2 326.1,1513.8 327.0,1513.4 327.9,1513.0 328.8,1512.5 329.7,1512.1 330.6,1511.7 331.5,1511.3 332.4,1510.8 333.3,1510.4 334.2,1509.9 335.1,1509.5 336.0,1509.0 336.9,1508.6 337.7,1508.1 338.6,1507.7 339.5,1507.2 340.4,1506.7 341.3,1506.3 342.1,1505.8 343.0,1505.3 343.9,1504.9 344.8,1504.4 345.6,1503.9 346.5,1503.4 347.4,1502.9 348.3,1502.4 349.1,1501.9 350.0,1501.4 350.8,1501.0 351.7,1500.5 352.6,1499.9 353.4,1499.4 354.3,1498.9 355.1,1498.4 356.0,1497.9 356.9,1497.4 357.7,1496.9 358.6,1496.4 359.4,1495.8 360.2,1495.3 361.1,1494.8 361.9,1494.2 362.8,1493.7 363.6,1493.2 364.5,1492.6 365.3,1492.1 366.1,1491.5 367.0,1491.0 367.8,1490.4 368.6,1489.9 369.5,1489.3 370.3,1488.8 371.1,1488.2 371.9,1487.7 372.8,1487.1 373.6,1486.5 374.4,1486.0 375.2,1485.4 376.0,1484.8 376.9,1484.2 377.7,1483.7 378.5,1483.1 379.3,1482.5 380.1,1481.9 380.9,1481.3 381.7,1480.7 382.5,1480.1 383.3,1479.5 384.1,1478.9 384.9,1478.3 385.7,1477.7 386.5,1477.1 387.3,1476.5 388.1,1475.9 388.9,1475.3 389.7,1474.7 390.5,1474.1 391.3,1473.5 392.0,1472.9 392.8,1472.2 393.6,1471.6 394.4,1471.0 395.2,1470.4 396.0,1469.8 396.8,1469.1 397.5,1468.5 398.3,1467.9 399.1,1467.3 399.9,1466.6 400.7,1466.0 401.4,1465.4 402.2,1464.8 403.0,1464.1 403.8,1463.5 404.5,1462.9 405.3,1462.2 406.1,1461.6 406.9,1461.0 407.6,1460.3 408.4,1459.7 409.2,1459.1 410.0,1458.4 410.7,1457.8 411.5,1457.2 412.3,1456.5 413.1,1455.9 413.8,1455.2 414.6,1454.6 415.4,1454.0 416.1,1453.3 416.9,1452.7 417.7,1452.1 418.5,1451.4 419.3,1450.8 420.0,1450.2 420.8,1449.5 421.6,1448.9 422.4,1448.3 423.1,1447.7 423.9,1447.0 424.7,1446.4 425.5,1445.8 426.3,1445.1 427.0,1444.5 427.8,1443.9 428.6,1443.3 429.4,1442.6 430.2,1442.0 431.0,1441.4 431.8,1440.8 432.5,1440.2 433.3,1439.6 434.1,1438.9 434.9,1438.3 435.7,1437.7 436.5,1437.1 437.3,1436.5 438.1,1435.9 438.9,1435.3 439.7,1434.7 440.5,1434.1 441.3,1433.5 442.1,1432.9 442.9,1432.3 443.7,1431.7 444.5,1431.1 445.3,1430.5 446.1,1429.9 446.9,1429.3 447.7,1428.7 448.5,1428.1 449.4,1427.6 450.2,1427.0 451.0,1426.4 451.8,1425.8 452.6,1425.2 453.4,1424.7 454.2,1424.1 455.1,1423.5 455.9,1422.9 456.7,1422.4 457.5,1421.8 458.4,1421.2 459.2,1420.7 460.0,1420.1 460.8,1419.5 461.7,1419.0 462.5,1418.4 463.3,1417.9 464.2,1417.3 465.0,1416.8 465.8,1416.2 466.7,1415.7 467.5,1415.1 468.3,1414.6 469.2,1414.0 470.0,1413.5 470.9,1413.0 471.7,1412.4 472.6,1411.9 473.4,1411.4 474.3,1410.8 475.1,1410.3 476.0,1409.8 476.8,1409.3 477.7,1408.7 478.5,1408.2 479.4,1407.7 480.2,1407.2 481.1,1406.7 482.0,1406.2 482.8,1405.7 483.7,1405.2 484.5,1404.7 485.4,1404.2 486.3,1403.7 487.2,1403.2 488.0,1402.7 488.9,1402.2 489.8,1401.7 490.7,1401.3 491.5,1400.8 492.4,1400.4 493.3,1399.9 494.2,1399.5 495.1,1399.0 496.0,1398.6 496.9,1398.2 497.8,1397.7 498.7,1397.3 499.6,1396.9 500.5,1396.5 501.4,1396.2 502.3,1395.8 503.2,1395.4 504.1,1395.1 505.0,1394.7 505.9,1394.4 506.9,1394.0 507.8,1393.7 508.7,1393.4 509.7,1393.1 510.6,1392.8 511.5,1392.5 512.5,1392.3 513.4,1392.0 514.4,1391.8 515.3,1391.6 516.3,1391.4 517.2,1391.2 518.2,1391.0 519.2,1390.8 520.1,1390.6 521.1,1390.5 522.1,1390.4 523.1,1390.2 524.1,1390.1 525.1,1390.0 526.1,1390.0 527.1,1389.9 528.1,1389.9 529.1,1389.9 530.1,1389.8 531.1,1389.9 532.1,1389.9 533.1,1389.9 534.2,1390.0 535.2,1390.1 536.2,1390.1 537.3,1390.3 538.3,1390.4 539.3,1390.5 540.3,1390.7 541.4,1390.8 542.4,1391.0 543.4,1391.2 544.4,1391.5 545.5,1391.7 546.5,1391.9 547.5,1392.2 548.5,1392.5 549.5,1392.8 550.5,1393.1 551.5,1393.4 552.4,1393.8 553.4,1394.1 554.4,1394.5 555.3,1394.9 556.3,1395.3 557.2,1395.7 558.1,1396.2 559.0,1396.6 559.9,1397.1 560.8,1397.5 561.7,1398.0 562.6,1398.5 563.4,1399.1 564.3,1399.6 565.1,1400.2 565.9,1400.7 566.7,1401.3 567.5,1401.9 568.3,1402.5 569.1,1403.1 569.9,1403.7 570.6,1404.3 571.4,1405.0 572.1,1405.6 572.9,1406.3 573.6,1406.9 574.3,1407.6 575.0,1408.3 575.7,1409.0 576.4,1409.7 577.1,1410.4 577.8,1411.1 578.4,1411.8 579.1,1412.6 579.8,1413.3 580.4,1414.0 581.1,1414.8 581.7,1415.5 582.4,1416.3 583.0,1417.1 583.7,1417.8 584.3,1418.6 584.9,1419.4 585.5,1420.1 586.2,1420.9 586.8,1421.7 587.4,1422.5 588.0,1423.2 588.6,1424.0 589.2,1424.8 589.8,1425.6 590.4,1426.4 591.0,1427.2 591.6,1428.0 592.2,1428.7 592.8,1429.5 593.4,1430.3 594.0,1431.1 594.6,1431.9 595.1,1432.7 595.7,1433.6 596.3,1434.4 596.9,1435.2 597.4,1436.0 598.0,1436.8 598.6,1437.6 599.1,1438.4 599.7,1439.2 600.2,1440.1 600.8,1440.9 601.3,1441.7 601.9,1442.5 602.4,1443.4 603.0,1444.2 603.5,1445.0 604.1,1445.9 604.6,1446.7 605.1,1447.5 605.7,1448.4 606.2,1449.2 606.7,1450.0 607.3,1450.9 607.8,1451.7 608.3,1452.6 608.8,1453.4 609.3,1454.3 609.8,1455.1 610.4,1456.0 610.9,1456.8 611.4,1457.7 611.9,1458.5 612.4,1459.4 612.9,1460.2 613.4,1461.1 613.9,1462.0 614.4,1462.8 614.9,1463.7 615.4,1464.6 615.8,1465.4 616.3,1466.3 616.8,1467.2 617.3,1468.0 617.8,1468.9 618.3,1469.8 618.7,1470.7 619.2,1471.5 619.7,1472.4 620.1,1473.3 620.6,1474.2 621.1,1475.1 621.5,1475.9 622.0,1476.8 622.5,1477.7 622.9,1478.6 623.4,1479.5 623.8,1480.4 624.3,1481.3 624.7,1482.2 625.2,1483.0 625.6,1483.9 626.1,1484.8 626.5,1485.7 627.0,1486.6 627.4,1487.5 627.8,1488.4 628.3,1489.3 628.7,1490.2 629.1,1491.1 629.6,1492.0 630.0,1492.9 630.4,1493.8 630.9,1494.7 631.3,1495.7 631.7,1496.6 632.1,1497.5 632.5,1498.4 633.0,1499.3 633.4,1500.2 633.8,1501.1 634.2,1502.0 634.6,1502.9 635.0,1503.9 635.4,1504.8 635.8,1505.7 636.3,1506.6 636.7,1507.5 637.1,1508.4 637.5,1509.4 637.9,1510.3 638.3,1511.2 638.7,1512.1 639.1,1513.0 639.5,1514.0 639.8,1514.9 640.2,1515.8 640.6,1516.7 641.0,1517.7 641.4,1518.6 641.8,1519.5 642.2,1520.5 642.6,1521.4 643.0,1522.3 643.3,1523.2 643.7,1524.2 644.1,1525.1 644.5,1526.0 644.9,1527.0 645.2,1527.9 645.6,1528.8 646.0,1529.8 646.4,1530.7 646.7,1531.6 647.1,1532.6 647.5,1533.5 647.8,1534.4 648.2,1535.4 648.6,1536.3 648.9,1537.2 649.3,1538.2 649.7,1539.1 650.0,1540.1 650.4,1541.0 650.8,1541.9 651.1,1542.9 651.5,1543.8 651.8,1544.8 652.2,1545.7 652.5,1546.6 652.9,1547.6 653.3,1548.5 653.6,1549.5 654.0,1550.4 654.3,1551.3 654.7,1552.3 655.0,1553.2 655.4,1554.2 655.7,1555.1 656.1,1556.0 656.4,1557.0 656.8,1557.9 657.1,1558.9 657.5,1559.8 657.8,1560.8 658.2,1561.7 658.5,1562.6 658.8,1563.6 659.2,1564.5 659.5,1565.5 659.9,1566.4 660.2,1567.4 660.6,1568.3 660.9,1569.2 661.2,1570.2 661.6,1571.1 661.9,1572.1 662.3,1573.0 662.6,1574.0 662.9,1574.9 663.3,1575.8 663.6,1576.8 663.9,1577.7 664.3,1578.7 664.6,1579.6 664.9,1580.5 665.3,1581.5 665.6,1582.4 665.9,1583.4 666.3,1584.3 666.6,1585.3 666.9,1586.2 667.3,1587.1 667.6,1588.1 667.9,1589.0 668.3,1590.0 668.6,1590.9 668.9,1591.8 669.3,1592.8 669.6,1593.7 669.9,1594.7 670.3,1595.6 670.6,1596.5 670.9,1597.5 671.2,1598.4 671.6,1599.4 671.9,1600.3 672.2,1601.2 672.6,1602.2 672.9,1603.1 673.2,1604.1 673.5,1605.0 673.9,1605.9 674.2,1606.9 674.5,1607.8 674.8,1608.8 675.2,1609.7 675.5,1610.6 675.8,1611.6 676.2,1612.5 676.5,1613.5 676.8,1614.4 677.1,1615.3 677.5,1616.3 677.8,1617.2 678.1,1618.2 678.4,1619.1 678.8,1620.0 679.1,1621.0 679.4,1621.9 679.7,1622.9 680.1,1623.8 680.4,1624.7 680.7,1625.7 681.0,1626.6 681.4,1627.6 681.7,1628.5 682.0,1629.4 682.3,1630.4 682.7,1631.3 683.0,1632.2 683.3,1633.2 683.7,1634.1 684.0,1635.1 684.3,1636.0 684.6,1636.9 685.0,1637.9 685.3,1638.8 685.6,1639.8 685.9,1640.7 686.3,1641.6 686.6,1642.6 686.9,1643.5 687.3,1644.4 687.6,1645.4 687.9,1646.3 688.2,1647.3 688.6,1648.2 688.9,1649.1 689.2,1650.1 689.6,1651.0 689.9,1651.9 690.2,1652.9 690.5,1653.8 690.9,1654.8 691.2,1655.7 691.5,1656.6 691.9,1657.6 692.2,1658.5 692.5,1659.4 692.9,1660.4 693.2,1661.3 693.5,1662.3 693.9,1663.2 694.2,1664.1 694.5,1665.1 694.9,1666.0 695.2,1666.9 695.5,1667.9 695.9,1668.8 696.2,1669.8 696.5,1670.7 696.9,1671.6 697.2,1672.6 697.6,1673.5 697.9,1674.4 698.2,1675.4 698.6,1676.3 698.9,1677.2 699.3,1678.2 699.6,1679.1 699.9,1680.1 700.3,1681.0 700.6,1681.9 701.0,1682.9 701.3,1683.8 701.7,1684.7 702.0,1685.7 702.3,1686.6 702.7,1687.5 703.0,1688.5 703.4,1689.4 703.7,1690.4 704.1,1691.3 704.4,1692.2 704.8,1693.2 705.1,1694.1 705.5,1695.0 705.8,1696.0 706.2,1696.9 706.5,1697.8 706.9,1698.8 707.2,1699.7 707.6,1700.7 708.0,1701.6 708.3,1702.5 708.7,1703.5 709.0,1704.4 709.4,1705.3 709.7,1706.3 710.1,1707.2 710.5,1708.1 710.8,1709.1 711.2,1710.0 711.6,1710.9 711.9,1711.9 712.3,1712.8 712.7,1713.8 713.0,1714.7 713.4,1715.6 713.8,1716.6 714.1,1717.5 714.5,1718.4 714.9,1719.4 715.2,1720.3 715.6,1721.2 716.0,1722.2 716.4,1723.1 716.7,1724.0 717.1,1725.0 717.5,1725.9 717.9,1726.8 718.2,1727.8 718.6,1728.7 719.0,1729.7 719.4,1730.6 719.8,1731.5 720.2,1732.5 720.5,1733.4 720.9,1734.3 721.3,1735.3 721.7,1736.2 722.1,1737.1 722.5,1738.1 722.9,1739.0 723.3,1739.9 723.7,1740.8 724.1,1741.8 724.5,1742.7 724.9,1743.6 725.3,1744.5 725.7,1745.5 726.2,1746.4 726.6,1747.3 727.0,1748.2 727.4,1749.1 727.9,1750.0 728.3,1751.0 728.8,1751.9 729.2,1752.8 729.7,1753.7 730.1,1754.6 730.6,1755.5 731.0,1756.3 731.5,1757.2 732.0,1758.1 732.5,1759.0 733.0,1759.9 733.5,1760.7 734.0,1761.6 734.5,1762.5 735.0,1763.3 735.5,1764.2 736.0,1765.0 736.6,1765.9 737.1,1766.7 737.7,1767.6 738.2,1768.4 738.8,1769.2 739.4,1770.1 739.9,1770.9 740.5,1771.7 741.1,1772.5 741.7,1773.3 742.3,1774.1 742.9,1774.9 743.6,1775.7 744.2,1776.4 744.9,1777.2 745.5,1778.0 746.2,1778.7 746.9,1779.5 747.5,1780.2 748.2,1780.9 748.9,1781.7 749.6,1782.4 750.4,1783.1 751.1,1783.8 751.9,1784.5 752.6,1785.2 753.4,1785.9 754.2,1786.6 754.9,1787.2 755.7,1787.9 756.5,1788.5 757.4,1789.2 758.2,1789.8 759.0,1790.4 759.8,1790.9 760.7,1791.5 761.5,1792.0 762.4,1792.5 763.2,1793.0 764.1,1793.4 764.9,1793.8 765.8,1794.2 766.7,1794.6 767.5,1794.9 768.4,1795.2 769.2,1795.4 770.1,1795.6 770.9,1795.8 771.8,1795.9 772.6,1796.0 773.4,1796.0 774.3,1795.9 775.1,1795.9 775.9,1795.7 776.7,1795.6 777.5,1795.3 778.3,1795.0 779.1,1794.7 779.9,1794.3 780.6,1793.8 781.4,1793.4 782.1,1792.8 782.9,1792.3 783.6,1791.7 784.3,1791.0 785.0,1790.4 785.7,1789.7 786.4,1789.0 787.1,1788.2 787.8,1787.4 788.5,1786.7 789.1,1785.9 789.8,1785.1 790.4,1784.3 791.0,1783.4 791.7,1782.6 792.3,1781.8 792.9,1780.9 793.5,1780.1 794.1,1779.3 794.6,1778.4 795.2,1777.6 795.8,1776.7 796.3,1775.9 796.9,1775.0 797.4,1774.1 798.0,1773.3 798.5,1772.4 799.0,1771.5 799.5,1770.7 800.0,1769.8 800.5,1768.9 801.0,1768.0 801.5,1767.1 801.9,1766.2 802.4,1765.3 802.9,1764.4 803.3,1763.5 803.8,1762.6 804.2,1761.7 804.7,1760.8 805.1,1759.9 805.5,1759.0 805.9,1758.1 806.3,1757.2 806.7,1756.3 807.1,1755.3 807.5,1754.4 807.9,1753.5 808.3,1752.5 808.7,1751.6 809.0,1750.7 809.4,1749.7 809.8,1748.8 810.1,1747.9 810.5,1746.9 810.8,1746.0 811.2,1745.0 811.5,1744.1 811.8,1743.1 812.2,1742.2 812.5,1741.2 812.8,1740.3 813.1,1739.3 813.4,1738.4 813.8,1737.4 814.1,1736.5 814.4,1735.5 814.7,1734.5 814.9,1733.6 815.2,1732.6 815.5,1731.6 815.8,1730.7 816.1,1729.7 816.4,1728.7 816.6,1727.8 816.9,1726.8 817.2,1725.8 817.4,1724.9 817.7,1723.9 818.0,1722.9 818.2,1721.9 818.5,1721.0 818.7,1720.0 819.0,1719.0 819.2,1718.0 819.5,1717.0 819.7,1716.1 820.0,1715.1 820.2,1714.1 820.5,1713.1 820.7,1712.1 820.9,1711.2 821.2,1710.2 821.4,1709.2 821.7,1708.2 821.9,1707.2 822.1,1706.3 822.4,1705.3 822.6,1704.3 822.8,1703.3 823.1,1702.3 823.3,1701.4 823.5,1700.4 823.7,1699.4 824.0,1698.4 824.2,1697.4 824.4,1696.5 824.7,1695.5 824.9,1694.5 825.1,1693.5 825.4,1692.6 825.6,1691.6 825.8,1690.6 826.0,1689.6 826.3,1688.7 826.5,1687.7 826.7,1686.7 826.9,1685.7 827.2,1684.7 827.4,1683.8 827.6,1682.8 827.8,1681.8 828.1,1680.8 828.3,1679.9 828.5,1678.9 828.7,1677.9 829.0,1676.9 829.2,1676.0 829.4,1675.0 829.6,1674.0 829.8,1673.0 830.1,1672.1 830.3,1671.1 830.5,1670.1 830.7,1669.2 831.0,1668.2 831.2,1667.2 831.4,1666.2 831.6,1665.3 831.8,1664.3 832.1,1663.3 832.3,1662.3 832.5,1661.4 832.7,1660.4 832.9,1659.4 833.2,1658.5 833.4,1657.5 833.6,1656.5 833.8,1655.5 834.0,1654.6 834.2,1653.6 834.5,1652.6 834.7,1651.7 834.9,1650.7 835.1,1649.7 835.3,1648.7 835.6,1647.8 835.8,1646.8 836.0,1645.8 836.2,1644.9 836.4,1643.9 836.6,1642.9 836.9,1641.9 837.1,1641.0 837.3,1640.0 837.5,1639.0 837.7,1638.1 837.9,1637.1 838.2,1636.1 838.4,1635.1 838.6,1634.2 838.8,1633.2 839.0,1632.2 839.2,1631.3 839.5,1630.3 839.7,1629.3 839.9,1628.4 840.1,1627.4 840.3,1626.4 840.5,1625.4 840.8,1624.5 841.0,1623.5 841.2,1622.5 841.4,1621.6 841.6,1620.6 841.8,1619.6 842.1,1618.7 842.3,1617.7 842.5,1616.7 842.7,1615.7 842.9,1614.8 843.1,1613.8 843.4,1612.8 843.6,1611.9 843.8,1610.9 844.0,1609.9 844.2,1609.0 844.4,1608.0 844.7,1607.0 844.9,1606.0 845.1,1605.1 845.3,1604.1 845.5,1603.1 845.8,1602.2 846.0,1601.2 846.2,1600.2 846.4,1599.3 846.6,1598.3 846.8,1597.3 847.1,1596.3 847.3,1595.4 847.5,1594.4 847.7,1593.4 847.9,1592.5 848.2,1591.5 848.4,1590.5 848.6,1589.5 848.8,1588.6 849.0,1587.6 849.3,1586.6 849.5,1585.7 849.7,1584.7 849.9,1583.7 850.2,1582.7 850.4,1581.8 850.6,1580.8 850.8,1579.8 851.0,1578.9 851.3,1577.9 851.5,1576.9 851.7,1575.9 851.9,1575.0 852.2,1574.0 852.4,1573.0 852.6,1572.0 852.8,1571.1 853.1,1570.1 853.3,1569.1 853.5,1568.1 853.7,1567.2 854.0,1566.2 854.2,1565.2 854.4,1564.3 854.7,1563.3 854.9,1562.3 855.1,1561.3 855.3,1560.4 855.6,1559.4 855.8,1558.4 856.0,1557.4 856.3,1556.4 856.5,1555.5 856.7,1554.5 857.0,1553.5 857.2,1552.5 857.4,1551.6 857.6,1550.6 857.9,1549.6 858.1,1548.6 858.3,1547.7 858.6,1546.7 858.8,1545.7 859.1,1544.7 859.3,1543.7 859.5,1542.8 859.8,1541.8 860.0,1540.8 860.2,1539.8 860.5,1538.8 860.7,1537.9 861.0,1536.9 861.2,1535.9 861.4,1534.9 861.7,1533.9 861.9,1533.0 862.2,1532.0 862.4,1531.0" fill="none" stroke="#cc1f40" stroke-width="3.0" stroke-linejoin="round" stroke-linecap="butt"/>
<polyline points="142.2,1542.4 143.2,1542.4 144.2,1542.5 145.2,1542.5 146.2,1542.5 147.2,1542.6 148.2,1542.6 149.2,1542.6 150.2,1542.7 151.2,1542.7 152.2,1542.7 153.2,1542.7 154.2,1542.7 155.2,1542.8 156.2,1542.8 157.2,1542.8 158.3,1542.8 159.3,1542.8 160.3,1542.8 161.3,1542.8 162.3,1542.8 163.3,1542.9 164.3,1542.9 165.3,1542.9 166.3,1542.9 167.3,1542.9 168.3,1542.9 169.3,1542.9 170.3,1542.8 171.3,1542.8 172.3,1542.8 173.3,1542.8 174.3,1542.8 175.3,1542.8 176.3,1542.8 177.3,1542.8 178.3,1542.7 179.3,1542.7 180.3,1542.7 181.3,1542.7 182.3,1542.6 183.3,1542.6 184.3,1542.6 185.3,1542.6 186.3,1542.5 187.3,1542.5 188.3,1542.5 189.3,1542.4 190.3,1542.4 191.3,1542.3 192.3,1542.3 193.3,1542.2 194.3,1542.2 195.3,1542.1 196.3,1542.1 197.3,1542.0 198.3,1542.0 199.3,1541.9 200.2,1541.9 201.2,1541.8 202.2,1541.7 203.2,1541.7 204.2,1541.6 205.2,1541.5 206.2,1541.5 207.2,1541.4 208.2,1541.3 209.2,1541.2 210.2,1541.2 211.2,1541.1 212.2,1541.0 213.2,1540.9 214.2,1540.8 215.2,1540.7 216.2,1540.7 217.2,1540.6 218.2,1540.5 219.1,1540.4 220.1,1540.3 221.1,1540.2 222.1,1540.1 223.1,1540.0 224.1,1539.9 225.1,1539.7 226.1,1539.6 227.1,1539.5 228.1,1539.4 229.1,1539.3 230.0,1539.2 231.0,1539.0 232.0,1538.9 233.0,1538.8 234.0,1538.7 235.0,1538.5 236.0,1538.4 237.0,1538.3 237.9,1538.1 238.9,1538.0 239.9,1537.8 240.9,1537.7 241.9,1537.6 242.9,1537.4 243.9,1537.3 244.8,1537.1 245.8,1536.9 246.8,1536.8 247.8,1536.6 248.8,1536.5 249.8,1536.3 250.8,1536.1 251.7,1536.0 252.7,1535.8 253.7,1535.6 254.7,1535.4 255.7,1535.3 256.6,1535.1 257.6,1534.9 258.6,1534.7 259.6,1534.5 260.6,1534.3 261.5,1534.1 262.5,1534.0 263.5,1533.8 264.5,1533.6 265.5,1533.4 266.4,1533.1 267.4,1532.9 268.4,1532.7 269.4,1532.5 270.3,1532.3 271.3,1532.1 272.3,1531.9 273.3,1531.6 274.2,1531.4 275.2,1531.2 276.2,1531.0 277.2,1530.7 278.1,1530.5 279.1,1530.3 280.1,1530.0 281.1,1529.8 282.0,1529.5 283.0,1529.3 284.0,1529.0 284.9,1528.8 285.9,1528.5 286.9,1528.3 287.9,1528.0 288.8,1527.7 289.8,1527.5 290.8,1527.2 291.7,1526.9 292.7,1526.7 293.7,1526.4 294.6,1526.1 295.6,1525.8 296.6,1525.5 297.5,1525.3 298.5,1525.0 299.4,1524.7 300.4,1524.4 301.4,1524.1 302.3,1523.8 303.3,1523.5 304.2,1523.2 305.2,1522.8 306.1,1522.5 307.1,1522.2 308.0,1521.9 309.0,1521.6 309.9,1521.2 310.9,1520.9 311.8,1520.6 312.8,1520.2 313.7,1519.9 314.7,1519.5 315.6,1519.2 316.5,1518.8 317.5,1518.5 318.4,1518.1 319.3,1517.7 320.3,1517.3 321.2,1517.0 322.1,1516.6 323.0,1516.2 324.0,1515.8 324.9,1515.4 325.8,1515.0 326.7,1514.6 327.6,1514.2 328.5,1513.8 329.4,1513.4 330.3,1513.0 331.2,1512.5 332.1,1512.1 333.0,1511.7 333.9,1511.2 334.8,1510.8 335.7,1510.3 336.6,1509.9 337.5,1509.4 338.4,1509.0 339.2,1508.5 340.1,1508.0 341.0,1507.5 341.8,1507.1 342.7,1506.6 343.6,1506.1 344.4,1505.6 345.3,1505.1 346.1,1504.6 347.0,1504.1 347.8,1503.5 348.7,1503.0 349.5,1502.5 350.3,1502.0 351.2,1501.4 352.0,1500.9 352.8,1500.3 353.7,1499.8 354.5,1499.3 355.3,1498.7 356.1,1498.1 357.0,1497.6 357.8,1497.0 358.6,1496.5 359.4,1495.9 360.2,1495.3 361.0,1494.8 361.8,1494.2 362.7,1493.6 363.5,1493.0 364.3,1492.4 365.1,1491.9 365.9,1491.3 366.7,1490.7 367.5,1490.1 368.3,1489.5 369.1,1488.9 369.9,1488.3 370.7,1487.7 371.5,1487.1 372.3,1486.5 373.1,1485.9 373.9,1485.3 374.7,1484.7 375.4,1484.1 376.2,1483.5 377.0,1482.9 377.8,1482.3 378.6,1481.6 379.4,1481.0 380.2,1480.4 381.0,1479.8 381.8,1479.2 382.6,1478.6 383.4,1478.0 384.2,1477.4 385.0,1476.8 385.8,1476.2 386.6,1475.6 387.4,1474.9 388.2,1474.3 389.0,1473.7 389.8,1473.1 390.6,1472.5 391.4,1471.9 392.2,1471.3 393.0,1470.7 393.8,1470.1 394.6,1469.5 395.4,1468.9 396.2,1468.3 397.0,1467.7 397.8,1467.1 398.6,1466.5 399.4,1465.9 400.2,1465.3 401.0,1464.7 401.8,1464.1 402.6,1463.5 403.4,1462.9 404.2,1462.3 405.1,1461.7 405.9,1461.1 406.7,1460.6 407.5,1460.0 408.3,1459.4 409.1,1458.8 409.9,1458.2 410.7,1457.6 411.5,1457.0 412.3,1456.4 413.2,1455.8 414.0,1455.2 414.8,1454.6 415.6,1454.0 416.4,1453.4 417.2,1452.8 418.0,1452.3 418.8,1451.7 419.6,1451.1 420.4,1450.5 421.2,1449.9 422.0,1449.3 422.8,1448.7 423.6,1448.1 424.5,1447.5 425.3,1446.9 426.1,1446.3 426.9,1445.7 427.7,1445.1 428.5,1444.5 429.3,1443.9 430.1,1443.3 430.9,1442.7 431.7,1442.1 432.5,1441.5 433.2,1440.9 434.0,1440.3 434.8,1439.7 435.6,1439.1 436.4,1438.5 437.2,1437.9 438.0,1437.3 438.8,1436.7 439.6,1436.1 440.4,1435.5 441.1,1434.8 441.9,1434.2 442.7,1433.6 443.5,1433.0 444.3,1432.4 445.0,1431.8 445.8,1431.2 446.6,1430.5 447.4,1429.9 448.1,1429.3 448.9,1428.7 449.7,1428.1 450.5,1427.5 451.2,1426.8 452.0,1426.2 452.8,1425.6 453.6,1425.0 454.3,1424.4 455.1,1423.8 455.9,1423.2 456.7,1422.6 457.5,1422.0 458.3,1421.4 459.0,1420.8 459.8,1420.1 460.6,1419.6 461.4,1419.0 462.2,1418.4 463.0,1417.8 463.8,1417.2 464.6,1416.6 465.4,1416.0 466.2,1415.4 467.0,1414.8 467.8,1414.3 468.6,1413.7 469.4,1413.1 470.2,1412.6 471.0,1412.0 471.9,1411.4 472.7,1410.9 473.5,1410.3 474.3,1409.8 475.2,1409.3 476.0,1408.7 476.8,1408.2 477.7,1407.7 478.5,1407.1 479.4,1406.6 480.3,1406.1 481.1,1405.6 482.0,1405.1 482.9,1404.6 483.7,1404.1 484.6,1403.6 485.5,1403.1 486.4,1402.7 487.3,1402.2 488.2,1401.7 489.1,1401.3 490.0,1400.8 491.0,1400.4 491.9,1399.9 492.8,1399.5 493.8,1399.1 494.7,1398.7 495.6,1398.3 496.6,1397.9 497.6,1397.5 498.5,1397.1 499.5,1396.7 500.4,1396.3 501.4,1396.0 502.4,1395.6 503.4,1395.3 504.3,1395.0 505.3,1394.6 506.3,1394.3 507.3,1394.0 508.3,1393.7 509.3,1393.4 510.3,1393.2 511.3,1392.9 512.3,1392.7 513.3,1392.4 514.2,1392.2 515.2,1392.0 516.2,1391.8 517.2,1391.6 518.2,1391.4 519.2,1391.2 520.2,1391.1 521.2,1390.9 522.2,1390.8 523.2,1390.7 524.2,1390.6 525.2,1390.5 526.2,1390.4 527.2,1390.3 528.2,1390.3 529.2,1390.3 530.2,1390.2 531.1,1390.2 532.1,1390.2 533.1,1390.3 534.1,1390.3 535.0,1390.4 536.0,1390.4 537.0,1390.5 537.9,1390.6 538.9,1390.7 539.8,1390.9 540.8,1391.0 541.7,1391.2 542.6,1391.4 543.6,1391.6 544.5,1391.8 545.4,1392.0 546.3,1392.2 547.2,1392.5 548.2,1392.8 549.1,1393.1 550.0,1393.4 550.8,1393.7 551.7,1394.0 552.6,1394.4 553.5,1394.8 554.4,1395.1 555.2,1395.5 556.1,1395.9 557.0,1396.3 557.8,1396.8 558.7,1397.2 559.5,1397.7 560.4,1398.1 561.2,1398.6 562.0,1399.1 562.9,1399.6 563.7,1400.1 564.5,1400.7 565.3,1401.2 566.1,1401.7 566.9,1402.3 567.7,1402.9 568.5,1403.5 569.3,1404.1 570.1,1404.7 570.9,1405.3 571.7,1405.9 572.4,1406.5 573.2,1407.2 574.0,1407.8 574.7,1408.5 575.5,1409.1 576.2,1409.8 577.0,1410.5 577.7,1411.2 578.4,1411.9 579.2,1412.6 579.9,1413.3 580.6,1414.0 581.3,1414.8 582.0,1415.5 582.7,1416.2 583.4,1417.0 584.1,1417.7 584.8,1418.5 585.5,1419.3 586.2,1420.0 586.9,1420.8 587.5,1421.6 588.2,1422.4 588.9,1423.2 589.5,1424.0 590.2,1424.8 590.8,1425.6 591.5,1426.4 592.1,1427.2 592.8,1428.0 593.4,1428.9 594.0,1429.7 594.6,1430.5 595.3,1431.4 595.9,1432.2 596.5,1433.0 597.1,1433.9 597.7,1434.7 598.3,1435.6 598.9,1436.4 599.4,1437.2 600.0,1438.1 600.6,1438.9 601.2,1439.8 601.7,1440.6 602.3,1441.5 602.8,1442.4 603.4,1443.2 603.9,1444.1 604.5,1444.9 605.0,1445.8 605.5,1446.6 606.1,1447.5 606.6,1448.3 607.1,1449.2 607.6,1450.1 608.2,1450.9 608.7,1451.8 609.2,1452.7 609.7,1453.5 610.2,1454.4 610.7,1455.2 611.2,1456.1 611.6,1457.0 612.1,1457.8 612.6,1458.7 613.1,1459.6 613.6,1460.4 614.0,1461.3 614.5,1462.2 615.0,1463.1 615.4,1463.9 615.9,1464.8 616.3,1465.7 616.8,1466.6 617.2,1467.4 617.7,1468.3 618.1,1469.2 618.6,1470.1 619.0,1470.9 619.5,1471.8 619.9,1472.7 620.3,1473.6 620.8,1474.5 621.2,1475.4 621.6,1476.2 622.0,1477.1 622.5,1478.0 622.9,1478.9 623.3,1479.8 623.7,1480.7 624.1,1481.6 624.5,1482.5 625.0,1483.3 625.4,1484.2 625.8,1485.1 626.2,1486.0 626.6,1486.9 627.0,1487.8 627.4,1488.7 627.8,1489.6 628.2,1490.5 628.6,1491.4 629.0,1492.3 629.4,1493.2 629.8,1494.1 630.2,1495.0 630.6,1495.9 631.0,1496.8 631.4,1497.7 631.8,1498.6 632.2,1499.5 632.6,1500.4 633.0,1501.3 633.4,1502.3 633.8,1503.2 634.2,1504.1 634.5,1505.0 634.9,1505.9 635.3,1506.8 635.7,1507.7 636.1,1508.6 636.5,1509.5 636.9,1510.5 637.3,1511.4 637.7,1512.3 638.1,1513.2 638.5,1514.1 638.9,1515.1 639.3,1516.0 639.7,1516.9 640.1,1517.8 640.4,1518.7 640.8,1519.7 641.2,1520.6 641.6,1521.5 642.0,1522.4 642.4,1523.4 642.8,1524.3 643.2,1525.2 643.6,1526.1 644.0,1527.1 644.4,1528.0 644.7,1528.9 645.1,1529.9 645.5,1530.8 645.9,1531.7 646.3,1532.7 646.7,1533.6 647.1,1534.5 647.5,1535.5 647.9,1536.4 648.2,1537.3 648.6,1538.3 649.0,1539.2 649.4,1540.1 649.8,1541.1 650.2,1542.0 650.6,1542.9 650.9,1543.9 651.3,1544.8 651.7,1545.7 652.1,1546.7 652.5,1547.6 652.8,1548.6 653.2,1549.5 653.6,1550.4 654.0,1551.4 654.4,1552.3 654.7,1553.2 655.1,1554.2 655.5,1555.1 655.9,1556.1 656.2,1557.0 656.6,1558.0 657.0,1558.9 657.4,1559.8 657.7,1560.8 658.1,1561.7 658.5,1562.7 658.9,1563.6 659.2,1564.5 659.6,1565.5 660.0,1566.4 660.3,1567.4 660.7,1568.3 661.1,1569.3 661.4,1570.2 661.8,1571.1 662.2,1572.1 662.5,1573.0 662.9,1574.0 663.2,1574.9 663.6,1575.9 664.0,1576.8 664.3,1577.7 664.7,1578.7 665.0,1579.6 665.4,1580.6 665.7,1581.5 666.1,1582.5 666.4,1583.4 666.8,1584.3 667.1,1585.3 667.5,1586.2 667.8,1587.2 668.2,1588.1 668.5,1589.0 668.9,1590.0 669.2,1590.9 669.6,1591.9 669.9,1592.8 670.2,1593.7 670.6,1594.7 670.9,1595.6 671.3,1596.6 671.6,1597.5 671.9,1598.4 672.3,1599.4 672.6,1600.3 672.9,1601.3 673.3,1602.2 673.6,1603.1 673.9,1604.1 674.3,1605.0 674.6,1606.0 674.9,1606.9 675.2,1607.8 675.6,1608.8 675.9,1609.7 676.2,1610.7 676.5,1611.6 676.9,1612.5 677.2,1613.5 677.5,1614.4 677.8,1615.3 678.2,1616.3 678.5,1617.2 678.8,1618.1 679.1,1619.1 679.4,1620.0 679.8,1621.0 680.1,1621.9 680.4,1622.8 680.7,1623.8 681.0,1624.7 681.3,1625.6 681.7,1626.6 682.0,1627.5 682.3,1628.4 682.6,1629.4 682.9,1630.3 683.2,1631.3 683.5,1632.2 683.9,1633.1 684.2,1634.1 684.5,1635.0 684.8,1635.9 685.1,1636.9 685.4,1637.8 685.7,1638.7 686.0,1639.7 686.4,1640.6 686.7,1641.5 687.0,1642.5 687.3,1643.4 687.6,1644.4 687.9,1645.3 688.2,1646.2 688.5,1647.2 688.8,1648.1 689.2,1649.0 689.5,1650.0 689.8,1650.9 690.1,1651.8 690.4,1652.8 690.7,1653.7 691.0,1654.6 691.3,1655.6 691.6,1656.5 692.0,1657.4 692.3,1658.4 692.6,1659.3 692.9,1660.3 693.2,1661.2 693.5,1662.1 693.8,1663.1 694.1,1664.0 694.5,1664.9 694.8,1665.9 695.1,1666.8 695.4,1667.7 695.7,1668.7 696.0,1669.6 696.4,1670.6 696.7,1671.5 697.0,1672.4 697.3,1673.4 697.6,1674.3 697.9,1675.2 698.3,1676.2 698.6,1677.1 698.9,1678.0 699.2,1679.0 699.6,1679.9 699.9,1680.9 700.2,1681.8 700.5,1682.7 700.8,1683.7 701.2,1684.6 701.5,1685.5 701.8,1686.5 702.2,1687.4 702.5,1688.4 702.8,1689.3 703.1,1690.2 703.5,1691.2 703.8,1692.1 704.1,1693.1 704.5,1694.0 704.8,1694.9 705.1,1695.9 705.5,1696.8 705.8,1697.8 706.1,1698.7 706.5,1699.6 706.8,1700.6 707.2,1701.5 707.5,1702.5 707.9,1703.4 708.2,1704.3 708.5,1705.3 708.9,1706.2 709.2,1707.2 709.6,1708.1 709.9,1709.1 710.3,1710.0 710.6,1710.9 711.0,1711.9 711.3,1712.8 711.7,1713.8 712.1,1714.7 712.4,1715.7 712.8,1716.6 713.1,1717.5 713.5,1718.5 713.9,1719.4 714.2,1720.4 714.6,1721.3 715.0,1722.3 715.3,1723.2 715.7,1724.2 716.1,1725.1 716.5,1726.1 716.8,1727.0 717.2,1728.0 717.6,1728.9 718.0,1729.9 718.3,1730.8 718.7,1731.7 719.1,1732.7 719.5,1733.6 719.9,1734.6 720.3,1735.5 720.7,1736.5 721.1,1737.4 721.5,1738.4 721.9,1739.4 722.3,1740.3 722.7,1741.3 723.1,1742.2 723.5,1743.2 723.9,1744.1 724.3,1745.1 724.7,1746.0 725.1,1747.0 725.5,1747.9 725.9,1748.9 726.4,1749.8 726.8,1750.8 727.2,1751.7 727.6,1752.7 728.0,1753.6 728.5,1754.6 728.9,1755.5 729.4,1756.5 729.8,1757.4 730.2,1758.4 730.7,1759.3 731.1,1760.2 731.6,1761.2 732.1,1762.1 732.5,1763.0 733.0,1763.9 733.5,1764.9 733.9,1765.8 734.4,1766.7 734.9,1767.6 735.4,1768.5 735.9,1769.4 736.4,1770.3 736.9,1771.1 737.4,1772.0 738.0,1772.9 738.5,1773.7 739.0,1774.6 739.6,1775.4 740.1,1776.2 740.7,1777.1 741.3,1777.9 741.8,1778.7 742.4,1779.5 743.0,1780.3 743.6,1781.1 744.2,1781.8 744.8,1782.6 745.4,1783.4 746.0,1784.1 746.7,1784.8 747.3,1785.5 748.0,1786.3 748.6,1786.9 749.3,1787.6 750.0,1788.3 750.7,1789.0 751.4,1789.6 752.1,1790.2 752.8,1790.9 753.5,1791.5 754.2,1792.1 755.0,1792.6 755.7,1793.2 756.5,1793.8 757.3,1794.3 758.1,1794.8 758.9,1795.3 759.7,1795.8 760.5,1796.3 761.4,1796.8 762.2,1797.2 763.1,1797.6 763.9,1798.0 764.8,1798.4 765.7,1798.8 766.6,1799.1 767.5,1799.4 768.4,1799.7 769.3,1799.9 770.2,1800.2 771.1,1800.3 772.0,1800.5 772.9,1800.6 773.8,1800.7 774.6,1800.7 775.5,1800.7 776.4,1800.7 777.3,1800.6 778.1,1800.4 779.0,1800.3 779.8,1800.0 780.6,1799.8 781.5,1799.4 782.3,1799.1 783.1,1798.7 783.8,1798.2 784.6,1797.8 785.4,1797.2 786.1,1796.7 786.8,1796.1 787.5,1795.4 788.2,1794.8 788.9,1794.1 789.6,1793.3 790.2,1792.6 790.9,1791.8 791.5,1791.0 792.1,1790.2 792.8,1789.4 793.4,1788.6 794.0,1787.7 794.5,1786.9 795.1,1786.0 795.7,1785.1 796.3,1784.3 796.8,1783.4 797.3,1782.5 797.9,1781.6 798.4,1780.7 798.9,1779.9 799.5,1779.0 800.0,1778.1 800.5,1777.2 801.0,1776.3 801.4,1775.4 801.9,1774.5 802.4,1773.6 802.9,1772.7 803.3,1771.8 803.8,1770.9 804.2,1769.9 804.6,1769.0 805.1,1768.1 805.5,1767.2 805.9,1766.3 806.3,1765.4 806.7,1764.4 807.1,1763.5 807.5,1762.6 807.9,1761.6 808.3,1760.7 808.7,1759.8 809.1,1758.8 809.4,1757.9 809.8,1757.0 810.1,1756.0 810.5,1755.1 810.8,1754.1 811.2,1753.2 811.5,1752.2 811.8,1751.3 812.2,1750.3 812.5,1749.4 812.8,1748.4 813.1,1747.5 813.4,1746.5 813.7,1745.6 814.0,1744.6 814.3,1743.7 814.6,1742.7 814.9,1741.7 815.2,1740.8 815.5,1739.8 815.8,1738.8 816.0,1737.9 816.3,1736.9 816.6,1735.9 816.8,1735.0 817.1,1734.0 817.4,1733.0 817.6,1732.1 817.9,1731.1 818.1,1730.1 818.4,1729.1 818.6,1728.2 818.9,1727.2 819.1,1726.2 819.3,1725.2 819.6,1724.2 819.8,1723.3 820.0,1722.3 820.3,1721.3 820.5,1720.3 820.7,1719.4 821.0,1718.4 821.2,1717.4 821.4,1716.4 821.6,1715.4 821.8,1714.4 822.1,1713.5 822.3,1712.5 822.5,1711.5 822.7,1710.5 822.9,1709.5 823.1,1708.6 823.3,1707.6 823.6,1706.6 823.8,1705.6 824.0,1704.6 824.2,1703.6 824.4,1702.7 824.6,1701.7 824.8,1700.7 825.0,1699.7 825.3,1698.7 825.5,1697.8 825.7,1696.8 825.9,1695.8 826.1,1694.8 826.3,1693.8 826.5,1692.9 826.7,1691.9 826.9,1690.9 827.2,1689.9 827.4,1688.9 827.6,1688.0 827.8,1687.0 828.0,1686.0 828.2,1685.0 828.4,1684.1 828.6,1683.1 828.8,1682.1 829.1,1681.1 829.3,1680.1 829.5,1679.2 829.7,1678.2 829.9,1677.2 830.1,1676.2 830.3,1675.3 830.5,1674.3 830.7,1673.3 830.9,1672.3 831.2,1671.4 831.4,1670.4 831.6,1669.4 831.8,1668.4 832.0,1667.4 832.2,1666.5 832.4,1665.5 832.6,1664.5 832.8,1663.5 833.0,1662.6 833.3,1661.6 833.5,1660.6 833.7,1659.6 833.9,1658.7 834.1,1657.7 834.3,1656.7 834.5,1655.8 834.7,1654.8 834.9,1653.8 835.1,1652.8 835.4,1651.9 835.6,1650.9 835.8,1649.9 836.0,1648.9 836.2,1648.0 836.4,1647.0 836.6,1646.0 836.8,1645.0 837.0,1644.1 837.3,1643.1 837.5,1642.1 837.7,1641.1 837.9,1640.2 838.1,1639.2 838.3,1638.2 838.5,1637.3 838.7,1636.3 838.9,1635.3 839.2,1634.3 839.4,1633.4 839.6,1632.4 839.8,1631.4 840.0,1630.4 840.2,1629.5 840.4,1628.5 840.6,1627.5 840.8,1626.6 841.1,1625.6 841.3,1624.6 841.5,1623.6 841.7,1622.7 841.9,1621.7 842.1,1620.7 842.3,1619.7 842.5,1618.8 842.8,1617.8 843.0,1616.8 843.2,1615.9 843.4,1614.9 843.6,1613.9 843.8,1612.9 844.0,1612.0 844.2,1611.0 844.5,1610.0 844.7,1609.1 844.9,1608.1 845.1,1607.1 845.3,1606.1 845.5,1605.2 845.7,1604.2 846.0,1603.2 846.2,1602.2 846.4,1601.3 846.6,1600.3 846.8,1599.3 847.0,1598.4 847.3,1597.4 847.5,1596.4 847.7,1595.4 847.9,1594.5 848.1,1593.5 848.3,1592.5 848.6,1591.5 848.8,1590.6 849.0,1589.6 849.2,1588.6 849.4,1587.6 849.6,1586.7 849.9,1585.7 850.1,1584.7 850.3,1583.8 850.5,1582.8 850.7,1581.8 850.9,1580.8 851.2,1579.9 851.4,1578.9 851.6,1577.9 851.8,1576.9 852.0,1576.0 852.3,1575.0 852.5,1574.0 852.7,1573.0 852.9,1572.1 853.1,1571.1 853.4,1570.1 853.6,1569.1 853.8,1568.2 854.0,1567.2 854.2,1566.2 854.5,1565.2 854.7,1564.3 854.9,1563.3 855.1,1562.3 855.4,1561.3 855.6,1560.4 855.8,1559.4 856.0,1558.4 856.3,1557.4 856.5,1556.5 856.7,1555.5 856.9,1554.5 857.2,1553.5 857.4,1552.5 857.6,1551.6 857.8,1550.6 858.1,1549.6 858.3,1548.6 858.5,1547.7 858.7,1546.7 859.0,1545.7 859.2,1544.7 859.4,1543.7 859.6,1542.8 859.9,1541.8 860.1,1540.8 860.3,1539.8 860.6,1538.8 860.8,1537.9 861.0,1536.9 861.2,1535.9 861.5,1534.9 861.7,1533.9 861.9,1533.0 862.2,1532.0 862.4,1531.0" fill="none" stroke="#35994a" stroke-width="3.0" stroke-linejoin="round" stroke-linecap="butt"/>
<polyline points="142.2,1542.4 143.2,1542.4 144.2,1542.5 145.2,1542.5 146.1,1542.5 147.1,1542.5 148.1,1542.5 149.1,1542.6 150.1,1542.6 151.1,1542.6 152.1,1542.6 153.0,1542.6 154.0,1542.7 155.0,1542.7 156.0,1542.7 157.0,1542.7 158.0,1542.7 159.0,1542.7 160.0,1542.7 161.0,1542.7 162.0,1542.7 163.0,1542.7 164.0,1542.7 165.0,1542.7 166.0,1542.7 167.0,1542.7 168.0,1542.7 169.0,1542.7 170.0,1542.7 171.0,1542.7 172.0,1542.7 173.0,1542.7 174.0,1542.7 175.0,1542.7 176.0,1542.7 177.0,1542.6 178.0,1542.6 179.0,1542.6 180.0,1542.6 181.0,1542.6 182.0,1542.5 183.0,1542.5 184.0,1542.5 185.0,1542.4 186.0,1542.4 187.0,1542.4 188.0,1542.3 189.0,1542.3 190.0,1542.3 191.0,1542.2 192.0,1542.2 193.0,1542.1 194.0,1542.1 195.0,1542.0 196.0,1542.0 197.0,1541.9 198.0,1541.9 199.0,1541.8 200.0,1541.8 201.0,1541.7 202.0,1541.6 203.0,1541.6 204.1,1541.5 205.1,1541.4 206.1,1541.4 207.1,1541.3 208.1,1541.2 209.1,1541.1 210.1,1541.1 211.1,1541.0 212.1,1540.9 213.1,1540.8 214.1,1540.7 215.1,1540.6 216.1,1540.5 217.1,1540.4 218.1,1540.3 219.1,1540.2 220.1,1540.1 221.1,1540.0 222.1,1539.9 223.1,1539.8 224.1,1539.7 225.1,1539.6 226.1,1539.5 227.1,1539.4 228.1,1539.2 229.1,1539.1 230.1,1539.0 231.1,1538.9 232.1,1538.7 233.1,1538.6 234.1,1538.5 235.1,1538.3 236.1,1538.2 237.1,1538.0 238.0,1537.9 239.0,1537.7 240.0,1537.6 241.0,1537.4 242.0,1537.3 243.0,1537.1 244.0,1536.9 245.0,1536.8 246.0,1536.6 247.0,1536.4 247.9,1536.3 248.9,1536.1 249.9,1535.9 250.9,1535.7 251.9,1535.5 252.9,1535.3 253.8,1535.2 254.8,1535.0 255.8,1534.8 256.8,1534.6 257.8,1534.4 258.7,1534.1 259.7,1533.9 260.7,1533.7 261.7,1533.5 262.6,1533.3 263.6,1533.1 264.6,1532.8 265.6,1532.6 266.5,1532.4 267.5,1532.2 268.5,1531.9 269.4,1531.7 270.4,1531.4 271.4,1531.2 272.3,1530.9 273.3,1530.7 274.3,1530.4 275.2,1530.2 276.2,1529.9 277.1,1529.6 278.1,1529.4 279.1,1529.1 280.0,1528.8 281.0,1528.5 281.9,1528.3 282.9,1528.0 283.8,1527.7 284.8,1527.4 285.7,1527.1 286.7,1526.8 287.6,1526.5 288.5,1526.2 289.5,1525.9 290.4,1525.5 291.4,1525.2 292.3,1524.9 293.2,1524.6 294.2,1524.3 295.1,1523.9 296.0,1523.6 297.0,1523.2 297.9,1522.9 298.8,1522.6 299.8,1522.2 300.7,1521.8 301.6,1521.5 302.5,1521.1 303.5,1520.8 304.4,1520.4 305.3,1520.0 306.2,1519.6 307.1,1519.3 308.0,1518.9 308.9,1518.5 309.9,1518.1 310.8,1517.7 311.7,1517.3 312.6,1516.9 313.5,1516.5 314.4,1516.1 315.3,1515.6 316.2,1515.2 317.1,1514.8 318.0,1514.4 318.9,1513.9 319.7,1513.5 320.6,1513.1 321.5,1512.6 322.4,1512.2 323.3,1511.7 324.2,1511.2 325.0,1510.8 325.9,1510.3 326.8,1509.9 327.7,1509.4 328.6,1508.9 329.4,1508.4 330.3,1507.9 331.2,1507.5 332.0,1507.0 332.9,1506.5 333.8,1506.0 334.6,1505.5 335.5,1505.0 336.3,1504.5 337.2,1504.0 338.0,1503.4 338.9,1502.9 339.7,1502.4 340.6,1501.9 341.4,1501.4 342.3,1500.8 343.1,1500.3 344.0,1499.8 344.8,1499.2 345.7,1498.7 346.5,1498.2 347.4,1497.6 348.2,1497.1 349.0,1496.5 349.9,1496.0 350.7,1495.4 351.5,1494.9 352.4,1494.3 353.2,1493.8 354.0,1493.2 354.9,1492.6 355.7,1492.1 356.5,1491.5 357.4,1490.9 358.2,1490.4 359.0,1489.8 359.8,1489.2 360.6,1488.7 361.5,1488.1 362.3,1487.5 363.1,1486.9 363.9,1486.3 364.7,1485.8 365.6,1485.2 366.4,1484.6 367.2,1484.0 368.0,1483.4 368.8,1482.9 369.6,1482.3 370.5,1481.7 371.3,1481.1 372.1,1480.5 372.9,1479.9 373.7,1479.3 374.5,1478.7 375.3,1478.1 376.1,1477.6 376.9,1477.0 377.7,1476.4 378.5,1475.8 379.3,1475.2 380.2,1474.6 381.0,1474.0 381.8,1473.4 382.6,1472.8 383.4,1472.2 384.2,1471.6 385.0,1471.0 385.8,1470.4 386.6,1469.8 387.4,1469.2 388.2,1468.6 389.0,1468.0 389.8,1467.4 390.5,1466.8 391.3,1466.2 392.1,1465.6 392.9,1465.0 393.7,1464.4 394.5,1463.8 395.3,1463.2 396.1,1462.5 396.9,1461.9 397.7,1461.3 398.5,1460.7 399.3,1460.1 400.1,1459.5 400.8,1458.9 401.6,1458.3 402.4,1457.7 403.2,1457.1 404.0,1456.4 404.8,1455.8 405.6,1455.2 406.3,1454.6 407.1,1454.0 407.9,1453.4 408.7,1452.8 409.5,1452.2 410.3,1451.5 411.0,1450.9 411.8,1450.3 412.6,1449.7 413.4,1449.1 414.2,1448.5 415.0,1447.8 415.7,1447.2 416.5,1446.6 417.3,1446.0 418.1,1445.4 418.8,1444.8 419.6,1444.1 420.4,1443.5 421.2,1442.9 421.9,1442.3 422.7,1441.7 423.5,1441.0 424.3,1440.4 425.1,1439.8 425.8,1439.2 426.6,1438.6 427.4,1438.0 428.2,1437.3 428.9,1436.7 429.7,1436.1 430.5,1435.5 431.3,1434.9 432.0,1434.3 432.8,1433.7 433.6,1433.1 434.4,1432.5 435.2,1431.8 436.0,1431.2 436.7,1430.6 437.5,1430.0 438.3,1429.4 439.1,1428.8 439.9,1428.3 440.7,1427.7 441.5,1427.1 442.3,1426.5 443.1,1425.9 443.9,1425.3 444.7,1424.7 445.5,1424.2 446.3,1423.6 447.1,1423.0 447.9,1422.5 448.7,1421.9 449.6,1421.3 450.4,1420.8 451.2,1420.2 452.0,1419.7 452.9,1419.1 453.7,1418.6 454.5,1418.0 455.4,1417.5 456.2,1417.0 457.0,1416.5 457.9,1415.9 458.7,1415.4 459.6,1414.9 460.4,1414.4 461.3,1413.9 462.2,1413.4 463.0,1412.9 463.9,1412.4 464.8,1411.9 465.7,1411.5 466.6,1411.0 467.4,1410.5 468.3,1410.0 469.2,1409.6 470.1,1409.1 471.0,1408.7 472.0,1408.3 472.9,1407.8 473.8,1407.4 474.7,1407.0 475.6,1406.6 476.6,1406.1 477.5,1405.7 478.4,1405.3 479.4,1405.0 480.3,1404.6 481.3,1404.2 482.2,1403.8 483.2,1403.5 484.1,1403.1 485.1,1402.8 486.1,1402.5 487.0,1402.1 488.0,1401.8 489.0,1401.5 489.9,1401.2 490.9,1400.9 491.9,1400.6 492.9,1400.4 493.9,1400.1 494.8,1399.9 495.8,1399.6 496.8,1399.4 497.8,1399.2 498.8,1399.0 499.8,1398.8 500.8,1398.6 501.8,1398.4 502.7,1398.2 503.7,1398.1 504.7,1397.9 505.7,1397.8 506.7,1397.7 507.7,1397.5 508.7,1397.4 509.7,1397.4 510.7,1397.3 511.7,1397.2 512.7,1397.2 513.7,1397.1 514.7,1397.1 515.7,1397.1 516.7,1397.1 517.6,1397.1 518.6,1397.1 519.6,1397.2 520.6,1397.2 521.6,1397.3 522.6,1397.4 523.6,1397.5 524.5,1397.6 525.5,1397.7 526.5,1397.9 527.5,1398.0 528.4,1398.2 529.4,1398.3 530.4,1398.5 531.3,1398.7 532.3,1398.9 533.3,1399.2 534.2,1399.4 535.2,1399.7 536.1,1399.9 537.1,1400.2 538.0,1400.5 539.0,1400.8 539.9,1401.1 540.9,1401.4 541.8,1401.7 542.7,1402.1 543.6,1402.4 544.6,1402.8 545.5,1403.2 546.4,1403.5 547.3,1403.9 548.2,1404.3 549.1,1404.8 550.0,1405.2 550.9,1405.6 551.8,1406.1 552.7,1406.5 553.6,1407.0 554.5,1407.5 555.3,1407.9 556.2,1408.4 557.1,1408.9 557.9,1409.5 558.8,1410.0 559.6,1410.5 560.4,1411.0 561.3,1411.6 562.1,1412.1 562.9,1412.7 563.8,1413.3 564.6,1413.8 565.4,1414.4 566.2,1415.0 567.0,1415.6 567.8,1416.2 568.5,1416.8 569.3,1417.5 570.1,1418.1 570.8,1418.7 571.6,1419.4 572.3,1420.0 573.1,1420.7 573.8,1421.3 574.6,1422.0 575.3,1422.7 576.0,1423.4 576.7,1424.1 577.4,1424.8 578.1,1425.5 578.8,1426.2 579.5,1426.9 580.1,1427.6 580.8,1428.3 581.5,1429.0 582.1,1429.8 582.8,1430.5 583.4,1431.3 584.0,1432.0 584.7,1432.8 585.3,1433.5 585.9,1434.3 586.5,1435.1 587.1,1435.8 587.7,1436.6 588.3,1437.4 588.9,1438.2 589.5,1439.0 590.1,1439.8 590.7,1440.6 591.2,1441.4 591.8,1442.2 592.4,1443.0 592.9,1443.8 593.5,1444.7 594.0,1445.5 594.6,1446.3 595.1,1447.1 595.6,1448.0 596.2,1448.8 596.7,1449.7 597.2,1450.5 597.7,1451.4 598.2,1452.2 598.8,1453.1 599.3,1453.9 599.8,1454.8 600.3,1455.7 600.7,1456.5 601.2,1457.4 601.7,1458.3 602.2,1459.2 602.7,1460.1 603.2,1460.9 603.6,1461.8 604.1,1462.7 604.6,1463.6 605.0,1464.5 605.5,1465.4 606.0,1466.3 606.4,1467.2 606.9,1468.1 607.3,1469.0 607.8,1469.9 608.2,1470.8 608.6,1471.7 609.1,1472.6 609.5,1473.5 610.0,1474.4 610.4,1475.4 610.8,1476.3 611.3,1477.2 611.7,1478.1 612.1,1479.0 612.5,1479.9 613.0,1480.9 613.4,1481.8 613.8,1482.7 614.2,1483.6 614.6,1484.5 615.0,1485.5 615.5,1486.4 615.9,1487.3 616.3,1488.2 616.7,1489.1 617.1,1490.1 617.5,1491.0 617.9,1491.9 618.3,1492.8 618.7,1493.8 619.2,1494.7 619.6,1495.6 620.0,1496.5 620.4,1497.4 620.8,1498.4 621.2,1499.3 621.6,1500.2 622.0,1501.1 622.4,1502.1 622.8,1503.0 623.2,1503.9 623.6,1504.8 624.0,1505.7 624.4,1506.7 624.8,1507.6 625.2,1508.5 625.6,1509.4 626.0,1510.3 626.4,1511.3 626.8,1512.2 627.2,1513.1 627.5,1514.0 627.9,1515.0 628.3,1515.9 628.7,1516.8 629.1,1517.7 629.5,1518.6 629.9,1519.6 630.3,1520.5 630.7,1521.4 631.1,1522.3 631.4,1523.2 631.8,1524.2 632.2,1525.1 632.6,1526.0 633.0,1526.9 633.4,1527.9 633.7,1528.8 634.1,1529.7 634.5,1530.6 634.9,1531.5 635.3,1532.5 635.7,1533.4 636.0,1534.3 636.4,1535.2 636.8,1536.1 637.2,1537.1 637.6,1538.0 637.9,1538.9 638.3,1539.8 638.7,1540.8 639.1,1541.7 639.4,1542.6 639.8,1543.5 640.2,1544.4 640.6,1545.4 640.9,1546.3 641.3,1547.2 641.7,1548.1 642.1,1549.0 642.4,1550.0 642.8,1550.9 643.2,1551.8 643.6,1552.7 643.9,1553.7 644.3,1554.6 644.7,1555.5 645.0,1556.4 645.4,1557.3 645.8,1558.3 646.2,1559.2 646.5,1560.1 646.9,1561.0 647.3,1562.0 647.6,1562.9 648.0,1563.8 648.4,1564.7 648.7,1565.6 649.1,1566.6 649.5,1567.5 649.8,1568.4 650.2,1569.3 650.6,1570.3 650.9,1571.2 651.3,1572.1 651.7,1573.0 652.0,1573.9 652.4,1574.9 652.8,1575.8 653.1,1576.7 653.5,1577.6 653.9,1578.6 654.2,1579.5 654.6,1580.4 655.0,1581.3 655.3,1582.3 655.7,1583.2 656.0,1584.1 656.4,1585.0 656.8,1586.0 657.1,1586.9 657.5,1587.8 657.9,1588.7 658.2,1589.6 658.6,1590.6 658.9,1591.5 659.3,1592.4 659.7,1593.3 660.0,1594.3 660.4,1595.2 660.8,1596.1 661.1,1597.0 661.5,1598.0 661.8,1598.9 662.2,1599.8 662.6,1600.7 662.9,1601.7 663.3,1602.6 663.7,1603.5 664.0,1604.4 664.4,1605.4 664.7,1606.3 665.1,1607.2 665.5,1608.1 665.8,1609.1 666.2,1610.0 666.6,1610.9 666.9,1611.9 667.3,1612.8 667.6,1613.7 668.0,1614.6 668.4,1615.6 668.7,1616.5 669.1,1617.4 669.4,1618.3 669.8,1619.3 670.2,1620.2 670.5,1621.1 670.9,1622.1 671.3,1623.0 671.6,1623.9 672.0,1624.8 672.4,1625.8 672.7,1626.7 673.1,1627.6 673.4,1628.6 673.8,1629.5 674.2,1630.4 674.5,1631.3 674.9,1632.3 675.3,1633.2 675.6,1634.1 676.0,1635.1 676.4,1636.0 676.7,1636.9 677.1,1637.8 677.5,1638.8 677.8,1639.7 678.2,1640.6 678.6,1641.6 678.9,1642.5 679.3,1643.4 679.7,1644.4 680.0,1645.3 680.4,1646.2 680.8,1647.2 681.1,1648.1 681.5,1649.0 681.9,1650.0 682.2,1650.9 682.6,1651.8 683.0,1652.7 683.4,1653.7 683.7,1654.6 684.1,1655.5 684.5,1656.5 684.8,1657.4 685.2,1658.3 685.6,1659.3 686.0,1660.2 686.3,1661.2 686.7,1662.1 687.1,1663.0 687.5,1664.0 687.8,1664.9 688.2,1665.8 688.6,1666.8 689.0,1667.7 689.3,1668.6 689.7,1669.6 690.1,1670.5 690.5,1671.4 690.8,1672.4 691.2,1673.3 691.6,1674.2 692.0,1675.2 692.4,1676.1 692.7,1677.1 693.1,1678.0 693.5,1678.9 693.9,1679.9 694.3,1680.8 694.7,1681.7 695.1,1682.7 695.4,1683.6 695.8,1684.5 696.2,1685.5 696.6,1686.4 697.0,1687.3 697.4,1688.3 697.8,1689.2 698.2,1690.1 698.6,1691.0 699.0,1691.9 699.5,1692.9 699.9,1693.8 700.3,1694.7 700.7,1695.6 701.1,1696.5 701.6,1697.4 702.0,1698.3 702.4,1699.2 702.9,1700.1 703.3,1701.0 703.8,1701.9 704.2,1702.8 704.7,1703.7 705.1,1704.6 705.6,1705.5 706.1,1706.3 706.5,1707.2 707.0,1708.1 707.5,1708.9 708.0,1709.8 708.5,1710.7 709.0,1711.5 709.5,1712.4 710.0,1713.2 710.5,1714.0 711.0,1714.9 711.6,1715.7 712.1,1716.5 712.6,1717.4 713.2,1718.2 713.7,1719.0 714.3,1719.8 714.9,1720.6 715.4,1721.4 716.0,1722.2 716.6,1722.9 717.2,1723.7 717.8,1724.5 718.4,1725.3 719.0,1726.0 719.6,1726.8 720.3,1727.5 720.9,1728.2 721.6,1729.0 722.2,1729.7 722.9,1730.4 723.5,1731.1 724.2,1731.8 724.9,1732.5 725.6,1733.2 726.3,1733.9 727.0,1734.6 727.7,1735.3 728.4,1735.9 729.2,1736.6 729.9,1737.3 730.6,1737.9 731.4,1738.6 732.1,1739.2 732.9,1739.8 733.7,1740.4 734.4,1741.1 735.2,1741.7 736.0,1742.3 736.8,1742.9 737.6,1743.5 738.4,1744.0 739.2,1744.6 740.0,1745.2 740.8,1745.8 741.7,1746.3 742.5,1746.9 743.3,1747.4 744.2,1748.0 745.0,1748.5 745.9,1749.0 746.7,1749.6 747.6,1750.1 748.5,1750.6 749.4,1751.1 750.2,1751.6 751.1,1752.1 752.0,1752.6 752.9,1753.1 753.8,1753.5 754.7,1754.0 755.6,1754.5 756.5,1754.9 757.4,1755.4 758.3,1755.9 759.2,1756.3 760.1,1756.8 761.0,1757.2 761.9,1757.7 762.8,1758.2 763.7,1758.6 764.6,1759.1 765.5,1759.6 766.4,1760.0 767.2,1760.5 768.1,1761.0 768.9,1761.5 769.8,1762.0 770.6,1762.6 771.4,1763.1 772.2,1763.7 773.0,1764.2 773.7,1764.8 774.5,1765.4 775.2,1766.0 775.9,1766.6 776.6,1767.2 777.3,1767.9 778.0,1768.5 778.7,1769.2 779.3,1769.9 780.0,1770.6 780.6,1771.4 781.2,1772.1 781.8,1772.9 782.4,1773.6 783.0,1774.4 783.6,1775.2 784.2,1776.0 784.8,1776.8 785.4,1777.7 785.9,1778.5 786.5,1779.4 787.1,1780.2 787.7,1781.1 788.3,1782.0 788.9,1782.9 789.4,1783.9 790.0,1784.8 790.6,1785.7 791.3,1786.7 791.9,1787.6 792.5,1788.6 793.1,1789.5 793.8,1790.4 794.4,1791.3 795.1,1792.2 795.7,1793.1 796.4,1794.0 797.1,1794.9 797.8,1795.7 798.5,1796.5 799.3,1797.3 800.0,1798.0 800.8,1798.7 801.6,1799.4 802.4,1800.0 803.2,1800.6 804.0,1801.1 804.8,1801.6 805.7,1802.0 806.5,1802.2 807.3,1802.4 808.0,1802.4 808.7,1802.3 809.4,1802.1 810.0,1801.7 810.6,1801.2 811.2,1800.6 811.8,1800.0 812.3,1799.2 812.8,1798.5 813.2,1797.6 813.7,1796.8 814.2,1795.9 814.6,1795.0 815.1,1794.1 815.5,1793.2 815.9,1792.4 816.3,1791.5 816.8,1790.6 817.2,1789.7 817.6,1788.8 818.0,1787.9 818.3,1787.0 818.7,1786.1 819.1,1785.2 819.5,1784.3 819.8,1783.3 820.2,1782.4 820.5,1781.5 820.9,1780.6 821.2,1779.7 821.5,1778.7 821.9,1777.8 822.2,1776.9 822.5,1775.9 822.8,1775.0 823.1,1774.1 823.4,1773.1 823.7,1772.2 824.0,1771.2 824.3,1770.3 824.5,1769.3 824.8,1768.4 825.1,1767.4 825.3,1766.5 825.6,1765.5 825.8,1764.6 826.1,1763.6 826.3,1762.6 826.6,1761.7 826.8,1760.7 827.0,1759.7 827.3,1758.8 827.5,1757.8 827.7,1756.8 827.9,1755.8 828.1,1754.9 828.3,1753.9 828.5,1752.9 828.7,1751.9 828.9,1750.9 829.1,1750.0 829.3,1749.0 829.5,1748.0 829.7,1747.0 829.8,1746.0 830.0,1745.0 830.2,1744.0 830.3,1743.0 830.5,1742.1 830.7,1741.1 830.8,1740.1 831.0,1739.1 831.1,1738.1 831.3,1737.1 831.4,1736.1 831.6,1735.1 831.7,1734.1 831.9,1733.1 832.0,1732.1 832.2,1731.1 832.3,1730.1 832.4,1729.1 832.6,1728.1 832.7,1727.1 832.8,1726.1 833.0,1725.1 833.1,1724.1 833.2,1723.1 833.3,1722.1 833.5,1721.0 833.6,1720.0 833.7,1719.0 833.8,1718.0 834.0,1717.0 834.1,1716.0 834.2,1715.0 834.3,1714.0 834.4,1713.0 834.6,1712.0 834.7,1711.0 834.8,1710.0 834.9,1709.0 835.0,1708.0 835.1,1707.0 835.3,1706.0 835.4,1705.0 835.5,1704.0 835.6,1703.0 835.7,1702.0 835.9,1701.0 836.0,1700.0 836.1,1699.0 836.2,1698.0 836.3,1697.0 836.4,1696.0 836.6,1695.0 836.7,1694.0 836.8,1693.0 836.9,1692.0 837.1,1691.0 837.2,1690.0 837.3,1689.0 837.4,1688.0 837.5,1687.0 837.7,1686.0 837.8,1685.0 837.9,1684.0 838.0,1683.0 838.2,1682.0 838.3,1681.0 838.4,1680.0 838.5,1679.0 838.7,1678.1 838.8,1677.1 838.9,1676.1 839.0,1675.1 839.1,1674.1 839.3,1673.1 839.4,1672.1 839.5,1671.1 839.6,1670.1 839.8,1669.1 839.9,1668.2 840.0,1667.2 840.1,1666.2 840.3,1665.2 840.4,1664.2 840.5,1663.2 840.6,1662.2 840.8,1661.2 840.9,1660.2 841.0,1659.3 841.1,1658.3 841.3,1657.3 841.4,1656.3 841.5,1655.3 841.6,1654.3 841.8,1653.3 841.9,1652.4 842.0,1651.4 842.1,1650.4 842.2,1649.4 842.4,1648.4 842.5,1647.4 842.6,1646.4 842.7,1645.5 842.9,1644.5 843.0,1643.5 843.1,1642.5 843.2,1641.5 843.3,1640.5 843.5,1639.5 843.6,1638.6 843.7,1637.6 843.8,1636.6 843.9,1635.6 844.1,1634.6 844.2,1633.6 844.3,1632.6 844.4,1631.7 844.5,1630.7 844.6,1629.7 844.8,1628.7 844.9,1627.7 845.0,1626.7 845.1,1625.8 845.2,1624.8 845.3,1623.8 845.4,1622.8 845.6,1621.8 845.7,1620.8 845.8,1619.8 845.9,1618.9 846.0,1617.9 846.1,1616.9 846.2,1615.9 846.3,1614.9 846.4,1613.9 846.6,1612.9 846.7,1611.9 846.8,1611.0 846.9,1610.0 847.0,1609.0 847.1,1608.0 847.2,1607.0 847.3,1606.0 847.4,1605.0 847.5,1604.0 847.6,1603.1 847.7,1602.1 847.8,1601.1 847.9,1600.1 848.0,1599.1 848.1,1598.1 848.2,1597.1 848.3,1596.1 848.4,1595.1 848.5,1594.2 848.6,1593.2 848.7,1592.2 848.8,1591.2 848.8,1590.2 848.9,1589.2 849.0,1588.2 849.1,1587.2 849.2,1586.2 849.3,1585.2 849.4,1584.2 849.5,1583.2 849.5,1582.2 849.6,1581.2 849.7,1580.2 849.8,1579.2 849.9,1578.2 850.0,1577.3 850.0,1576.3 850.1,1575.3 850.2,1574.3 850.3,1573.3 850.3,1572.3 850.4,1571.3 850.5,1570.3 850.6,1569.3 850.6,1568.3 850.7,1567.3 850.8,1566.3 850.8,1565.3 850.9,1564.2 851.0,1563.2 851.0,1562.2 851.1,1561.2 851.2,1560.2 851.2,1559.2 851.3,1558.2 851.3,1557.2 851.4,1556.2 851.4,1555.2 851.5,1554.2 851.6,1553.2 851.6,1552.2 851.7,1551.2 851.7,1550.1 851.8,1549.1 851.8,1548.1 851.9,1547.1 851.9,1546.1 852.5,1543.2 853.5,1542.2 857.7,1542.1 860.5,1538.5" fill="none" stroke="#ef8030" stroke-width="3.0" stroke-linejoin="round" stroke-linecap="butt"/>
<polyline points="142.2,1542.4 143.2,1542.4 144.2,1542.4 145.1,1542.4 146.1,1542.4 147.1,1542.4 148.1,1542.4 149.1,1542.4 150.0,1542.4 151.0,1542.4 152.0,1542.4 153.0,1542.4 154.0,1542.4 155.0,1542.4 156.0,1542.4 157.0,1542.4 157.9,1542.4 158.9,1542.4 159.9,1542.4 160.9,1542.4 161.9,1542.4 162.9,1542.4 163.9,1542.4 164.9,1542.4 165.9,1542.4 166.9,1542.4 167.9,1542.4 168.9,1542.4 169.9,1542.4 170.9,1542.3 171.9,1542.3 172.9,1542.3 173.9,1542.3 174.9,1542.3 175.9,1542.3 176.9,1542.3 177.9,1542.2 178.9,1542.2 179.9,1542.2 180.9,1542.2 181.9,1542.2 182.9,1542.1 183.9,1542.1 184.9,1542.1 185.9,1542.0 186.9,1542.0 187.9,1542.0 188.9,1542.0 189.9,1541.9 190.9,1541.9 191.9,1541.8 192.9,1541.8 193.9,1541.8 194.9,1541.7 195.9,1541.7 196.9,1541.6 197.9,1541.6 198.9,1541.6 200.0,1541.5 201.0,1541.5 202.0,1541.4 203.0,1541.3 204.0,1541.3 205.0,1541.2 206.0,1541.2 207.0,1541.1 208.0,1541.1 209.0,1541.0 210.0,1540.9 211.0,1540.9 212.0,1540.8 213.0,1540.7 214.0,1540.7 215.0,1540.6 216.0,1540.5 217.1,1540.4 218.1,1540.3 219.1,1540.3 220.1,1540.2 221.1,1540.1 222.1,1540.0 223.1,1539.9 224.1,1539.8 225.1,1539.7 226.1,1539.6 227.1,1539.5 228.1,1539.4 229.1,1539.3 230.1,1539.2 231.1,1539.1 232.1,1539.0 233.1,1538.9 234.1,1538.8 235.1,1538.7 236.1,1538.5 237.1,1538.4 238.1,1538.3 239.1,1538.2 240.1,1538.0 241.1,1537.9 242.1,1537.8 243.1,1537.6 244.1,1537.5 245.1,1537.4 246.1,1537.2 247.1,1537.1 248.1,1536.9 249.1,1536.8 250.0,1536.6 251.0,1536.5 252.0,1536.3 253.0,1536.1 254.0,1536.0 255.0,1535.8 256.0,1535.6 257.0,1535.5 258.0,1535.3 258.9,1535.1 259.9,1534.9 260.9,1534.8 261.9,1534.6 262.9,1534.4 263.9,1534.2 264.8,1534.0 265.8,1533.8 266.8,1533.6 267.8,1533.4 268.8,1533.2 269.7,1533.0 270.7,1532.7 271.7,1532.5 272.7,1532.3 273.6,1532.1 274.6,1531.9 275.6,1531.6 276.5,1531.4 277.5,1531.2 278.5,1530.9 279.5,1530.7 280.4,1530.4 281.4,1530.2 282.3,1529.9 283.3,1529.7 284.3,1529.4 285.2,1529.1 286.2,1528.9 287.1,1528.6 288.1,1528.3 289.1,1528.1 290.0,1527.8 291.0,1527.5 291.9,1527.2 292.9,1526.9 293.8,1526.6 294.8,1526.3 295.7,1526.0 296.6,1525.7 297.6,1525.4 298.5,1525.1 299.5,1524.8 300.4,1524.4 301.4,1524.1 302.3,1523.8 303.2,1523.5 304.2,1523.1 305.1,1522.8 306.0,1522.4 307.0,1522.1 307.9,1521.7 308.8,1521.4 309.7,1521.0 310.7,1520.7 311.6,1520.3 312.5,1519.9 313.4,1519.6 314.3,1519.2 315.3,1518.8 316.2,1518.4 317.1,1518.0 318.0,1517.6 318.9,1517.2 319.8,1516.8 320.7,1516.4 321.6,1516.0 322.5,1515.6 323.5,1515.2 324.4,1514.8 325.3,1514.4 326.2,1514.0 327.1,1513.6 328.0,1513.1 328.8,1512.7 329.7,1512.3 330.6,1511.8 331.5,1511.4 332.4,1510.9 333.3,1510.5 334.2,1510.1 335.1,1509.6 336.0,1509.1 336.9,1508.7 337.7,1508.2 338.6,1507.8 339.5,1507.3 340.4,1506.8 341.2,1506.4 342.1,1505.9 343.0,1505.4 343.9,1504.9 344.7,1504.4 345.6,1503.9 346.5,1503.5 347.3,1503.0 348.2,1502.5 349.1,1502.0 349.9,1501.5 350.8,1501.0 351.7,1500.5 352.5,1499.9 353.4,1499.4 354.2,1498.9 355.1,1498.4 355.9,1497.9 356.8,1497.4 357.6,1496.8 358.5,1496.3 359.3,1495.8 360.2,1495.2 361.0,1494.7 361.9,1494.2 362.7,1493.6 363.6,1493.1 364.4,1492.5 365.2,1492.0 366.1,1491.4 366.9,1490.9 367.7,1490.3 368.6,1489.8 369.4,1489.2 370.2,1488.7 371.0,1488.1 371.9,1487.5 372.7,1487.0 373.5,1486.4 374.3,1485.8 375.2,1485.2 376.0,1484.7 376.8,1484.1 377.6,1483.5 378.4,1482.9 379.2,1482.3 380.1,1481.7 380.9,1481.1 381.7,1480.6 382.5,1480.0 383.3,1479.4 384.1,1478.8 384.9,1478.2 385.7,1477.6 386.5,1477.0 387.3,1476.3 388.1,1475.7 388.9,1475.1 389.7,1474.5 390.5,1473.9 391.3,1473.3 392.1,1472.7 392.9,1472.1 393.6,1471.4 394.4,1470.8 395.2,1470.2 396.0,1469.6 396.8,1468.9 397.6,1468.3 398.3,1467.7 399.1,1467.0 399.9,1466.4 400.7,1465.8 401.4,1465.1 402.2,1464.5 403.0,1463.8 403.8,1463.2 404.5,1462.6 405.3,1461.9 406.1,1461.3 406.8,1460.6 407.6,1460.0 408.3,1459.3 409.1,1458.7 409.9,1458.0 410.6,1457.4 411.4,1456.7 412.1,1456.0 412.9,1455.4 413.6,1454.7 414.4,1454.1 415.1,1453.4 415.9,1452.7 416.6,1452.1 417.4,1451.4 418.1,1450.7 418.9,1450.1 419.6,1449.4 420.3,1448.7 421.1,1448.1 421.8,1447.4 422.5,1446.7 423.3,1446.0 424.0,1445.4 424.7,1444.7 425.5,1444.0 426.2,1443.3 426.9,1442.6 427.6,1442.0 428.4,1441.3 429.1,1440.6 429.8,1439.9 430.5,1439.2 431.3,1438.6 432.0,1437.9 432.7,1437.2 433.4,1436.5 434.2,1435.8 434.9,1435.2 435.6,1434.5 436.3,1433.8 437.1,1433.1 437.8,1432.4 438.5,1431.8 439.2,1431.1 440.0,1430.4 440.7,1429.7 441.4,1429.0 442.1,1428.4 442.9,1427.7 443.6,1427.0 444.3,1426.3 445.1,1425.7 445.8,1425.0 446.5,1424.3 447.2,1423.6 448.0,1423.0 448.7,1422.3 449.5,1421.6 450.2,1421.0 450.9,1420.3 451.7,1419.6 452.4,1419.0 453.2,1418.3 453.9,1417.7 454.6,1417.0 455.4,1416.3 456.1,1415.7 456.9,1415.0 457.7,1414.4 458.4,1413.7 459.2,1413.1 459.9,1412.5 460.7,1411.8 461.5,1411.2 462.2,1410.5 463.0,1409.9 463.8,1409.3 464.6,1408.6 465.3,1408.0 466.1,1407.4 466.9,1406.8 467.7,1406.1 468.5,1405.5 469.3,1404.9 470.1,1404.3 470.9,1403.7 471.7,1403.1 472.5,1402.5 473.3,1401.9 474.1,1401.3 474.9,1400.7 475.8,1400.1 476.6,1399.5 477.4,1398.9 478.2,1398.3 479.1,1397.8 479.9,1397.2 480.8,1396.6 481.6,1396.1 482.5,1395.5 483.3,1394.9 484.2,1394.4 485.0,1393.8 485.9,1393.3 486.8,1392.8 487.7,1392.2 488.5,1391.7 489.4,1391.2 490.3,1390.7 491.2,1390.2 492.1,1389.7 493.0,1389.2 493.9,1388.7 494.8,1388.2 495.7,1387.8 496.6,1387.3 497.5,1386.8 498.4,1386.4 499.3,1386.0 500.2,1385.5 501.2,1385.1 502.1,1384.7 503.0,1384.3 503.9,1383.9 504.8,1383.6 505.8,1383.2 506.7,1382.8 507.6,1382.5 508.6,1382.2 509.5,1381.8 510.5,1381.5 511.4,1381.2 512.3,1380.9 513.3,1380.7 514.2,1380.4 515.2,1380.2 516.1,1379.9 517.1,1379.7 518.0,1379.5 519.0,1379.3 519.9,1379.1 520.9,1379.0 521.8,1378.8 522.8,1378.7 523.7,1378.6 524.7,1378.5 525.6,1378.4 526.6,1378.3 527.5,1378.3 528.5,1378.3 529.5,1378.2 530.4,1378.2 531.4,1378.3 532.3,1378.3 533.3,1378.3 534.2,1378.4 535.2,1378.5 536.1,1378.6 537.1,1378.7 538.1,1378.9 539.0,1379.1 540.0,1379.2 540.9,1379.4 541.9,1379.7 542.8,1379.9 543.8,1380.2 544.7,1380.5 545.7,1380.8 546.6,1381.1 547.6,1381.4 548.5,1381.8 549.4,1382.1 550.4,1382.5 551.3,1382.9 552.2,1383.3 553.1,1383.7 554.1,1384.2 555.0,1384.6 555.9,1385.1 556.8,1385.6 557.7,1386.1 558.6,1386.6 559.5,1387.1 560.4,1387.7 561.3,1388.2 562.1,1388.8 563.0,1389.3 563.9,1389.9 564.7,1390.5 565.6,1391.1 566.4,1391.7 567.2,1392.3 568.1,1393.0 568.9,1393.6 569.7,1394.3 570.5,1394.9 571.3,1395.6 572.1,1396.2 572.9,1396.9 573.6,1397.6 574.4,1398.3 575.2,1399.0 575.9,1399.7 576.6,1400.4 577.4,1401.1 578.1,1401.8 578.8,1402.5 579.5,1403.2 580.2,1403.9 580.9,1404.7 581.6,1405.4 582.2,1406.2 582.9,1406.9 583.6,1407.7 584.2,1408.4 584.9,1409.2 585.5,1410.0 586.1,1410.7 586.7,1411.5 587.4,1412.3 588.0,1413.1 588.6,1413.9 589.2,1414.7 589.8,1415.5 590.4,1416.3 591.0,1417.1 591.5,1417.9 592.1,1418.7 592.7,1419.5 593.2,1420.3 593.8,1421.1 594.4,1422.0 594.9,1422.8 595.5,1423.6 596.0,1424.4 596.5,1425.3 597.1,1426.1 597.6,1426.9 598.1,1427.8 598.7,1428.6 599.2,1429.5 599.7,1430.3 600.2,1431.2 600.7,1432.0 601.2,1432.9 601.7,1433.7 602.2,1434.6 602.7,1435.4 603.2,1436.3 603.7,1437.2 604.2,1438.0 604.7,1438.9 605.2,1439.7 605.7,1440.6 606.2,1441.5 606.7,1442.3 607.2,1443.2 607.7,1444.1 608.2,1444.9 608.6,1445.8 609.1,1446.7 609.6,1447.5 610.1,1448.4 610.6,1449.3 611.0,1450.2 611.5,1451.0 612.0,1451.9 612.5,1452.8 612.9,1453.7 613.4,1454.5 613.9,1455.4 614.3,1456.3 614.8,1457.2 615.3,1458.0 615.7,1458.9 616.2,1459.8 616.7,1460.7 617.1,1461.6 617.6,1462.5 618.0,1463.3 618.5,1464.2 619.0,1465.1 619.4,1466.0 619.9,1466.9 620.3,1467.8 620.8,1468.6 621.2,1469.5 621.7,1470.4 622.1,1471.3 622.6,1472.2 623.0,1473.1 623.4,1474.0 623.9,1474.9 624.3,1475.8 624.8,1476.7 625.2,1477.6 625.6,1478.4 626.1,1479.3 626.5,1480.2 627.0,1481.1 627.4,1482.0 627.8,1482.9 628.2,1483.8 628.7,1484.7 629.1,1485.6 629.5,1486.5 630.0,1487.4 630.4,1488.3 630.8,1489.2 631.2,1490.1 631.7,1491.0 632.1,1491.9 632.5,1492.8 632.9,1493.7 633.4,1494.6 633.8,1495.5 634.2,1496.4 634.6,1497.4 635.0,1498.3 635.4,1499.2 635.9,1500.1 636.3,1501.0 636.7,1501.9 637.1,1502.8 637.5,1503.7 637.9,1504.6 638.3,1505.5 638.7,1506.4 639.1,1507.3 639.5,1508.3 639.9,1509.2 640.4,1510.1 640.8,1511.0 641.2,1511.9 641.6,1512.8 642.0,1513.7 642.4,1514.7 642.8,1515.6 643.2,1516.5 643.6,1517.4 644.0,1518.3 644.4,1519.2 644.8,1520.1 645.2,1521.1 645.5,1522.0 645.9,1522.9 646.3,1523.8 646.7,1524.7 647.1,1525.7 647.5,1526.6 647.9,1527.5 648.3,1528.4 648.7,1529.3 649.1,1530.3 649.5,1531.2 649.8,1532.1 650.2,1533.0 650.6,1533.9 651.0,1534.9 651.4,1535.8 651.8,1536.7 652.2,1537.6 652.5,1538.6 652.9,1539.5 653.3,1540.4 653.7,1541.3 654.1,1542.3 654.4,1543.2 654.8,1544.1 655.2,1545.0 655.6,1546.0 656.0,1546.9 656.3,1547.8 656.7,1548.8 657.1,1549.7 657.5,1550.6 657.8,1551.5 658.2,1552.5 658.6,1553.4 659.0,1554.3 659.3,1555.3 659.7,1556.2 660.1,1557.1 660.4,1558.1 660.8,1559.0 661.2,1559.9 661.5,1560.8 661.9,1561.8 662.3,1562.7 662.6,1563.6 663.0,1564.6 663.4,1565.5 663.7,1566.4 664.1,1567.4 664.4,1568.3 664.8,1569.2 665.2,1570.2 665.5,1571.1 665.9,1572.1 666.2,1573.0 666.6,1573.9 667.0,1574.9 667.3,1575.8 667.7,1576.7 668.0,1577.7 668.4,1578.6 668.7,1579.5 669.1,1580.5 669.4,1581.4 669.8,1582.4 670.1,1583.3 670.5,1584.2 670.9,1585.2 671.2,1586.1 671.6,1587.1 671.9,1588.0 672.2,1588.9 672.6,1589.9 672.9,1590.8 673.3,1591.8 673.6,1592.7 674.0,1593.6 674.3,1594.6 674.7,1595.5 675.0,1596.5 675.4,1597.4 675.7,1598.3 676.0,1599.3 676.4,1600.2 676.7,1601.2 677.1,1602.1 677.4,1603.1 677.7,1604.0 678.1,1604.9 678.4,1605.9 678.7,1606.8 679.1,1607.8 679.4,1608.7 679.7,1609.7 680.1,1610.6 680.4,1611.6 680.7,1612.5 681.1,1613.4 681.4,1614.4 681.7,1615.3 682.1,1616.3 682.4,1617.2 682.7,1618.2 683.1,1619.1 683.4,1620.1 683.7,1621.0 684.0,1622.0 684.4,1622.9 684.7,1623.9 685.0,1624.8 685.3,1625.8 685.7,1626.7 686.0,1627.7 686.3,1628.6 686.6,1629.6 687.0,1630.5 687.3,1631.4 687.6,1632.4 687.9,1633.3 688.2,1634.3 688.5,1635.2 688.9,1636.2 689.2,1637.1 689.5,1638.1 689.8,1639.0 690.1,1640.0 690.4,1640.9 690.8,1641.9 691.1,1642.8 691.4,1643.8 691.7,1644.8 692.0,1645.7 692.3,1646.7 692.6,1647.6 692.9,1648.6 693.3,1649.5 693.6,1650.5 693.9,1651.4 694.2,1652.4 694.5,1653.3 694.8,1654.3 695.1,1655.2 695.4,1656.2 695.7,1657.1 696.0,1658.1 696.3,1659.0 696.6,1660.0 696.9,1660.9 697.2,1661.9 697.5,1662.8 697.8,1663.8 698.1,1664.7 698.4,1665.7 698.7,1666.7 699.0,1667.6 699.3,1668.6 699.6,1669.5 699.9,1670.5 700.2,1671.4 700.5,1672.4 700.8,1673.3 701.1,1674.3 701.4,1675.2 701.7,1676.2 702.0,1677.1 702.3,1678.1 702.6,1679.1 702.9,1680.0 703.2,1681.0 703.5,1681.9 703.7,1682.9 704.0,1683.8 704.3,1684.8 704.6,1685.7 704.9,1686.7 705.2,1687.7 705.5,1688.6 705.8,1689.6 706.0,1690.5 706.3,1691.5 706.6,1692.4 706.9,1693.4 707.2,1694.3 707.5,1695.3 707.8,1696.2 708.0,1697.2 708.3,1698.2 708.6,1699.1 708.9,1700.1 709.2,1701.0 709.4,1702.0 709.7,1702.9 710.0,1703.9 710.3,1704.8 710.6,1705.8 710.8,1706.8 711.1,1707.7 711.4,1708.7 711.7,1709.6 711.9,1710.6 712.2,1711.5 712.5,1712.5 712.8,1713.4 713.0,1714.4 713.3,1715.4 713.6,1716.3 713.8,1717.3 714.1,1718.2 714.4,1719.2 714.7,1720.1 714.9,1721.1 715.2,1722.0 715.5,1723.0 715.7,1724.0 716.0,1724.9 716.3,1725.9 716.5,1726.8 716.8,1727.8 717.1,1728.7 717.3,1729.7 717.6,1730.7 717.9,1731.6 718.1,1732.6 718.4,1733.5 718.7,1734.5 718.9,1735.4 719.2,1736.4 719.5,1737.3 719.7,1738.3 720.0,1739.3 720.3,1740.2 720.5,1741.2 720.8,1742.1 721.1,1743.1 721.3,1744.0 721.6,1745.0 721.9,1745.9 722.1,1746.9 722.4,1747.9 722.6,1748.8 722.9,1749.8 723.2,1750.7 723.4,1751.7 723.7,1752.6 724.0,1753.6 724.2,1754.5 724.5,1755.5 724.8,1756.5 725.0,1757.4 725.3,1758.4 725.6,1759.3 725.8,1760.3 726.1,1761.2 726.4,1762.2 726.7,1763.1 726.9,1764.1 727.2,1765.1 727.5,1766.0 727.7,1767.0 728.0,1767.9 728.3,1768.9 728.5,1769.8 728.8,1770.8 729.1,1771.8 729.4,1772.7 729.6,1773.7 729.9,1774.6 730.2,1775.6 730.5,1776.5 730.7,1777.5 731.0,1778.4 731.3,1779.4 731.6,1780.4 731.9,1781.3 732.1,1782.3 732.4,1783.2 732.7,1784.2 733.0,1785.1 733.3,1786.1 733.6,1787.1 733.8,1788.0 734.1,1789.0 734.4,1789.9 734.7,1790.9 735.0,1791.8 735.3,1792.8 735.6,1793.8 735.9,1794.7 736.2,1795.7 736.5,1796.6 736.7,1797.6 737.0,1798.5 737.3,1799.5 737.6,1800.5 737.9,1801.4 738.2,1802.4 738.5,1803.3 738.8,1804.3 739.1,1805.2 739.4,1806.2 739.8,1807.2 740.1,1808.1 740.4,1809.1 740.7,1810.0 741.0,1811.0 741.3,1811.9 741.6,1812.9 741.9,1813.9 742.2,1814.8 742.6,1815.8 742.9,1816.7 743.2,1817.7 743.5,1818.7 743.9,1819.6 744.2,1820.6 744.5,1821.5 744.8,1822.5 745.2,1823.4 745.5,1824.4 745.8,1825.4 746.2,1826.3 746.5,1827.3 746.8,1828.2 747.2,1829.2 747.5,1830.2 747.9,1831.1 748.2,1832.1 748.5,1833.0 748.9,1834.0 749.2,1835.0 749.6,1835.9 749.9,1836.9 750.3,1837.8 750.7,1838.8 751.0,1839.7 751.4,1840.7 751.7,1841.7 752.1,1842.6 752.5,1843.6 752.8,1844.5 753.2,1845.5 753.6,1846.5 753.9,1847.4 754.3,1848.4 754.7,1849.3 755.1,1850.3 755.5,1851.3 755.8,1852.2 756.2,1853.2 756.6,1854.2 757.0,1855.1 757.4,1856.1 757.8,1857.0 758.2,1858.0 758.6,1859.0 759.0,1859.9 759.4,1860.9 759.8,1861.8 760.2,1862.8 760.6,1863.8 761.0,1864.7 761.4,1865.7 761.8,1866.6 762.3,1867.6 762.7,1868.6 763.1,1869.5 763.6,1870.4 764.0,1871.4 764.4,1872.3 764.9,1873.2 765.3,1874.0 765.8,1874.9 766.3,1875.7 766.8,1876.5 767.3,1877.2 767.8,1878.0 768.3,1878.6 768.8,1879.3 769.4,1879.9 769.9,1880.5 770.5,1881.0 771.1,1881.4 771.7,1881.8 772.3,1882.2 772.9,1882.5 773.6,1882.7 774.3,1882.9 775.0,1883.0 775.7,1883.0 776.4,1882.9 777.2,1882.8 777.9,1882.7 778.7,1882.4 779.5,1882.1 780.2,1881.8 781.0,1881.4 781.8,1880.9 782.6,1880.4 783.3,1879.9 784.1,1879.3 784.9,1878.7 785.6,1878.0 786.3,1877.3 787.0,1876.5 787.7,1875.7 788.4,1874.9 789.0,1874.0 789.6,1873.2 790.2,1872.3 790.7,1871.3 791.2,1870.4 791.7,1869.4 792.2,1868.5 792.6,1867.5 793.1,1866.5 793.5,1865.5 793.9,1864.5 794.3,1863.5 794.6,1862.5 795.0,1861.5 795.4,1860.5 795.8,1859.5 796.1,1858.5 796.5,1857.6 796.8,1856.6 797.2,1855.6 797.5,1854.6 797.9,1853.6 798.2,1852.7 798.5,1851.7 798.9,1850.7 799.2,1849.8 799.5,1848.8 799.8,1847.9 800.1,1846.9 800.4,1845.9 800.7,1845.0 801.0,1844.0 801.3,1843.1 801.6,1842.1 801.8,1841.2 802.1,1840.2 802.4,1839.3 802.7,1838.3 802.9,1837.4 803.2,1836.4 803.4,1835.5 803.7,1834.5 804.0,1833.6 804.2,1832.6 804.5,1831.7 804.7,1830.7 804.9,1829.8 805.2,1828.8 805.4,1827.9 805.7,1826.9 805.9,1825.9 806.1,1825.0 806.4,1824.0 806.6,1823.1 806.8,1822.1 807.0,1821.1 807.3,1820.2 807.5,1819.2 807.7,1818.2 807.9,1817.3 808.1,1816.3 808.3,1815.3 808.6,1814.4 808.8,1813.4 809.0,1812.4 809.2,1811.4 809.4,1810.5 809.6,1809.5 809.8,1808.5 810.0,1807.5 810.2,1806.5 810.4,1805.6 810.6,1804.6 810.8,1803.6 811.0,1802.6 811.2,1801.7 811.4,1800.7 811.6,1799.7 811.8,1798.7 812.0,1797.7 812.2,1796.7 812.4,1795.8 812.6,1794.8 812.8,1793.8 813.0,1792.8 813.2,1791.8 813.4,1790.9 813.6,1789.9 813.8,1788.9 814.0,1787.9 814.2,1786.9 814.4,1786.0 814.6,1785.0 814.8,1784.0 815.0,1783.0 815.2,1782.0 815.4,1781.1 815.6,1780.1 815.8,1779.1 815.9,1778.1 816.1,1777.1 816.3,1776.1 816.5,1775.2 816.7,1774.2 816.9,1773.2 817.1,1772.2 817.3,1771.2 817.5,1770.3 817.7,1769.3 817.9,1768.3 818.1,1767.3 818.2,1766.3 818.4,1765.3 818.6,1764.4 818.8,1763.4 819.0,1762.4 819.2,1761.4 819.4,1760.4 819.6,1759.5 819.8,1758.5 819.9,1757.5 820.1,1756.5 820.3,1755.5 820.5,1754.5 820.7,1753.6 820.9,1752.6 821.1,1751.6 821.3,1750.6 821.4,1749.6 821.6,1748.6 821.8,1747.7 822.0,1746.7 822.2,1745.7 822.4,1744.7 822.6,1743.7 822.7,1742.7 822.9,1741.8 823.1,1740.8 823.3,1739.8 823.5,1738.8 823.7,1737.8 823.9,1736.9 824.0,1735.9 824.2,1734.9 824.4,1733.9 824.6,1732.9 824.8,1731.9 825.0,1731.0 825.1,1730.0 825.3,1729.0 825.5,1728.0 825.7,1727.0 825.9,1726.0 826.1,1725.1 826.2,1724.1 826.4,1723.1 826.6,1722.1 826.8,1721.1 827.0,1720.1 827.1,1719.2 827.3,1718.2 827.5,1717.2 827.7,1716.2 827.9,1715.2 828.0,1714.2 828.2,1713.3 828.4,1712.3 828.6,1711.3 828.8,1710.3 828.9,1709.3 829.1,1708.3 829.3,1707.4 829.5,1706.4 829.7,1705.4 829.8,1704.4 830.0,1703.4 830.2,1702.4 830.4,1701.5 830.6,1700.5 830.7,1699.5 830.9,1698.5 831.1,1697.5 831.3,1696.5 831.5,1695.6 831.6,1694.6 831.8,1693.6 832.0,1692.6 832.2,1691.6 832.3,1690.6 832.5,1689.6 832.7,1688.7 832.9,1687.7 833.0,1686.7 833.2,1685.7 833.4,1684.7 833.6,1683.7 833.8,1682.8 833.9,1681.8 834.1,1680.8 834.3,1679.8 834.5,1678.8 834.6,1677.8 834.8,1676.9 835.0,1675.9 835.2,1674.9 835.3,1673.9 835.5,1672.9 835.7,1671.9 835.9,1671.0 836.1,1670.0 836.2,1669.0 836.4,1668.0 836.6,1667.0 836.8,1666.0 836.9,1665.1 837.1,1664.1 837.3,1663.1 837.5,1662.1 837.6,1661.1 837.8,1660.1 838.0,1659.1 838.2,1658.2 838.3,1657.2 838.5,1656.2 838.7,1655.2 838.9,1654.2 839.0,1653.2 839.2,1652.3 839.4,1651.3 839.6,1650.3 839.7,1649.3 839.9,1648.3 840.1,1647.3 840.3,1646.4 840.4,1645.4 840.6,1644.4 840.8,1643.4 841.0,1642.4 841.1,1641.4 841.3,1640.5 841.5,1639.5 841.7,1638.5 841.9,1637.5 842.0,1636.5 842.2,1635.5 842.4,1634.6 842.6,1633.6 842.7,1632.6 842.9,1631.6 843.1,1630.6 843.3,1629.6 843.4,1628.7 843.6,1627.7 843.8,1626.7 844.0,1625.7 844.1,1624.7 844.3,1623.7 844.5,1622.7 844.7,1621.8 844.8,1620.8 845.0,1619.8 845.2,1618.8 845.4,1617.8 845.5,1616.8 845.7,1615.9 845.9,1614.9 846.1,1613.9 846.2,1612.9 846.4,1611.9 846.6,1610.9 846.8,1610.0 847.0,1609.0 847.1,1608.0 847.3,1607.0 847.5,1606.0 847.7,1605.0 847.8,1604.1 848.0,1603.1 848.2,1602.1 848.4,1601.1 848.5,1600.1 848.7,1599.1 848.9,1598.2 849.1,1597.2 849.3,1596.2 849.4,1595.2 849.6,1594.2 849.8,1593.2 850.0,1592.3 850.2,1591.3 850.3,1590.3 850.5,1589.3 850.7,1588.3 850.9,1587.4 851.0,1586.4 851.2,1585.4 851.4,1584.4 851.6,1583.4 851.8,1582.4 851.9,1581.5 852.1,1580.5 852.3,1579.5 852.5,1578.5 852.7,1577.5 852.8,1576.5 853.0,1575.6 853.2,1574.6 853.4,1573.6 853.6,1572.6 853.7,1571.6 853.9,1570.6 854.1,1569.7 854.3,1568.7 854.5,1567.7 854.6,1566.7 854.8,1565.7 855.0,1564.8 855.2,1563.8 855.4,1562.8 855.6,1561.8 855.7,1560.8 855.9,1559.8 856.1,1558.9 856.3,1557.9 856.5,1556.9 856.6,1555.9 856.8,1554.9 857.0,1554.0 857.2,1553.0 857.4,1552.0 857.6,1551.0 857.8,1550.0 857.9,1549.0 858.1,1548.1 858.3,1547.1 858.5,1546.1 858.7,1545.1 858.9,1544.1 859.0,1543.2 859.2,1542.2 859.4,1541.2 859.6,1540.2 859.8,1539.2 860.0,1538.3 860.2,1537.3 860.3,1536.3 860.5,1535.3 860.7,1534.3 860.9,1533.3 861.1,1532.4 861.3,1531.4 861.5,1530.4 861.7,1529.4 861.9,1528.4 862.0,1527.5 862.2,1526.5 862.4,1525.5" fill="none" stroke="#4862d4" stroke-width="3.0" stroke-linejoin="round" stroke-linecap="butt"/>
</g>
<rect x="106.20" y="1352.60" width="792.30" height="558.30" fill="none" stroke="#3c3c3c" stroke-width="2.1"/>
<line x1="142.20" y1="1910.90" x2="142.20" y2="1916.90" stroke="#3c3c3c" stroke-width="1.8"/>
<line x1="382.29" y1="1910.90" x2="382.29" y2="1916.90" stroke="#3c3c3c" stroke-width="1.8"/>
<line x1="622.38" y1="1910.90" x2="622.38" y2="1916.90" stroke="#3c3c3c" stroke-width="1.8"/>
<line x1="862.47" y1="1910.90" x2="862.47" y2="1916.90" stroke="#3c3c3c" stroke-width="1.8"/>
<line x1="100.20" y1="1411.62" x2="106.20" y2="1411.62" stroke="#3c3c3c" stroke-width="1.8"/>
<line x1="100.20" y1="1542.60" x2="106.20" y2="1542.60" stroke="#3c3c3c" stroke-width="1.8"/>
<line x1="100.20" y1="1673.58" x2="106.20" y2="1673.58" stroke="#3c3c3c" stroke-width="1.8"/>
<line x1="100.20" y1="1804.56" x2="106.20" y2="1804.56" stroke="#3c3c3c" stroke-width="1.8"/>
<line x1="129.00" y1="449.80" x2="182.00" y2="449.80" stroke="#cc1f40" stroke-width="2.65"/>
<line x1="129.00" y1="486.20" x2="182.00" y2="486.20" stroke="#35994a" stroke-width="2.65" stroke-dasharray="9.80 4.24"/>
<line x1="129.00" y1="522.50" x2="182.00" y2="522.50" stroke="#e8905e" stroke-width="2.65" stroke-dasharray="2.65 4.37"/>
<line x1="129.00" y1="558.70" x2="182.00" y2="558.70" stroke="#4862d4" stroke-width="2.65" stroke-dasharray="16.96 4.24 2.65 4.24"/>
<line x1="127.40" y1="714.60" x2="180.20" y2="714.60" stroke="#cc1f40" stroke-width="2.65"/>
<line x1="127.40" y1="750.30" x2="180.20" y2="750.30" stroke="#35994a" stroke-width="2.65" stroke-dasharray="9.80 4.24"/>
<line x1="127.40" y1="785.80" x2="180.20" y2="785.80" stroke="#e8905e" stroke-width="2.65" stroke-dasharray="2.65 4.37"/>
<line x1="127.40" y1="821.50" x2="180.20" y2="821.50" stroke="#4862d4" stroke-width="2.65" stroke-dasharray="16.96 4.24 2.65 4.24"/>
<line x1="129.20" y1="1766.40" x2="192.80" y2="1766.40" stroke="#cc1f40" stroke-width="2.6"/>
<line x1="129.20" y1="1772.00" x2="192.80" y2="1772.00" stroke="#cc1f40" stroke-width="2.6" stroke-dasharray="14.2 7.1"/>
<line x1="129.20" y1="1801.40" x2="192.80" y2="1801.40" stroke="#35994a" stroke-width="2.6"/>
<line x1="129.20" y1="1807.00" x2="192.80" y2="1807.00" stroke="#35994a" stroke-width="2.6" stroke-dasharray="14.2 7.1"/>
<line x1="129.20" y1="1837.00" x2="192.80" y2="1837.00" stroke="#ef8030" stroke-width="2.6"/>
<line x1="129.20" y1="1842.60" x2="192.80" y2="1842.60" stroke="#ef8030" stroke-width="2.6" stroke-dasharray="14.2 7.1"/>
<line x1="129.20" y1="1872.60" x2="192.80" y2="1872.60" stroke="#4862d4" stroke-width="2.6"/>
<line x1="129.20" y1="1878.20" x2="192.80" y2="1878.20" stroke="#4862d4" stroke-width="2.6" stroke-dasharray="14.2 7.1"/>
<text id="t1" x="107.40" y="18.50" font-size="19.6">×<tspan font-weight="bold" dx="2.6" letter-spacing="1.3">10</tspan><tspan font-weight="bold" font-size="13.2" dy="-8" dx="-1.3">4</tspan></text>
<text id="t2" x="95.20" y="170.30" font-size="19.6" text-anchor="end" font-weight="bold">6</text>
<text id="t3" x="95.20" y="315.00" font-size="19.6" text-anchor="end" font-weight="bold">4</text>
<text id="t4" x="95.20" y="459.70" font-size="19.6" text-anchor="end" font-weight="bold">2</text>
<text id="t5" x="143.50" y="621.90" font-size="19.6" text-anchor="middle" font-weight="bold" textLength="37.00" lengthAdjust="spacingAndGlyphs">0.0</text>
<text id="t6" x="380.13" y="621.90" font-size="19.6" text-anchor="middle" font-weight="bold" textLength="37.00" lengthAdjust="spacingAndGlyphs">0.1</text>
<text id="t7" x="616.76" y="621.90" font-size="19.6" text-anchor="middle" font-weight="bold" textLength="37.00" lengthAdjust="spacingAndGlyphs">0.2</text>
<text id="t8" x="853.39" y="621.90" font-size="19.6" text-anchor="middle" font-weight="bold" textLength="37.00" lengthAdjust="spacingAndGlyphs">0.3</text>
<text id="t9" x="498.00" y="655.80" font-size="30.2" text-anchor="middle" textLength="75.00" lengthAdjust="spacing"><tspan font-style="italic">r</tspan> (m)</text>
<text id="t10" x="67.00" y="310.00" font-size="30.0" text-anchor="middle" transform="rotate(-90 67.00 310.00)"><tspan font-style="italic">p</tspan> (Pa)</text>
<text id="t11" x="202.00" y="458.20" font-size="23.3" textLength="103.00" lengthAdjust="spacingAndGlyphs">w/o flow</text>
<text id="t12" x="202.00" y="494.40" font-size="23.3" textLength="278.00" lengthAdjust="spacingAndGlyphs">RR flow, Ω<tspan font-size="16.31" dy="3.61">0</tspan><tspan font-size="16.31" font-style="italic">m</tspan><tspan dy="-3.61"> ∼ 0.23</tspan>Ω<tspan font-size="16.31" font-style="italic" dy="4.43">A</tspan></text>
<text id="t13" x="202.00" y="530.20" font-size="23.3" textLength="469.30" lengthAdjust="spacingAndGlyphs">double-peaked rotation,Ω<tspan font-size="16.31" dy="3.61">0</tspan><tspan font-size="16.31" font-style="italic">m</tspan><tspan dy="-3.61"> ∼ 0.38</tspan>Ω<tspan font-size="16.31" font-style="italic" dy="4.43">A</tspan></text>
<text id="t14" x="202.00" y="566.60" font-size="23.3" textLength="459.00" lengthAdjust="spacingAndGlyphs">single-peaked rotation,Ω<tspan font-size="16.31" dy="3.61">0</tspan><tspan font-size="16.31" font-style="italic">m</tspan><tspan dy="-3.61"> ∼ 0.36</tspan>Ω<tspan font-size="16.31" font-style="italic" dy="4.43">A</tspan></text>
<text id="t15" x="169.30" y="374.60" font-size="60.4" transform="translate(169.30 374.60) scale(1.065 1) translate(-169.30 -374.60)" font-family="&apos;Noto Sans CJK JP&apos;, &apos;DejaVu Sans&apos;, sans-serif" stroke="#000" stroke-width="0.7">(a)</text>
<text id="t16" x="92.90" y="737.20" font-size="19.6" text-anchor="end" font-weight="bold" textLength="37.30" lengthAdjust="spacingAndGlyphs">0.4</text>
<text id="t17" x="92.90" y="857.15" font-size="19.6" text-anchor="end" font-weight="bold" textLength="37.30" lengthAdjust="spacingAndGlyphs">0.2</text>
<text id="t18" x="92.90" y="977.10" font-size="19.6" text-anchor="end" font-weight="bold" textLength="37.30" lengthAdjust="spacingAndGlyphs">0.0</text>
<text id="t19" x="92.90" y="1097.05" font-size="19.6" text-anchor="end" font-weight="bold" textLength="55.00" lengthAdjust="spacingAndGlyphs">−0.2</text>
<text id="t20" x="92.90" y="1217.00" font-size="19.6" text-anchor="end" font-weight="bold" textLength="55.00" lengthAdjust="spacingAndGlyphs">−0.4</text>
<text id="t21" x="141.05" y="1268.90" font-size="19.6" text-anchor="middle" font-weight="bold" textLength="37.00" lengthAdjust="spacingAndGlyphs">0.0</text>
<text id="t22" x="381.20" y="1268.90" font-size="19.6" text-anchor="middle" font-weight="bold" textLength="37.00" lengthAdjust="spacingAndGlyphs">0.1</text>
<text id="t23" x="621.35" y="1268.90" font-size="19.6" text-anchor="middle" font-weight="bold" textLength="37.00" lengthAdjust="spacingAndGlyphs">0.2</text>
<text id="t24" x="861.50" y="1268.90" font-size="19.6" text-anchor="middle" font-weight="bold" textLength="37.00" lengthAdjust="spacingAndGlyphs">0.3</text>
<text id="t25" x="500.60" y="1301.60" font-size="30.2" text-anchor="middle" textLength="76.20" lengthAdjust="spacing"><tspan font-style="italic">r</tspan> (m)</text>
<text id="t26" x="23.00" y="962.90" font-size="29.6" text-anchor="middle" transform="rotate(-90 23.00 962.90)"><tspan font-style="italic">B</tspan><tspan font-size="20.7" dy="4.4" font-style="italic">z</tspan><tspan dy="-4.4"> (T)</tspan></text>
<text id="t27" x="201.00" y="722.80" font-size="23.3" textLength="103.00" lengthAdjust="spacingAndGlyphs">w/o flow</text>
<text id="t28" x="201.00" y="758.50" font-size="23.3" textLength="281.00" lengthAdjust="spacingAndGlyphs">RR flow, Ω<tspan font-size="16.31" dy="3.61">0</tspan><tspan font-size="16.31" font-style="italic">m</tspan><tspan dy="-3.61"> ∼ 0.23</tspan>Ω<tspan font-size="16.31" font-style="italic" dy="4.43">A</tspan></text>
<text id="t29" x="201.00" y="794.00" font-size="23.3" textLength="476.00" lengthAdjust="spacingAndGlyphs">double-peaked rotation,Ω<tspan font-size="16.31" dy="3.61">0</tspan><tspan font-size="16.31" font-style="italic">m</tspan><tspan dy="-3.61"> ∼ 0.38</tspan>Ω<tspan font-size="16.31" font-style="italic" dy="4.43">A</tspan></text>
<text id="t30" x="201.00" y="829.70" font-size="23.3" textLength="465.00" lengthAdjust="spacingAndGlyphs">single-peaked rotation,Ω<tspan font-size="16.31" dy="3.61">0</tspan><tspan font-size="16.31" font-style="italic">m</tspan><tspan dy="-3.61"> ∼ 0.36</tspan>Ω<tspan font-size="16.31" font-style="italic" dy="4.43">A</tspan></text>
<text id="t31" x="169.30" y="1051.10" font-size="60.4" transform="translate(169.30 1051.10) scale(1.078 1) translate(-169.30 -1051.10)" font-family="&apos;Noto Sans CJK JP&apos;, &apos;DejaVu Sans&apos;, sans-serif" stroke="#000" stroke-width="0.7">(b)</text>
<text id="t32" x="105.90" y="1347.50" font-size="19.6">×<tspan font-weight="bold" dx="2.6" letter-spacing="1.3">10</tspan><tspan font-weight="bold" font-size="13.2" dy="-8" dx="-1.3">6</tspan></text>
<text id="t33" x="93.60" y="1418.62" font-size="19.6" text-anchor="end" font-weight="bold" textLength="37.30" lengthAdjust="spacingAndGlyphs">0.6</text>
<text id="t34" x="93.60" y="1549.60" font-size="19.6" text-anchor="end" font-weight="bold" textLength="37.30" lengthAdjust="spacingAndGlyphs">0.0</text>
<text id="t35" x="93.60" y="1680.58" font-size="19.6" text-anchor="end" font-weight="bold" textLength="55.00" lengthAdjust="spacingAndGlyphs">−0.6</text>
<text id="t36" x="93.60" y="1811.56" font-size="19.6" text-anchor="end" font-weight="bold" textLength="55.00" lengthAdjust="spacingAndGlyphs">−1.2</text>
<text id="t37" x="142.20" y="1937.60" font-size="19.6" text-anchor="middle" font-weight="bold" textLength="36.50" lengthAdjust="spacingAndGlyphs">0.0</text>
<text id="t38" x="382.29" y="1937.60" font-size="19.6" text-anchor="middle" font-weight="bold" textLength="36.50" lengthAdjust="spacingAndGlyphs">0.1</text>
<text id="t39" x="622.38" y="1937.60" font-size="19.6" text-anchor="middle" font-weight="bold" textLength="36.50" lengthAdjust="spacingAndGlyphs">0.2</text>
<text id="t40" x="862.47" y="1937.60" font-size="19.6" text-anchor="middle" font-weight="bold" textLength="36.50" lengthAdjust="spacingAndGlyphs">0.3</text>
<text id="t41" x="502.00" y="1972.20" font-size="30.2" text-anchor="middle" textLength="76.20" lengthAdjust="spacing"><tspan font-style="italic">r</tspan> (m)</text>
<text id="t42" x="215.00" y="1776.60" font-size="23.6" textLength="104.00" lengthAdjust="spacingAndGlyphs">w/o flow</text>
<text id="t43" x="215.00" y="1811.60" font-size="23.6" textLength="281.50" lengthAdjust="spacingAndGlyphs">RR flow, Ω<tspan font-size="16.52" dy="3.66">0</tspan><tspan font-size="16.52" font-style="italic">m</tspan><tspan dy="-3.66"> ∼ 0.23</tspan>Ω<tspan font-size="16.52" font-style="italic" dy="4.48">A</tspan></text>
<text id="t44" x="215.00" y="1847.10" font-size="23.6" textLength="484.00" lengthAdjust="spacingAndGlyphs">double-peaked rotation, Ω<tspan font-size="16.52" dy="3.66">0</tspan><tspan font-size="16.52" font-style="italic">m</tspan><tspan dy="-3.66"> ∼ 0.38</tspan>Ω<tspan font-size="16.52" font-style="italic" dy="4.48">A</tspan></text>
<text id="t45" x="215.00" y="1882.70" font-size="23.6" textLength="473.00" lengthAdjust="spacingAndGlyphs">single-peaked rotation, Ω<tspan font-size="16.52" dy="3.66">0</tspan><tspan font-size="16.52" font-style="italic">m</tspan><tspan dy="-3.66"> ∼ 0.36</tspan>Ω<tspan font-size="16.52" font-style="italic" dy="4.48">A</tspan></text>
<text id="t46" x="170.20" y="1454.60" font-size="60.4" transform="translate(170.20 1454.60) scale(1.024 1) translate(-170.20 -1454.60)" font-family="&apos;Noto Sans CJK JP&apos;, &apos;DejaVu Sans&apos;, sans-serif" stroke="#000" stroke-width="0.7">(c)</text>
</svg>
</body></html>
